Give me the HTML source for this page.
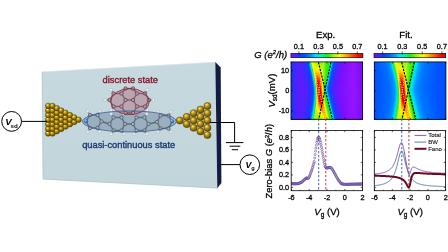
<!DOCTYPE html>
<html lang="en"><head><meta charset="utf-8"><title>Figure</title>
<style>html,body{margin:0;padding:0;background:#fff;overflow:hidden}svg{display:block}.c text{stroke:#000;stroke-width:.28px}</style>
</head><body>
<svg width="448" height="252" viewBox="0 0 448 252" font-family='"Liberation Sans", Arial, Helvetica, sans-serif'>
<rect width="448" height="252" fill="#fff"/>
<defs>
<radialGradient id="au" cx="0.38" cy="0.32" r="0.75"><stop offset="0" stop-color="#fffbd8"/><stop offset="0.14" stop-color="#e2c440"/><stop offset="0.42" stop-color="#b08c0c"/><stop offset="0.8" stop-color="#735800"/><stop offset="1" stop-color="#3f2f00"/></radialGradient>
<radialGradient id="nn" cx="0.4" cy="0.35" r="0.7"><stop offset="0" stop-color="#9fd0ff"/><stop offset="0.5" stop-color="#2f7fd0"/><stop offset="1" stop-color="#174a8c"/></radialGradient>
<linearGradient id="pan" x1="0" y1="0" x2="0" y2="1"><stop offset="0" stop-color="#c6d9de"/><stop offset="1" stop-color="#c1d5db"/></linearGradient>
</defs>
<polygon points="41.9,71.7 215.3,62 217.3,188.3 42.9,179.3" fill="url(#pan)"/>
<polygon points="215.3,62 220.7,67.4 221.4,182.9 217.3,188.3" fill="#101c44"/>
<polyline points="41.9,71.9 215.3,62.2" fill="none" stroke="#dfeaee" stroke-width="0.6"/>
<polyline points="42.1,71.7 43.1,179.1 217.2,188.1" fill="none" stroke="#afc3c9" stroke-width="0.7"/>
<ellipse cx="130" cy="101.6" rx="19.3" ry="13" fill="#a8465c" fill-opacity="0.34"/>
<ellipse cx="129.4" cy="121.4" rx="47" ry="10.5" fill="#48658a" fill-opacity="0.34"/>
<line x1="168.5" y1="115.5" x2="172.0" y2="122.0" stroke="#616c79" stroke-width="1.4"/><line x1="144.5" y1="130.5" x2="148.5" y2="124.0" stroke="#616c79" stroke-width="1.4"/><line x1="136.5" y1="130.5" x2="144.5" y2="130.5" stroke="#616c79" stroke-width="1.4"/><line x1="133.0" y1="124.0" x2="136.5" y2="130.5" stroke="#616c79" stroke-width="1.4"/><line x1="113.5" y1="130.5" x2="121.5" y2="130.5" stroke="#616c79" stroke-width="1.4"/><line x1="86.0" y1="121.5" x2="90.0" y2="115.0" stroke="#616c79" stroke-width="1.4"/><line x1="160.5" y1="115.5" x2="168.5" y2="115.5" stroke="#616c79" stroke-width="1.4"/><line x1="109.5" y1="124.0" x2="113.5" y2="117.5" stroke="#616c79" stroke-width="1.4"/><line x1="101.5" y1="121.5" x2="109.5" y2="124.0" stroke="#616c79" stroke-width="1.4"/><line x1="121.5" y1="117.5" x2="125.0" y2="124.0" stroke="#616c79" stroke-width="1.4"/><line x1="160.5" y1="128.5" x2="168.5" y2="128.5" stroke="#616c79" stroke-width="1.4"/><line x1="136.5" y1="117.5" x2="144.5" y2="117.5" stroke="#616c79" stroke-width="1.4"/><line x1="157.0" y1="122.0" x2="160.5" y2="128.5" stroke="#616c79" stroke-width="1.4"/><line x1="121.5" y1="130.5" x2="125.0" y2="124.0" stroke="#616c79" stroke-width="1.4"/><line x1="168.5" y1="128.5" x2="172.0" y2="122.0" stroke="#616c79" stroke-width="1.4"/><line x1="113.5" y1="117.5" x2="121.5" y2="117.5" stroke="#616c79" stroke-width="1.4"/><line x1="90.0" y1="128.0" x2="97.5" y2="128.0" stroke="#616c79" stroke-width="1.4"/><line x1="133.0" y1="124.0" x2="136.5" y2="117.5" stroke="#616c79" stroke-width="1.4"/><line x1="97.5" y1="115.0" x2="101.5" y2="121.5" stroke="#616c79" stroke-width="1.4"/><line x1="97.5" y1="128.0" x2="101.5" y2="121.5" stroke="#616c79" stroke-width="1.4"/><line x1="86.0" y1="121.5" x2="90.0" y2="128.0" stroke="#616c79" stroke-width="1.4"/><line x1="90.0" y1="115.0" x2="97.5" y2="115.0" stroke="#616c79" stroke-width="1.4"/><line x1="148.5" y1="124.0" x2="157.0" y2="122.0" stroke="#616c79" stroke-width="1.4"/><line x1="109.5" y1="124.0" x2="113.5" y2="130.5" stroke="#616c79" stroke-width="1.4"/><line x1="157.0" y1="122.0" x2="160.5" y2="115.5" stroke="#616c79" stroke-width="1.4"/><line x1="125.0" y1="124.0" x2="133.0" y2="124.0" stroke="#616c79" stroke-width="1.4"/><line x1="144.5" y1="117.5" x2="148.5" y2="124.0" stroke="#616c79" stroke-width="1.4"/><line x1="97.5" y1="128.0" x2="99.6" y2="131.9" stroke="#838c96" stroke-width="1"/><line x1="90.0" y1="128.0" x2="87.9" y2="131.9" stroke="#838c96" stroke-width="1"/><line x1="90.0" y1="115.0" x2="87.9" y2="111.1" stroke="#838c96" stroke-width="1"/><line x1="97.5" y1="115.0" x2="99.6" y2="111.1" stroke="#838c96" stroke-width="1"/><line x1="121.5" y1="130.5" x2="124.0" y2="134.1" stroke="#838c96" stroke-width="1"/><line x1="113.5" y1="130.5" x2="111.2" y2="134.2" stroke="#838c96" stroke-width="1"/><line x1="113.5" y1="117.5" x2="111.2" y2="113.8" stroke="#838c96" stroke-width="1"/><line x1="121.5" y1="117.5" x2="124.0" y2="113.9" stroke="#838c96" stroke-width="1"/><line x1="144.5" y1="130.5" x2="146.8" y2="134.2" stroke="#838c96" stroke-width="1"/><line x1="136.5" y1="130.5" x2="134.0" y2="134.1" stroke="#838c96" stroke-width="1"/><line x1="136.5" y1="117.5" x2="134.0" y2="113.9" stroke="#838c96" stroke-width="1"/><line x1="144.5" y1="117.5" x2="146.8" y2="113.8" stroke="#838c96" stroke-width="1"/><line x1="168.5" y1="128.5" x2="171.0" y2="132.1" stroke="#838c96" stroke-width="1"/><line x1="160.5" y1="128.5" x2="158.0" y2="132.1" stroke="#838c96" stroke-width="1"/><line x1="160.5" y1="115.5" x2="158.0" y2="111.9" stroke="#838c96" stroke-width="1"/><line x1="168.5" y1="115.5" x2="171.0" y2="111.9" stroke="#838c96" stroke-width="1"/><circle cx="101.5" cy="121.5" r="1.7" fill="#9fb0c0" stroke="#525c69" stroke-width="0.8"/><circle cx="97.5" cy="128.0" r="1.7" fill="#9fb0c0" stroke="#525c69" stroke-width="0.8"/><circle cx="90.0" cy="128.0" r="1.7" fill="#9fb0c0" stroke="#525c69" stroke-width="0.8"/><circle cx="90.0" cy="115.0" r="1.7" fill="#9fb0c0" stroke="#525c69" stroke-width="0.8"/><circle cx="97.5" cy="115.0" r="1.7" fill="#9fb0c0" stroke="#525c69" stroke-width="0.8"/><circle cx="125.0" cy="124.0" r="1.7" fill="#9fb0c0" stroke="#525c69" stroke-width="0.8"/><circle cx="121.5" cy="130.5" r="1.7" fill="#9fb0c0" stroke="#525c69" stroke-width="0.8"/><circle cx="113.5" cy="130.5" r="1.7" fill="#9fb0c0" stroke="#525c69" stroke-width="0.8"/><circle cx="109.5" cy="124.0" r="1.7" fill="#9fb0c0" stroke="#525c69" stroke-width="0.8"/><circle cx="113.5" cy="117.5" r="1.7" fill="#9fb0c0" stroke="#525c69" stroke-width="0.8"/><circle cx="121.5" cy="117.5" r="1.7" fill="#9fb0c0" stroke="#525c69" stroke-width="0.8"/><circle cx="148.5" cy="124.0" r="1.7" fill="#9fb0c0" stroke="#525c69" stroke-width="0.8"/><circle cx="144.5" cy="130.5" r="1.7" fill="#9fb0c0" stroke="#525c69" stroke-width="0.8"/><circle cx="136.5" cy="130.5" r="1.7" fill="#9fb0c0" stroke="#525c69" stroke-width="0.8"/><circle cx="133.0" cy="124.0" r="1.7" fill="#9fb0c0" stroke="#525c69" stroke-width="0.8"/><circle cx="136.5" cy="117.5" r="1.7" fill="#9fb0c0" stroke="#525c69" stroke-width="0.8"/><circle cx="144.5" cy="117.5" r="1.7" fill="#9fb0c0" stroke="#525c69" stroke-width="0.8"/><circle cx="168.5" cy="128.5" r="1.7" fill="#9fb0c0" stroke="#525c69" stroke-width="0.8"/><circle cx="160.5" cy="128.5" r="1.7" fill="#9fb0c0" stroke="#525c69" stroke-width="0.8"/><circle cx="157.0" cy="122.0" r="1.7" fill="#9fb0c0" stroke="#525c69" stroke-width="0.8"/><circle cx="160.5" cy="115.5" r="1.7" fill="#9fb0c0" stroke="#525c69" stroke-width="0.8"/><circle cx="168.5" cy="115.5" r="1.7" fill="#9fb0c0" stroke="#525c69" stroke-width="0.8"/><circle cx="99.6" cy="131.9" r="1.4" fill="#f6f8f9" stroke="#98a1aa" stroke-width="0.45"/><circle cx="87.9" cy="131.9" r="1.4" fill="#f6f8f9" stroke="#98a1aa" stroke-width="0.45"/><circle cx="87.9" cy="111.1" r="1.4" fill="#f6f8f9" stroke="#98a1aa" stroke-width="0.45"/><circle cx="99.6" cy="111.1" r="1.4" fill="#f6f8f9" stroke="#98a1aa" stroke-width="0.45"/><circle cx="124.0" cy="134.1" r="1.4" fill="#f6f8f9" stroke="#98a1aa" stroke-width="0.45"/><circle cx="111.2" cy="134.2" r="1.4" fill="#f6f8f9" stroke="#98a1aa" stroke-width="0.45"/><circle cx="111.2" cy="113.8" r="1.4" fill="#f6f8f9" stroke="#98a1aa" stroke-width="0.45"/><circle cx="124.0" cy="113.9" r="1.4" fill="#f6f8f9" stroke="#98a1aa" stroke-width="0.45"/><circle cx="146.8" cy="134.2" r="1.4" fill="#f6f8f9" stroke="#98a1aa" stroke-width="0.45"/><circle cx="134.0" cy="134.1" r="1.4" fill="#f6f8f9" stroke="#98a1aa" stroke-width="0.45"/><circle cx="134.0" cy="113.9" r="1.4" fill="#f6f8f9" stroke="#98a1aa" stroke-width="0.45"/><circle cx="146.8" cy="113.8" r="1.4" fill="#f6f8f9" stroke="#98a1aa" stroke-width="0.45"/><circle cx="171.0" cy="132.1" r="1.4" fill="#f6f8f9" stroke="#98a1aa" stroke-width="0.45"/><circle cx="158.0" cy="132.1" r="1.4" fill="#f6f8f9" stroke="#98a1aa" stroke-width="0.45"/><circle cx="158.0" cy="111.9" r="1.4" fill="#f6f8f9" stroke="#98a1aa" stroke-width="0.45"/><circle cx="171.0" cy="111.9" r="1.4" fill="#f6f8f9" stroke="#98a1aa" stroke-width="0.45"/>
<line x1="133.0" y1="88.5" x2="137.0" y2="93.5" stroke="#7d5f6a" stroke-width="1.4"/><line x1="133.0" y1="113.0" x2="137.0" y2="106.5" stroke="#7d5f6a" stroke-width="1.4"/><line x1="145.0" y1="106.5" x2="149.0" y2="100.0" stroke="#7d5f6a" stroke-width="1.4"/><line x1="121.5" y1="93.5" x2="125.5" y2="88.5" stroke="#7d5f6a" stroke-width="1.4"/><line x1="125.5" y1="113.0" x2="133.0" y2="113.0" stroke="#7d5f6a" stroke-width="1.4"/><line x1="113.5" y1="106.5" x2="121.5" y2="106.5" stroke="#7d5f6a" stroke-width="1.4"/><line x1="113.5" y1="93.5" x2="121.5" y2="93.5" stroke="#7d5f6a" stroke-width="1.4"/><line x1="133.0" y1="100.0" x2="137.0" y2="106.5" stroke="#7d5f6a" stroke-width="1.4"/><line x1="109.5" y1="100.0" x2="113.5" y2="93.5" stroke="#7d5f6a" stroke-width="1.4"/><line x1="137.0" y1="106.5" x2="145.0" y2="106.5" stroke="#7d5f6a" stroke-width="1.4"/><line x1="125.5" y1="100.0" x2="133.0" y2="100.0" stroke="#7d5f6a" stroke-width="1.4"/><line x1="121.5" y1="106.5" x2="125.5" y2="113.0" stroke="#7d5f6a" stroke-width="1.4"/><line x1="137.0" y1="93.5" x2="145.0" y2="93.5" stroke="#7d5f6a" stroke-width="1.4"/><line x1="133.0" y1="100.0" x2="137.0" y2="93.5" stroke="#7d5f6a" stroke-width="1.4"/><line x1="145.0" y1="93.5" x2="149.0" y2="100.0" stroke="#7d5f6a" stroke-width="1.4"/><line x1="125.5" y1="88.5" x2="133.0" y2="88.5" stroke="#7d5f6a" stroke-width="1.4"/><line x1="109.5" y1="100.0" x2="113.5" y2="106.5" stroke="#7d5f6a" stroke-width="1.4"/><line x1="121.5" y1="106.5" x2="125.5" y2="100.0" stroke="#7d5f6a" stroke-width="1.4"/><line x1="121.5" y1="93.5" x2="125.5" y2="100.0" stroke="#7d5f6a" stroke-width="1.4"/><line x1="113.5" y1="106.5" x2="111.2" y2="110.2" stroke="#838c96" stroke-width="1"/><line x1="109.5" y1="100.0" x2="105.1" y2="100.0" stroke="#838c96" stroke-width="1"/><line x1="113.5" y1="93.5" x2="111.2" y2="89.8" stroke="#838c96" stroke-width="1"/><line x1="149.0" y1="100.0" x2="153.4" y2="100.0" stroke="#838c96" stroke-width="1"/><line x1="145.0" y1="106.5" x2="147.3" y2="110.2" stroke="#838c96" stroke-width="1"/><line x1="145.0" y1="93.5" x2="147.3" y2="89.8" stroke="#838c96" stroke-width="1"/><circle cx="125.5" cy="100.0" r="1.7" fill="#b79ca7" stroke="#5f434e" stroke-width="0.8"/><circle cx="121.5" cy="106.5" r="1.7" fill="#b79ca7" stroke="#5f434e" stroke-width="0.8"/><circle cx="113.5" cy="106.5" r="1.7" fill="#b79ca7" stroke="#5f434e" stroke-width="0.8"/><circle cx="109.5" cy="100.0" r="1.7" fill="#b79ca7" stroke="#5f434e" stroke-width="0.8"/><circle cx="113.5" cy="93.5" r="1.7" fill="#b79ca7" stroke="#5f434e" stroke-width="0.8"/><circle cx="121.5" cy="93.5" r="1.7" fill="#b79ca7" stroke="#5f434e" stroke-width="0.8"/><circle cx="137.0" cy="93.5" r="1.7" fill="#b79ca7" stroke="#5f434e" stroke-width="0.8"/><circle cx="133.0" cy="100.0" r="1.7" fill="#b79ca7" stroke="#5f434e" stroke-width="0.8"/><circle cx="125.5" cy="88.5" r="1.7" fill="#b79ca7" stroke="#5f434e" stroke-width="0.8"/><circle cx="133.0" cy="88.5" r="1.7" fill="#b79ca7" stroke="#5f434e" stroke-width="0.8"/><circle cx="137.0" cy="106.5" r="1.7" fill="#b79ca7" stroke="#5f434e" stroke-width="0.8"/><circle cx="133.0" cy="113.0" r="1.7" fill="#b79ca7" stroke="#5f434e" stroke-width="0.8"/><circle cx="125.5" cy="113.0" r="1.7" fill="#b79ca7" stroke="#5f434e" stroke-width="0.8"/><circle cx="149.0" cy="100.0" r="1.7" fill="#b79ca7" stroke="#5f434e" stroke-width="0.8"/><circle cx="145.0" cy="106.5" r="1.7" fill="#b79ca7" stroke="#5f434e" stroke-width="0.8"/><circle cx="145.0" cy="93.5" r="1.7" fill="#b79ca7" stroke="#5f434e" stroke-width="0.8"/><circle cx="111.2" cy="110.2" r="1.4" fill="#f6f8f9" stroke="#98a1aa" stroke-width="0.45"/><circle cx="105.1" cy="100.0" r="1.4" fill="#f6f8f9" stroke="#98a1aa" stroke-width="0.45"/><circle cx="111.2" cy="89.8" r="1.4" fill="#f6f8f9" stroke="#98a1aa" stroke-width="0.45"/><circle cx="153.4" cy="100.0" r="1.4" fill="#f6f8f9" stroke="#98a1aa" stroke-width="0.45"/><circle cx="147.3" cy="110.2" r="1.4" fill="#f6f8f9" stroke="#98a1aa" stroke-width="0.45"/><circle cx="147.3" cy="89.8" r="1.4" fill="#f6f8f9" stroke="#98a1aa" stroke-width="0.45"/>
<ellipse cx="130" cy="101.6" rx="19.3" ry="13" fill="none" stroke="#8c2035" stroke-width="0.8"/>
<ellipse cx="129.4" cy="121.4" rx="47" ry="10.5" fill="none" stroke="#3b5f98" stroke-width="0.8"/>
<circle cx="86.1" cy="121.2" r="1.9" fill="url(#nn)"/><circle cx="172" cy="121.3" r="1.9" fill="url(#nn)"/>
<circle cx="48.1" cy="133.5" r="2.75" fill="url(#au)" stroke="#4a3800" stroke-width="0.5"/>
<circle cx="48.1" cy="128.9" r="2.75" fill="url(#au)" stroke="#4a3800" stroke-width="0.5"/>
<circle cx="48.1" cy="124.3" r="2.75" fill="url(#au)" stroke="#4a3800" stroke-width="0.5"/>
<circle cx="48.1" cy="119.7" r="2.75" fill="url(#au)" stroke="#4a3800" stroke-width="0.5"/>
<circle cx="48.1" cy="115.1" r="2.75" fill="url(#au)" stroke="#4a3800" stroke-width="0.5"/>
<circle cx="48.1" cy="110.5" r="2.75" fill="url(#au)" stroke="#4a3800" stroke-width="0.5"/>
<circle cx="48.1" cy="105.9" r="2.75" fill="url(#au)" stroke="#4a3800" stroke-width="0.5"/>
<circle cx="52.5" cy="133.5" r="2.75" fill="url(#au)" stroke="#4a3800" stroke-width="0.5"/>
<circle cx="52.5" cy="128.9" r="2.75" fill="url(#au)" stroke="#4a3800" stroke-width="0.5"/>
<circle cx="52.5" cy="124.3" r="2.75" fill="url(#au)" stroke="#4a3800" stroke-width="0.5"/>
<circle cx="52.5" cy="119.7" r="2.75" fill="url(#au)" stroke="#4a3800" stroke-width="0.5"/>
<circle cx="52.5" cy="115.1" r="2.75" fill="url(#au)" stroke="#4a3800" stroke-width="0.5"/>
<circle cx="52.5" cy="110.5" r="2.75" fill="url(#au)" stroke="#4a3800" stroke-width="0.5"/>
<circle cx="52.5" cy="105.9" r="2.75" fill="url(#au)" stroke="#4a3800" stroke-width="0.5"/>
<circle cx="56.8" cy="131.2" r="2.75" fill="url(#au)" stroke="#4a3800" stroke-width="0.5"/>
<circle cx="56.8" cy="126.6" r="2.75" fill="url(#au)" stroke="#4a3800" stroke-width="0.5"/>
<circle cx="56.8" cy="122.0" r="2.75" fill="url(#au)" stroke="#4a3800" stroke-width="0.5"/>
<circle cx="56.8" cy="117.4" r="2.75" fill="url(#au)" stroke="#4a3800" stroke-width="0.5"/>
<circle cx="56.8" cy="112.8" r="2.75" fill="url(#au)" stroke="#4a3800" stroke-width="0.5"/>
<circle cx="56.8" cy="108.2" r="2.75" fill="url(#au)" stroke="#4a3800" stroke-width="0.5"/>
<circle cx="61.2" cy="128.9" r="2.75" fill="url(#au)" stroke="#4a3800" stroke-width="0.5"/>
<circle cx="61.2" cy="124.3" r="2.75" fill="url(#au)" stroke="#4a3800" stroke-width="0.5"/>
<circle cx="61.2" cy="119.7" r="2.75" fill="url(#au)" stroke="#4a3800" stroke-width="0.5"/>
<circle cx="61.2" cy="115.1" r="2.75" fill="url(#au)" stroke="#4a3800" stroke-width="0.5"/>
<circle cx="61.2" cy="110.5" r="2.75" fill="url(#au)" stroke="#4a3800" stroke-width="0.5"/>
<circle cx="65.5" cy="126.6" r="2.75" fill="url(#au)" stroke="#4a3800" stroke-width="0.5"/>
<circle cx="65.5" cy="122.0" r="2.75" fill="url(#au)" stroke="#4a3800" stroke-width="0.5"/>
<circle cx="65.5" cy="117.4" r="2.75" fill="url(#au)" stroke="#4a3800" stroke-width="0.5"/>
<circle cx="65.5" cy="112.8" r="2.75" fill="url(#au)" stroke="#4a3800" stroke-width="0.5"/>
<circle cx="69.9" cy="124.3" r="2.75" fill="url(#au)" stroke="#4a3800" stroke-width="0.5"/>
<circle cx="69.9" cy="119.7" r="2.75" fill="url(#au)" stroke="#4a3800" stroke-width="0.5"/>
<circle cx="69.9" cy="115.1" r="2.75" fill="url(#au)" stroke="#4a3800" stroke-width="0.5"/>
<circle cx="74.2" cy="122.0" r="2.75" fill="url(#au)" stroke="#4a3800" stroke-width="0.5"/>
<circle cx="74.2" cy="117.4" r="2.75" fill="url(#au)" stroke="#4a3800" stroke-width="0.5"/>
<circle cx="78.6" cy="119.7" r="2.75" fill="url(#au)" stroke="#4a3800" stroke-width="0.5"/>
<circle cx="179.8" cy="120.5" r="3.55" fill="url(#au)" stroke="#4a3800" stroke-width="0.5"/>
<circle cx="186.7" cy="116.9" r="3.55" fill="url(#au)" stroke="#4a3800" stroke-width="0.5"/>
<circle cx="186.7" cy="124.1" r="3.55" fill="url(#au)" stroke="#4a3800" stroke-width="0.5"/>
<circle cx="193.6" cy="113.2" r="3.55" fill="url(#au)" stroke="#4a3800" stroke-width="0.5"/>
<circle cx="193.6" cy="120.5" r="3.55" fill="url(#au)" stroke="#4a3800" stroke-width="0.5"/>
<circle cx="193.6" cy="127.8" r="3.55" fill="url(#au)" stroke="#4a3800" stroke-width="0.5"/>
<circle cx="200.5" cy="109.6" r="3.55" fill="url(#au)" stroke="#4a3800" stroke-width="0.5"/>
<circle cx="200.5" cy="116.9" r="3.55" fill="url(#au)" stroke="#4a3800" stroke-width="0.5"/>
<circle cx="200.5" cy="124.1" r="3.55" fill="url(#au)" stroke="#4a3800" stroke-width="0.5"/>
<circle cx="200.5" cy="131.4" r="3.55" fill="url(#au)" stroke="#4a3800" stroke-width="0.5"/>
<circle cx="207.4" cy="106.0" r="3.55" fill="url(#au)" stroke="#4a3800" stroke-width="0.5"/>
<circle cx="207.4" cy="113.2" r="3.55" fill="url(#au)" stroke="#4a3800" stroke-width="0.5"/>
<circle cx="207.4" cy="120.5" r="3.55" fill="url(#au)" stroke="#4a3800" stroke-width="0.5"/>
<circle cx="207.4" cy="127.8" r="3.55" fill="url(#au)" stroke="#4a3800" stroke-width="0.5"/>
<circle cx="207.4" cy="135.0" r="3.55" fill="url(#au)" stroke="#4a3800" stroke-width="0.5"/>
<text x="130.25" y="83.4" font-size="9.3" fill="#85172a" text-anchor="middle" stroke="#85172a" stroke-width="0.35">discrete state</text>
<text x="128.65" y="148" font-size="9.3" fill="#1b3873" text-anchor="middle" stroke="#1b3873" stroke-width="0.35">quasi-continuous state</text>
<g stroke="#000" stroke-width="1" fill="none">
<line x1="21.4" y1="121.4" x2="47" y2="121.4"/>
<circle cx="11.6" cy="121.4" r="9.9" fill="#fff"/>
<polyline points="210,122.5 234.6,122.5 234.6,142.6"/>
<line x1="226" y1="142.6" x2="243.4" y2="142.6"/><line x1="229.6" y1="146.2" x2="240.3" y2="146.2"/><line x1="231.8" y1="149.7" x2="238" y2="149.7"/>
<line x1="221" y1="164.6" x2="240" y2="164.6"/>
<circle cx="249.8" cy="164.7" r="9.8" fill="#fff"/>
</g>
<text x="5.2" y="125" font-size="9.6" font-weight="bold" font-style="italic">V</text><text x="10.5" y="128" font-size="6.2" font-weight="bold">sd</text>
<text x="245.6" y="167.5" font-size="8.8" font-weight="bold" font-style="italic">V</text><text x="251.3" y="170" font-size="5.6" font-weight="bold">g</text>
<g class="c">
<defs><linearGradient id="cb1"><stop offset="0.000" stop-color="#810eff"/><stop offset="0.025" stop-color="#6915ff"/><stop offset="0.050" stop-color="#4f21ff"/><stop offset="0.075" stop-color="#382aff"/><stop offset="0.100" stop-color="#2233ff"/><stop offset="0.125" stop-color="#123cff"/><stop offset="0.150" stop-color="#0b44ff"/><stop offset="0.175" stop-color="#034dff"/><stop offset="0.200" stop-color="#005bff"/><stop offset="0.225" stop-color="#006dff"/><stop offset="0.250" stop-color="#007eff"/><stop offset="0.275" stop-color="#0091ff"/><stop offset="0.300" stop-color="#00aaff"/><stop offset="0.325" stop-color="#00c3ff"/><stop offset="0.350" stop-color="#00dcff"/><stop offset="0.375" stop-color="#00e7e1"/><stop offset="0.400" stop-color="#00eebc"/><stop offset="0.425" stop-color="#00f597"/><stop offset="0.450" stop-color="#06f471"/><stop offset="0.475" stop-color="#0cf24a"/><stop offset="0.500" stop-color="#11f124"/><stop offset="0.525" stop-color="#2cf111"/><stop offset="0.550" stop-color="#55f20b"/><stop offset="0.575" stop-color="#7ef405"/><stop offset="0.600" stop-color="#a5f500"/><stop offset="0.625" stop-color="#c1f700"/><stop offset="0.650" stop-color="#ddf800"/><stop offset="0.675" stop-color="#f8fa00"/><stop offset="0.700" stop-color="#ffe800"/><stop offset="0.725" stop-color="#ffd000"/><stop offset="0.750" stop-color="#ffb900"/><stop offset="0.775" stop-color="#ffa000"/><stop offset="0.800" stop-color="#ff8600"/><stop offset="0.825" stop-color="#ff6c00"/><stop offset="0.850" stop-color="#ff5100"/><stop offset="0.875" stop-color="#fe3c00"/><stop offset="0.900" stop-color="#fc2800"/><stop offset="0.925" stop-color="#fb1300"/><stop offset="0.950" stop-color="#f50900"/><stop offset="0.975" stop-color="#ec0600"/><stop offset="1.000" stop-color="#e40400"/></linearGradient></defs>
<rect x="290.9" y="53.3" width="72.00" height="4.40" fill="url(#cb1)" stroke="#000" stroke-width="0.6"/>
<defs><linearGradient id="cb2"><stop offset="0.000" stop-color="#810eff"/><stop offset="0.025" stop-color="#6915ff"/><stop offset="0.050" stop-color="#4f21ff"/><stop offset="0.075" stop-color="#382aff"/><stop offset="0.100" stop-color="#2233ff"/><stop offset="0.125" stop-color="#123cff"/><stop offset="0.150" stop-color="#0b44ff"/><stop offset="0.175" stop-color="#034dff"/><stop offset="0.200" stop-color="#005bff"/><stop offset="0.225" stop-color="#006dff"/><stop offset="0.250" stop-color="#007eff"/><stop offset="0.275" stop-color="#0091ff"/><stop offset="0.300" stop-color="#00aaff"/><stop offset="0.325" stop-color="#00c3ff"/><stop offset="0.350" stop-color="#00dcff"/><stop offset="0.375" stop-color="#00e7e1"/><stop offset="0.400" stop-color="#00eebc"/><stop offset="0.425" stop-color="#00f597"/><stop offset="0.450" stop-color="#06f471"/><stop offset="0.475" stop-color="#0cf24a"/><stop offset="0.500" stop-color="#11f124"/><stop offset="0.525" stop-color="#2cf111"/><stop offset="0.550" stop-color="#55f20b"/><stop offset="0.575" stop-color="#7ef405"/><stop offset="0.600" stop-color="#a5f500"/><stop offset="0.625" stop-color="#c1f700"/><stop offset="0.650" stop-color="#ddf800"/><stop offset="0.675" stop-color="#f8fa00"/><stop offset="0.700" stop-color="#ffe800"/><stop offset="0.725" stop-color="#ffd000"/><stop offset="0.750" stop-color="#ffb900"/><stop offset="0.775" stop-color="#ffa000"/><stop offset="0.800" stop-color="#ff8600"/><stop offset="0.825" stop-color="#ff6c00"/><stop offset="0.850" stop-color="#ff5100"/><stop offset="0.875" stop-color="#fe3c00"/><stop offset="0.900" stop-color="#fc2800"/><stop offset="0.925" stop-color="#fb1300"/><stop offset="0.950" stop-color="#f50900"/><stop offset="0.975" stop-color="#ec0600"/><stop offset="1.000" stop-color="#e40400"/></linearGradient></defs>
<rect x="374.0" y="53.3" width="71.70" height="4.40" fill="url(#cb2)" stroke="#000" stroke-width="0.6"/>
<line x1="298.9" y1="51.3" x2="298.9" y2="54.5" stroke="#000" stroke-width="0.6"/>
<text x="298.9" y="48.7" font-size="7.3" text-anchor="middle">0.1</text>
<line x1="318.4" y1="51.3" x2="318.4" y2="54.5" stroke="#000" stroke-width="0.6"/>
<text x="318.4" y="48.7" font-size="7.3" text-anchor="middle">0.3</text>
<line x1="337.9" y1="51.3" x2="337.9" y2="54.5" stroke="#000" stroke-width="0.6"/>
<text x="337.9" y="48.7" font-size="7.3" text-anchor="middle">0.5</text>
<line x1="357.3" y1="51.3" x2="357.3" y2="54.5" stroke="#000" stroke-width="0.6"/>
<text x="357.3" y="48.7" font-size="7.3" text-anchor="middle">0.7</text>
<line x1="382.6" y1="51.3" x2="382.6" y2="54.5" stroke="#000" stroke-width="0.6"/>
<text x="382.6" y="48.7" font-size="7.3" text-anchor="middle">0.1</text>
<line x1="402.3" y1="51.3" x2="402.3" y2="54.5" stroke="#000" stroke-width="0.6"/>
<text x="402.3" y="48.7" font-size="7.3" text-anchor="middle">0.3</text>
<line x1="422.2" y1="51.3" x2="422.2" y2="54.5" stroke="#000" stroke-width="0.6"/>
<text x="422.2" y="48.7" font-size="7.3" text-anchor="middle">0.5</text>
<line x1="441.9" y1="51.3" x2="441.9" y2="54.5" stroke="#000" stroke-width="0.6"/>
<text x="441.9" y="48.7" font-size="7.3" text-anchor="middle">0.7</text>
<text x="325.6" y="38" font-size="9.6" text-anchor="middle">Exp.</text>
<text x="406" y="38" font-size="9.6" text-anchor="middle">Fit.</text>
<text x="254.3" y="57.7" font-size="9.5" font-style="italic">G (e<tspan font-size="5.8" dy="-3.8">2</tspan><tspan dy="3.8">/h)</tspan></text>
<defs><linearGradient id="e0"><stop offset="0.000" stop-color="#1539ff"/><stop offset="0.045" stop-color="#322dff"/><stop offset="0.095" stop-color="#531fff"/><stop offset="0.168" stop-color="#3f28ff"/><stop offset="0.229" stop-color="#0847ff"/><stop offset="0.240" stop-color="#005cff"/><stop offset="0.251" stop-color="#008dff"/><stop offset="0.257" stop-color="#00bbff"/><stop offset="0.263" stop-color="#00e6e6"/><stop offset="0.268" stop-color="#02f58c"/><stop offset="0.274" stop-color="#11f127"/><stop offset="0.279" stop-color="#6df307"/><stop offset="0.285" stop-color="#adf600"/><stop offset="0.296" stop-color="#eaf900"/><stop offset="0.307" stop-color="#f2f900"/><stop offset="0.335" stop-color="#a9f500"/><stop offset="0.352" stop-color="#a2f500"/><stop offset="0.385" stop-color="#b4f600"/><stop offset="0.475" stop-color="#6ff307"/><stop offset="0.525" stop-color="#17f014"/><stop offset="0.542" stop-color="#0cf249"/><stop offset="0.564" stop-color="#00edc2"/><stop offset="0.570" stop-color="#00e2fc"/><stop offset="0.581" stop-color="#0094ff"/><stop offset="0.598" stop-color="#0052ff"/><stop offset="0.642" stop-color="#392aff"/><stop offset="0.715" stop-color="#7210ff"/><stop offset="0.855" stop-color="#9614ff"/><stop offset="0.955" stop-color="#840eff"/><stop offset="1.000" stop-color="#6f12ff"/></linearGradient><linearGradient id="e1"><stop offset="0.000" stop-color="#1539ff"/><stop offset="0.045" stop-color="#322dff"/><stop offset="0.101" stop-color="#541eff"/><stop offset="0.184" stop-color="#362bff"/><stop offset="0.235" stop-color="#0649ff"/><stop offset="0.246" stop-color="#0064ff"/><stop offset="0.257" stop-color="#009eff"/><stop offset="0.263" stop-color="#00d0ff"/><stop offset="0.268" stop-color="#00ecc4"/><stop offset="0.274" stop-color="#08f365"/><stop offset="0.279" stop-color="#2bf111"/><stop offset="0.285" stop-color="#8bf403"/><stop offset="0.291" stop-color="#bdf700"/><stop offset="0.302" stop-color="#f1f900"/><stop offset="0.313" stop-color="#f2f900"/><stop offset="0.341" stop-color="#aef600"/><stop offset="0.369" stop-color="#b8f600"/><stop offset="0.397" stop-color="#b7f600"/><stop offset="0.469" stop-color="#78f406"/><stop offset="0.525" stop-color="#13f018"/><stop offset="0.542" stop-color="#0af356"/><stop offset="0.559" stop-color="#00f0b2"/><stop offset="0.564" stop-color="#00e7de"/><stop offset="0.570" stop-color="#00cdff"/><stop offset="0.581" stop-color="#0085ff"/><stop offset="0.598" stop-color="#034dff"/><stop offset="0.654" stop-color="#4724ff"/><stop offset="0.732" stop-color="#7b0cff"/><stop offset="0.883" stop-color="#9614ff"/><stop offset="0.978" stop-color="#790eff"/><stop offset="1.000" stop-color="#6f12ff"/></linearGradient><linearGradient id="e2"><stop offset="0.000" stop-color="#1539ff"/><stop offset="0.045" stop-color="#322dff"/><stop offset="0.101" stop-color="#551eff"/><stop offset="0.179" stop-color="#3d29ff"/><stop offset="0.235" stop-color="#0a45ff"/><stop offset="0.246" stop-color="#0058ff"/><stop offset="0.257" stop-color="#0086ff"/><stop offset="0.268" stop-color="#00e2f9"/><stop offset="0.274" stop-color="#00f3a0"/><stop offset="0.279" stop-color="#0ef23d"/><stop offset="0.285" stop-color="#57f20a"/><stop offset="0.291" stop-color="#a5f500"/><stop offset="0.302" stop-color="#e9f900"/><stop offset="0.313" stop-color="#fafa00"/><stop offset="0.346" stop-color="#b6f600"/><stop offset="0.391" stop-color="#c5f700"/><stop offset="0.464" stop-color="#81f404"/><stop offset="0.520" stop-color="#17f014"/><stop offset="0.536" stop-color="#0cf24a"/><stop offset="0.559" stop-color="#00ecc4"/><stop offset="0.564" stop-color="#00e0ff"/><stop offset="0.575" stop-color="#0092ff"/><stop offset="0.592" stop-color="#0051ff"/><stop offset="0.642" stop-color="#3f28ff"/><stop offset="0.721" stop-color="#770eff"/><stop offset="0.872" stop-color="#9714ff"/><stop offset="0.972" stop-color="#7c0cff"/><stop offset="1.000" stop-color="#6f12ff"/></linearGradient><linearGradient id="e3"><stop offset="0.000" stop-color="#1539ff"/><stop offset="0.039" stop-color="#2d2fff"/><stop offset="0.095" stop-color="#551eff"/><stop offset="0.173" stop-color="#4226ff"/><stop offset="0.240" stop-color="#0848ff"/><stop offset="0.251" stop-color="#005fff"/><stop offset="0.263" stop-color="#0094ff"/><stop offset="0.268" stop-color="#00c4ff"/><stop offset="0.274" stop-color="#00e9d7"/><stop offset="0.279" stop-color="#04f47a"/><stop offset="0.285" stop-color="#14f014"/><stop offset="0.291" stop-color="#7ef405"/><stop offset="0.296" stop-color="#b7f600"/><stop offset="0.307" stop-color="#f3f900"/><stop offset="0.318" stop-color="#fcfa00"/><stop offset="0.346" stop-color="#c3f700"/><stop offset="0.391" stop-color="#d0f800"/><stop offset="0.464" stop-color="#82f404"/><stop offset="0.520" stop-color="#13f018"/><stop offset="0.542" stop-color="#05f474"/><stop offset="0.553" stop-color="#00efb5"/><stop offset="0.559" stop-color="#00e6e2"/><stop offset="0.564" stop-color="#00caff"/><stop offset="0.575" stop-color="#0083ff"/><stop offset="0.592" stop-color="#034cff"/><stop offset="0.648" stop-color="#4824ff"/><stop offset="0.732" stop-color="#7d0cff"/><stop offset="0.883" stop-color="#9614ff"/><stop offset="0.978" stop-color="#790dff"/><stop offset="1.000" stop-color="#6f12ff"/></linearGradient><linearGradient id="e4"><stop offset="0.000" stop-color="#1539ff"/><stop offset="0.039" stop-color="#2d2fff"/><stop offset="0.095" stop-color="#551eff"/><stop offset="0.173" stop-color="#4426ff"/><stop offset="0.240" stop-color="#0b44ff"/><stop offset="0.251" stop-color="#0053ff"/><stop offset="0.263" stop-color="#0080ff"/><stop offset="0.274" stop-color="#00d9ff"/><stop offset="0.279" stop-color="#00efb3"/><stop offset="0.285" stop-color="#0bf251"/><stop offset="0.291" stop-color="#41f20e"/><stop offset="0.296" stop-color="#9cf501"/><stop offset="0.307" stop-color="#e9f900"/><stop offset="0.313" stop-color="#fcfa00"/><stop offset="0.324" stop-color="#fffa00"/><stop offset="0.346" stop-color="#d3f800"/><stop offset="0.374" stop-color="#daf800"/><stop offset="0.397" stop-color="#d8f800"/><stop offset="0.458" stop-color="#8ef403"/><stop offset="0.514" stop-color="#18f013"/><stop offset="0.531" stop-color="#0cf24b"/><stop offset="0.553" stop-color="#00ecc7"/><stop offset="0.559" stop-color="#00ddff"/><stop offset="0.570" stop-color="#008fff"/><stop offset="0.587" stop-color="#0050ff"/><stop offset="0.642" stop-color="#4525ff"/><stop offset="0.721" stop-color="#790dff"/><stop offset="0.877" stop-color="#9714ff"/><stop offset="0.978" stop-color="#790dff"/><stop offset="1.000" stop-color="#6f12ff"/></linearGradient><linearGradient id="e5"><stop offset="0.000" stop-color="#1539ff"/><stop offset="0.045" stop-color="#332cff"/><stop offset="0.101" stop-color="#571dff"/><stop offset="0.184" stop-color="#4027ff"/><stop offset="0.246" stop-color="#0946ff"/><stop offset="0.257" stop-color="#005bff"/><stop offset="0.268" stop-color="#008bff"/><stop offset="0.274" stop-color="#00b9ff"/><stop offset="0.279" stop-color="#00e5e9"/><stop offset="0.285" stop-color="#01f58e"/><stop offset="0.291" stop-color="#11f128"/><stop offset="0.296" stop-color="#6ff307"/><stop offset="0.302" stop-color="#b2f600"/><stop offset="0.313" stop-color="#f6fa00"/><stop offset="0.330" stop-color="#fff700"/><stop offset="0.358" stop-color="#ddf800"/><stop offset="0.391" stop-color="#e8f900"/><stop offset="0.458" stop-color="#90f402"/><stop offset="0.514" stop-color="#13f018"/><stop offset="0.531" stop-color="#09f358"/><stop offset="0.547" stop-color="#00efb7"/><stop offset="0.553" stop-color="#00e6e6"/><stop offset="0.559" stop-color="#00c7ff"/><stop offset="0.570" stop-color="#0081ff"/><stop offset="0.587" stop-color="#044cff"/><stop offset="0.648" stop-color="#4d21ff"/><stop offset="0.732" stop-color="#7e0dff"/><stop offset="0.883" stop-color="#9614ff"/><stop offset="0.978" stop-color="#790dff"/><stop offset="1.000" stop-color="#6f12ff"/></linearGradient><linearGradient id="e6"><stop offset="0.000" stop-color="#1539ff"/><stop offset="0.050" stop-color="#392aff"/><stop offset="0.106" stop-color="#581dff"/><stop offset="0.190" stop-color="#3f28ff"/><stop offset="0.251" stop-color="#0748ff"/><stop offset="0.263" stop-color="#0063ff"/><stop offset="0.274" stop-color="#009cff"/><stop offset="0.279" stop-color="#00ceff"/><stop offset="0.285" stop-color="#00ecc5"/><stop offset="0.291" stop-color="#08f365"/><stop offset="0.296" stop-color="#2df110"/><stop offset="0.302" stop-color="#93f502"/><stop offset="0.307" stop-color="#c6f700"/><stop offset="0.313" stop-color="#eaf900"/><stop offset="0.318" stop-color="#fff700"/><stop offset="0.330" stop-color="#ffec00"/><stop offset="0.346" stop-color="#f6fa00"/><stop offset="0.369" stop-color="#f0f900"/><stop offset="0.397" stop-color="#f2f900"/><stop offset="0.458" stop-color="#92f402"/><stop offset="0.508" stop-color="#19f013"/><stop offset="0.525" stop-color="#0bf24c"/><stop offset="0.547" stop-color="#00ebc9"/><stop offset="0.553" stop-color="#00dbff"/><stop offset="0.564" stop-color="#008dff"/><stop offset="0.581" stop-color="#014fff"/><stop offset="0.637" stop-color="#4525ff"/><stop offset="0.721" stop-color="#7b0dff"/><stop offset="0.877" stop-color="#9714ff"/><stop offset="0.978" stop-color="#790dff"/><stop offset="1.000" stop-color="#6f12ff"/></linearGradient><linearGradient id="e7"><stop offset="0.000" stop-color="#1539ff"/><stop offset="0.050" stop-color="#392aff"/><stop offset="0.101" stop-color="#581dff"/><stop offset="0.184" stop-color="#4426ff"/><stop offset="0.251" stop-color="#0a45ff"/><stop offset="0.263" stop-color="#0057ff"/><stop offset="0.274" stop-color="#0085ff"/><stop offset="0.285" stop-color="#00e2fa"/><stop offset="0.291" stop-color="#00f39f"/><stop offset="0.296" stop-color="#0ef13a"/><stop offset="0.302" stop-color="#5df30a"/><stop offset="0.307" stop-color="#adf600"/><stop offset="0.318" stop-color="#fbfa00"/><stop offset="0.335" stop-color="#ffe500"/><stop offset="0.363" stop-color="#fefa00"/><stop offset="0.402" stop-color="#fafa00"/><stop offset="0.458" stop-color="#93f502"/><stop offset="0.508" stop-color="#14f017"/><stop offset="0.525" stop-color="#09f359"/><stop offset="0.542" stop-color="#00eeb9"/><stop offset="0.547" stop-color="#00e5eb"/><stop offset="0.553" stop-color="#00c5ff"/><stop offset="0.564" stop-color="#0080ff"/><stop offset="0.581" stop-color="#044bff"/><stop offset="0.642" stop-color="#4e21ff"/><stop offset="0.732" stop-color="#7f0dff"/><stop offset="0.883" stop-color="#9614ff"/><stop offset="0.978" stop-color="#790dff"/><stop offset="1.000" stop-color="#6f12ff"/></linearGradient><linearGradient id="e8"><stop offset="0.000" stop-color="#1539ff"/><stop offset="0.050" stop-color="#392aff"/><stop offset="0.106" stop-color="#591cff"/><stop offset="0.196" stop-color="#4027ff"/><stop offset="0.257" stop-color="#0847ff"/><stop offset="0.268" stop-color="#005eff"/><stop offset="0.279" stop-color="#0094ff"/><stop offset="0.285" stop-color="#00c4ff"/><stop offset="0.291" stop-color="#00e9d6"/><stop offset="0.296" stop-color="#05f476"/><stop offset="0.302" stop-color="#1cf013"/><stop offset="0.307" stop-color="#8bf403"/><stop offset="0.313" stop-color="#c4f700"/><stop offset="0.318" stop-color="#eef900"/><stop offset="0.324" stop-color="#fff000"/><stop offset="0.335" stop-color="#ffdb00"/><stop offset="0.374" stop-color="#ffea00"/><stop offset="0.402" stop-color="#fff200"/><stop offset="0.413" stop-color="#f5f900"/><stop offset="0.464" stop-color="#84f404"/><stop offset="0.503" stop-color="#1bf013"/><stop offset="0.520" stop-color="#0bf24c"/><stop offset="0.542" stop-color="#00ebcc"/><stop offset="0.547" stop-color="#00d8ff"/><stop offset="0.559" stop-color="#008bff"/><stop offset="0.575" stop-color="#014fff"/><stop offset="0.626" stop-color="#4027ff"/><stop offset="0.698" stop-color="#7310ff"/><stop offset="0.866" stop-color="#9714ff"/><stop offset="0.961" stop-color="#810eff"/><stop offset="1.000" stop-color="#6f12ff"/></linearGradient><linearGradient id="e9"><stop offset="0.000" stop-color="#1639ff"/><stop offset="0.039" stop-color="#2e2eff"/><stop offset="0.095" stop-color="#581dff"/><stop offset="0.179" stop-color="#4a23ff"/><stop offset="0.235" stop-color="#2134ff"/><stop offset="0.268" stop-color="#0053ff"/><stop offset="0.279" stop-color="#0080ff"/><stop offset="0.291" stop-color="#00dbff"/><stop offset="0.296" stop-color="#00f0af"/><stop offset="0.302" stop-color="#0cf24a"/><stop offset="0.307" stop-color="#4ef20c"/><stop offset="0.313" stop-color="#abf600"/><stop offset="0.324" stop-color="#fff700"/><stop offset="0.335" stop-color="#ffd400"/><stop offset="0.397" stop-color="#ffdf00"/><stop offset="0.419" stop-color="#f7fa00"/><stop offset="0.469" stop-color="#72f307"/><stop offset="0.503" stop-color="#14f016"/><stop offset="0.520" stop-color="#09f35a"/><stop offset="0.536" stop-color="#00eeba"/><stop offset="0.542" stop-color="#00e4ef"/><stop offset="0.547" stop-color="#00c2ff"/><stop offset="0.559" stop-color="#007eff"/><stop offset="0.575" stop-color="#054bff"/><stop offset="0.637" stop-color="#4e21ff"/><stop offset="0.726" stop-color="#7e0dff"/><stop offset="0.883" stop-color="#9614ff"/><stop offset="0.978" stop-color="#790dff"/><stop offset="1.000" stop-color="#6f12ff"/></linearGradient><linearGradient id="e10"><stop offset="0.000" stop-color="#1638ff"/><stop offset="0.039" stop-color="#2e2eff"/><stop offset="0.095" stop-color="#581dff"/><stop offset="0.179" stop-color="#4c22ff"/><stop offset="0.235" stop-color="#2532ff"/><stop offset="0.268" stop-color="#034dff"/><stop offset="0.285" stop-color="#008cff"/><stop offset="0.291" stop-color="#00bbff"/><stop offset="0.296" stop-color="#00e6e4"/><stop offset="0.302" stop-color="#03f485"/><stop offset="0.307" stop-color="#13f01b"/><stop offset="0.313" stop-color="#84f404"/><stop offset="0.318" stop-color="#c5f700"/><stop offset="0.324" stop-color="#f4f900"/><stop offset="0.335" stop-color="#ffd100"/><stop offset="0.352" stop-color="#ffc300"/><stop offset="0.402" stop-color="#ffd700"/><stop offset="0.419" stop-color="#fff700"/><stop offset="0.464" stop-color="#82f404"/><stop offset="0.497" stop-color="#1df013"/><stop offset="0.508" stop-color="#0ff134"/><stop offset="0.531" stop-color="#00f1aa"/><stop offset="0.536" stop-color="#00ead0"/><stop offset="0.542" stop-color="#00d5ff"/><stop offset="0.553" stop-color="#0089ff"/><stop offset="0.570" stop-color="#014eff"/><stop offset="0.626" stop-color="#4625ff"/><stop offset="0.704" stop-color="#770eff"/><stop offset="0.883" stop-color="#9714ff"/><stop offset="0.983" stop-color="#760fff"/><stop offset="1.000" stop-color="#6f12ff"/></linearGradient><linearGradient id="e11"><stop offset="0.000" stop-color="#1638ff"/><stop offset="0.039" stop-color="#2e2eff"/><stop offset="0.101" stop-color="#5a1cff"/><stop offset="0.196" stop-color="#4625ff"/><stop offset="0.263" stop-color="#0c43ff"/><stop offset="0.274" stop-color="#0050ff"/><stop offset="0.285" stop-color="#007cff"/><stop offset="0.291" stop-color="#009fff"/><stop offset="0.296" stop-color="#00d3ff"/><stop offset="0.302" stop-color="#00eebc"/><stop offset="0.307" stop-color="#0af356"/><stop offset="0.313" stop-color="#43f20d"/><stop offset="0.318" stop-color="#abf600"/><stop offset="0.324" stop-color="#e0f800"/><stop offset="0.330" stop-color="#ffee00"/><stop offset="0.341" stop-color="#ffbf00"/><stop offset="0.358" stop-color="#ffb200"/><stop offset="0.402" stop-color="#ffc900"/><stop offset="0.425" stop-color="#fffa00"/><stop offset="0.486" stop-color="#3af10f"/><stop offset="0.497" stop-color="#15f014"/><stop offset="0.514" stop-color="#09f35a"/><stop offset="0.531" stop-color="#00eebc"/><stop offset="0.536" stop-color="#00e3f3"/><stop offset="0.547" stop-color="#0099ff"/><stop offset="0.564" stop-color="#0055ff"/><stop offset="0.603" stop-color="#302eff"/><stop offset="0.670" stop-color="#6915ff"/><stop offset="0.777" stop-color="#8b10ff"/><stop offset="0.905" stop-color="#9413ff"/><stop offset="1.000" stop-color="#6f12ff"/></linearGradient><linearGradient id="e12"><stop offset="0.000" stop-color="#1638ff"/><stop offset="0.039" stop-color="#2e2eff"/><stop offset="0.095" stop-color="#591cff"/><stop offset="0.184" stop-color="#4c22ff"/><stop offset="0.246" stop-color="#2034ff"/><stop offset="0.274" stop-color="#044cff"/><stop offset="0.285" stop-color="#006dff"/><stop offset="0.291" stop-color="#0088ff"/><stop offset="0.296" stop-color="#00b5ff"/><stop offset="0.302" stop-color="#00e4ef"/><stop offset="0.307" stop-color="#01f590"/><stop offset="0.313" stop-color="#12f124"/><stop offset="0.318" stop-color="#7df405"/><stop offset="0.324" stop-color="#c9f700"/><stop offset="0.330" stop-color="#fefa00"/><stop offset="0.341" stop-color="#ffbc00"/><stop offset="0.352" stop-color="#ffa200"/><stop offset="0.397" stop-color="#ffb100"/><stop offset="0.425" stop-color="#fff100"/><stop offset="0.441" stop-color="#cdf700"/><stop offset="0.492" stop-color="#20f012"/><stop offset="0.503" stop-color="#0ff133"/><stop offset="0.525" stop-color="#00f1ab"/><stop offset="0.536" stop-color="#00d3ff"/><stop offset="0.547" stop-color="#0088ff"/><stop offset="0.564" stop-color="#024eff"/><stop offset="0.620" stop-color="#4625ff"/><stop offset="0.698" stop-color="#770fff"/><stop offset="0.883" stop-color="#9714ff"/><stop offset="0.983" stop-color="#760fff"/><stop offset="1.000" stop-color="#6f12ff"/></linearGradient><linearGradient id="e13"><stop offset="0.000" stop-color="#1638ff"/><stop offset="0.039" stop-color="#2e2eff"/><stop offset="0.095" stop-color="#591cff"/><stop offset="0.184" stop-color="#4e21ff"/><stop offset="0.246" stop-color="#2432ff"/><stop offset="0.279" stop-color="#014fff"/><stop offset="0.291" stop-color="#0078ff"/><stop offset="0.296" stop-color="#009aff"/><stop offset="0.302" stop-color="#00ccff"/><stop offset="0.307" stop-color="#00ecc5"/><stop offset="0.313" stop-color="#09f35f"/><stop offset="0.318" stop-color="#3df10e"/><stop offset="0.324" stop-color="#aef600"/><stop offset="0.330" stop-color="#e9f900"/><stop offset="0.335" stop-color="#ffe100"/><stop offset="0.346" stop-color="#ffa500"/><stop offset="0.358" stop-color="#ff8a00"/><stop offset="0.391" stop-color="#ff9700"/><stop offset="0.419" stop-color="#ffd600"/><stop offset="0.430" stop-color="#fefa00"/><stop offset="0.492" stop-color="#18f013"/><stop offset="0.508" stop-color="#09f35a"/><stop offset="0.525" stop-color="#00eebd"/><stop offset="0.531" stop-color="#00e3f6"/><stop offset="0.547" stop-color="#007bff"/><stop offset="0.559" stop-color="#0053ff"/><stop offset="0.609" stop-color="#3e28ff"/><stop offset="0.682" stop-color="#7111ff"/><stop offset="0.866" stop-color="#9714ff"/><stop offset="0.961" stop-color="#810eff"/><stop offset="1.000" stop-color="#6f12ff"/></linearGradient><linearGradient id="e14"><stop offset="0.000" stop-color="#1638ff"/><stop offset="0.039" stop-color="#2f2eff"/><stop offset="0.101" stop-color="#5b1bff"/><stop offset="0.196" stop-color="#4b23ff"/><stop offset="0.251" stop-color="#2134ff"/><stop offset="0.285" stop-color="#0056ff"/><stop offset="0.296" stop-color="#0085ff"/><stop offset="0.307" stop-color="#00e3f6"/><stop offset="0.313" stop-color="#00f597"/><stop offset="0.318" stop-color="#11f129"/><stop offset="0.324" stop-color="#7df405"/><stop offset="0.330" stop-color="#d1f800"/><stop offset="0.335" stop-color="#ffef00"/><stop offset="0.346" stop-color="#ffa200"/><stop offset="0.358" stop-color="#ff7900"/><stop offset="0.374" stop-color="#ff7100"/><stop offset="0.402" stop-color="#ff9700"/><stop offset="0.430" stop-color="#fff400"/><stop offset="0.480" stop-color="#3af10f"/><stop offset="0.492" stop-color="#13f019"/><stop offset="0.514" stop-color="#02f58a"/><stop offset="0.525" stop-color="#00e9d7"/><stop offset="0.531" stop-color="#00d1ff"/><stop offset="0.542" stop-color="#0087ff"/><stop offset="0.559" stop-color="#024dff"/><stop offset="0.615" stop-color="#4625ff"/><stop offset="0.693" stop-color="#760fff"/><stop offset="0.877" stop-color="#9714ff"/><stop offset="0.978" stop-color="#790dff"/><stop offset="1.000" stop-color="#6f12ff"/></linearGradient><linearGradient id="e15"><stop offset="0.000" stop-color="#1638ff"/><stop offset="0.050" stop-color="#3a29ff"/><stop offset="0.106" stop-color="#5c1bff"/><stop offset="0.207" stop-color="#4724ff"/><stop offset="0.257" stop-color="#1d35ff"/><stop offset="0.285" stop-color="#024eff"/><stop offset="0.296" stop-color="#0077ff"/><stop offset="0.302" stop-color="#0097ff"/><stop offset="0.307" stop-color="#00c9ff"/><stop offset="0.313" stop-color="#00ebc9"/><stop offset="0.318" stop-color="#08f361"/><stop offset="0.324" stop-color="#3ef20e"/><stop offset="0.330" stop-color="#b6f600"/><stop offset="0.335" stop-color="#f7fa00"/><stop offset="0.352" stop-color="#ff8200"/><stop offset="0.363" stop-color="#ff5c00"/><stop offset="0.380" stop-color="#ff5a00"/><stop offset="0.402" stop-color="#ff8400"/><stop offset="0.430" stop-color="#ffee00"/><stop offset="0.441" stop-color="#d8f800"/><stop offset="0.486" stop-color="#1cf013"/><stop offset="0.497" stop-color="#0ef23d"/><stop offset="0.520" stop-color="#00edbe"/><stop offset="0.525" stop-color="#00e2fa"/><stop offset="0.536" stop-color="#0095ff"/><stop offset="0.553" stop-color="#0052ff"/><stop offset="0.603" stop-color="#3e28ff"/><stop offset="0.670" stop-color="#6e12ff"/><stop offset="0.860" stop-color="#9714ff"/><stop offset="0.955" stop-color="#840eff"/><stop offset="1.000" stop-color="#6f12ff"/></linearGradient><linearGradient id="e16"><stop offset="0.000" stop-color="#1638ff"/><stop offset="0.045" stop-color="#352cff"/><stop offset="0.101" stop-color="#5c1bff"/><stop offset="0.207" stop-color="#4924ff"/><stop offset="0.257" stop-color="#2233ff"/><stop offset="0.291" stop-color="#0055ff"/><stop offset="0.302" stop-color="#0084ff"/><stop offset="0.313" stop-color="#00e2f8"/><stop offset="0.318" stop-color="#00f597"/><stop offset="0.324" stop-color="#11f126"/><stop offset="0.330" stop-color="#85f404"/><stop offset="0.335" stop-color="#def800"/><stop offset="0.341" stop-color="#ffde00"/><stop offset="0.352" stop-color="#ff8000"/><stop offset="0.363" stop-color="#ff4b00"/><stop offset="0.380" stop-color="#fe4300"/><stop offset="0.397" stop-color="#ff5e00"/><stop offset="0.425" stop-color="#ffce00"/><stop offset="0.436" stop-color="#f7fa00"/><stop offset="0.480" stop-color="#2bf111"/><stop offset="0.486" stop-color="#14f015"/><stop offset="0.508" stop-color="#02f58a"/><stop offset="0.520" stop-color="#00e8db"/><stop offset="0.525" stop-color="#00ceff"/><stop offset="0.536" stop-color="#0085ff"/><stop offset="0.553" stop-color="#034dff"/><stop offset="0.609" stop-color="#4725ff"/><stop offset="0.687" stop-color="#760fff"/><stop offset="0.877" stop-color="#9714ff"/><stop offset="0.978" stop-color="#790dff"/><stop offset="1.000" stop-color="#6f12ff"/></linearGradient><linearGradient id="e17"><stop offset="0.000" stop-color="#1638ff"/><stop offset="0.045" stop-color="#352cff"/><stop offset="0.101" stop-color="#5c1bff"/><stop offset="0.201" stop-color="#4d22ff"/><stop offset="0.257" stop-color="#2532ff"/><stop offset="0.291" stop-color="#024eff"/><stop offset="0.302" stop-color="#0076ff"/><stop offset="0.307" stop-color="#0097ff"/><stop offset="0.313" stop-color="#00c9ff"/><stop offset="0.318" stop-color="#00ecc8"/><stop offset="0.324" stop-color="#09f35d"/><stop offset="0.330" stop-color="#48f20d"/><stop offset="0.335" stop-color="#c3f700"/><stop offset="0.341" stop-color="#fff000"/><stop offset="0.352" stop-color="#ff8400"/><stop offset="0.358" stop-color="#ff5900"/><stop offset="0.369" stop-color="#fd3200"/><stop offset="0.385" stop-color="#fd3200"/><stop offset="0.402" stop-color="#ff5a00"/><stop offset="0.436" stop-color="#fcfa00"/><stop offset="0.480" stop-color="#23f112"/><stop offset="0.486" stop-color="#12f01f"/><stop offset="0.514" stop-color="#00edbf"/><stop offset="0.520" stop-color="#00e1fd"/><stop offset="0.531" stop-color="#0093ff"/><stop offset="0.547" stop-color="#0051ff"/><stop offset="0.598" stop-color="#3f28ff"/><stop offset="0.670" stop-color="#7011ff"/><stop offset="0.866" stop-color="#9714ff"/><stop offset="0.961" stop-color="#810eff"/><stop offset="1.000" stop-color="#6f12ff"/></linearGradient><linearGradient id="e18"><stop offset="0.000" stop-color="#1638ff"/><stop offset="0.045" stop-color="#352cff"/><stop offset="0.101" stop-color="#5c1bff"/><stop offset="0.207" stop-color="#4c22ff"/><stop offset="0.263" stop-color="#2233ff"/><stop offset="0.296" stop-color="#0056ff"/><stop offset="0.307" stop-color="#0085ff"/><stop offset="0.318" stop-color="#00e3f4"/><stop offset="0.324" stop-color="#01f590"/><stop offset="0.330" stop-color="#13f01b"/><stop offset="0.335" stop-color="#98f501"/><stop offset="0.341" stop-color="#f2f900"/><stop offset="0.352" stop-color="#ff8c00"/><stop offset="0.358" stop-color="#ff5800"/><stop offset="0.369" stop-color="#fc2300"/><stop offset="0.380" stop-color="#fb1700"/><stop offset="0.397" stop-color="#fd3400"/><stop offset="0.413" stop-color="#ff7d00"/><stop offset="0.436" stop-color="#fff900"/><stop offset="0.475" stop-color="#35f10f"/><stop offset="0.480" stop-color="#19f013"/><stop offset="0.497" stop-color="#07f367"/><stop offset="0.508" stop-color="#00f1ad"/><stop offset="0.514" stop-color="#00e7dd"/><stop offset="0.520" stop-color="#00cdff"/><stop offset="0.531" stop-color="#0084ff"/><stop offset="0.547" stop-color="#034dff"/><stop offset="0.603" stop-color="#4724ff"/><stop offset="0.676" stop-color="#7310ff"/><stop offset="0.877" stop-color="#9714ff"/><stop offset="0.978" stop-color="#790dff"/><stop offset="1.000" stop-color="#6f12ff"/></linearGradient><linearGradient id="e19"><stop offset="0.000" stop-color="#1638ff"/><stop offset="0.045" stop-color="#352cff"/><stop offset="0.101" stop-color="#5c1bff"/><stop offset="0.201" stop-color="#5020ff"/><stop offset="0.263" stop-color="#2532ff"/><stop offset="0.296" stop-color="#014fff"/><stop offset="0.307" stop-color="#0079ff"/><stop offset="0.313" stop-color="#009aff"/><stop offset="0.318" stop-color="#00ceff"/><stop offset="0.324" stop-color="#00edbe"/><stop offset="0.330" stop-color="#0bf24f"/><stop offset="0.335" stop-color="#5df30a"/><stop offset="0.341" stop-color="#d7f800"/><stop offset="0.346" stop-color="#ffda00"/><stop offset="0.358" stop-color="#ff5c00"/><stop offset="0.369" stop-color="#fb1700"/><stop offset="0.380" stop-color="#f60900"/><stop offset="0.391" stop-color="#fa0f00"/><stop offset="0.408" stop-color="#ff4c00"/><stop offset="0.436" stop-color="#fff500"/><stop offset="0.469" stop-color="#49f20c"/><stop offset="0.480" stop-color="#13f019"/><stop offset="0.508" stop-color="#00edbf"/><stop offset="0.514" stop-color="#00e1ff"/><stop offset="0.525" stop-color="#0091ff"/><stop offset="0.542" stop-color="#0051ff"/><stop offset="0.592" stop-color="#3f28ff"/><stop offset="0.665" stop-color="#7011ff"/><stop offset="0.872" stop-color="#9714ff"/><stop offset="0.972" stop-color="#7c0cff"/><stop offset="1.000" stop-color="#6f12ff"/></linearGradient><linearGradient id="e20"><stop offset="0.000" stop-color="#1638ff"/><stop offset="0.045" stop-color="#352cff"/><stop offset="0.101" stop-color="#5d1bff"/><stop offset="0.207" stop-color="#4f21ff"/><stop offset="0.263" stop-color="#2831ff"/><stop offset="0.296" stop-color="#044cff"/><stop offset="0.307" stop-color="#006eff"/><stop offset="0.313" stop-color="#0089ff"/><stop offset="0.318" stop-color="#00b7ff"/><stop offset="0.324" stop-color="#00e6e7"/><stop offset="0.330" stop-color="#03f47f"/><stop offset="0.335" stop-color="#25f112"/><stop offset="0.341" stop-color="#b0f600"/><stop offset="0.346" stop-color="#ffee00"/><stop offset="0.358" stop-color="#ff6400"/><stop offset="0.363" stop-color="#fd3200"/><stop offset="0.369" stop-color="#fa0f00"/><stop offset="0.385" stop-color="#ee0700"/><stop offset="0.397" stop-color="#fa0a00"/><stop offset="0.413" stop-color="#ff5d00"/><stop offset="0.436" stop-color="#fff200"/><stop offset="0.469" stop-color="#41f20e"/><stop offset="0.475" stop-color="#22f112"/><stop offset="0.486" stop-color="#0df243"/><stop offset="0.503" stop-color="#00f1ad"/><stop offset="0.508" stop-color="#00e7e0"/><stop offset="0.514" stop-color="#00cbff"/><stop offset="0.525" stop-color="#0083ff"/><stop offset="0.542" stop-color="#044cff"/><stop offset="0.598" stop-color="#4724ff"/><stop offset="0.670" stop-color="#7310ff"/><stop offset="0.877" stop-color="#9714ff"/><stop offset="0.978" stop-color="#790dff"/><stop offset="1.000" stop-color="#6f12ff"/></linearGradient><linearGradient id="e21"><stop offset="0.000" stop-color="#1638ff"/><stop offset="0.045" stop-color="#352cff"/><stop offset="0.101" stop-color="#5d1aff"/><stop offset="0.212" stop-color="#4e21ff"/><stop offset="0.268" stop-color="#2432ff"/><stop offset="0.302" stop-color="#0051ff"/><stop offset="0.313" stop-color="#007dff"/><stop offset="0.318" stop-color="#00a3ff"/><stop offset="0.324" stop-color="#00d9ff"/><stop offset="0.330" stop-color="#00f1aa"/><stop offset="0.335" stop-color="#0ff135"/><stop offset="0.341" stop-color="#80f405"/><stop offset="0.346" stop-color="#f2f900"/><stop offset="0.352" stop-color="#ffbd00"/><stop offset="0.358" stop-color="#ff7100"/><stop offset="0.363" stop-color="#fd3500"/><stop offset="0.369" stop-color="#fa0a00"/><stop offset="0.385" stop-color="#e50400"/><stop offset="0.402" stop-color="#fa0d00"/><stop offset="0.413" stop-color="#ff4d00"/><stop offset="0.436" stop-color="#ffef00"/><stop offset="0.447" stop-color="#c3f700"/><stop offset="0.475" stop-color="#18f013"/><stop offset="0.503" stop-color="#00edbf"/><stop offset="0.508" stop-color="#00dfff"/><stop offset="0.520" stop-color="#0090ff"/><stop offset="0.536" stop-color="#0050ff"/><stop offset="0.592" stop-color="#4525ff"/><stop offset="0.670" stop-color="#7410ff"/><stop offset="0.877" stop-color="#9714ff"/><stop offset="0.978" stop-color="#790dff"/><stop offset="1.000" stop-color="#6f12ff"/></linearGradient><linearGradient id="e22"><stop offset="0.000" stop-color="#1638ff"/><stop offset="0.045" stop-color="#352cff"/><stop offset="0.101" stop-color="#5d1aff"/><stop offset="0.212" stop-color="#4f21ff"/><stop offset="0.268" stop-color="#2731ff"/><stop offset="0.302" stop-color="#024eff"/><stop offset="0.313" stop-color="#0074ff"/><stop offset="0.318" stop-color="#0092ff"/><stop offset="0.324" stop-color="#00c4ff"/><stop offset="0.330" stop-color="#00ead0"/><stop offset="0.335" stop-color="#08f362"/><stop offset="0.341" stop-color="#4cf20c"/><stop offset="0.346" stop-color="#d1f800"/><stop offset="0.352" stop-color="#ffd000"/><stop offset="0.363" stop-color="#fe3b00"/><stop offset="0.369" stop-color="#fa0a00"/><stop offset="0.385" stop-color="#dd0200"/><stop offset="0.402" stop-color="#f30800"/><stop offset="0.408" stop-color="#fb1a00"/><stop offset="0.436" stop-color="#ffec00"/><stop offset="0.441" stop-color="#e7f900"/><stop offset="0.469" stop-color="#2ff110"/><stop offset="0.475" stop-color="#13f01c"/><stop offset="0.497" stop-color="#00f1ac"/><stop offset="0.503" stop-color="#00e7e1"/><stop offset="0.508" stop-color="#00caff"/><stop offset="0.520" stop-color="#0082ff"/><stop offset="0.536" stop-color="#044cff"/><stop offset="0.592" stop-color="#4824ff"/><stop offset="0.670" stop-color="#750fff"/><stop offset="0.883" stop-color="#9714ff"/><stop offset="0.983" stop-color="#760fff"/><stop offset="1.000" stop-color="#6f12ff"/></linearGradient><linearGradient id="e23"><stop offset="0.000" stop-color="#1638ff"/><stop offset="0.045" stop-color="#352bff"/><stop offset="0.101" stop-color="#5d1aff"/><stop offset="0.212" stop-color="#5021ff"/><stop offset="0.268" stop-color="#2930ff"/><stop offset="0.302" stop-color="#044bff"/><stop offset="0.313" stop-color="#006cff"/><stop offset="0.318" stop-color="#0086ff"/><stop offset="0.324" stop-color="#00b2ff"/><stop offset="0.330" stop-color="#00e4f0"/><stop offset="0.335" stop-color="#02f589"/><stop offset="0.341" stop-color="#1cf013"/><stop offset="0.346" stop-color="#aff600"/><stop offset="0.352" stop-color="#ffe500"/><stop offset="0.363" stop-color="#fe4500"/><stop offset="0.369" stop-color="#fa0c00"/><stop offset="0.380" stop-color="#db0100"/><stop offset="0.397" stop-color="#de0200"/><stop offset="0.408" stop-color="#f90a00"/><stop offset="0.425" stop-color="#ff9100"/><stop offset="0.436" stop-color="#ffe900"/><stop offset="0.441" stop-color="#e8f900"/><stop offset="0.464" stop-color="#4bf20c"/><stop offset="0.469" stop-color="#25f112"/><stop offset="0.480" stop-color="#0bf24c"/><stop offset="0.497" stop-color="#00edc0"/><stop offset="0.503" stop-color="#00deff"/><stop offset="0.514" stop-color="#008fff"/><stop offset="0.531" stop-color="#0050ff"/><stop offset="0.581" stop-color="#4027ff"/><stop offset="0.654" stop-color="#7012ff"/><stop offset="0.877" stop-color="#9714ff"/><stop offset="0.972" stop-color="#7c0cff"/><stop offset="1.000" stop-color="#6f12ff"/></linearGradient><linearGradient id="e24"><stop offset="0.000" stop-color="#1638ff"/><stop offset="0.045" stop-color="#352bff"/><stop offset="0.101" stop-color="#5d1aff"/><stop offset="0.207" stop-color="#521fff"/><stop offset="0.268" stop-color="#2b30ff"/><stop offset="0.307" stop-color="#0052ff"/><stop offset="0.318" stop-color="#007eff"/><stop offset="0.324" stop-color="#00a3ff"/><stop offset="0.330" stop-color="#00d9ff"/><stop offset="0.335" stop-color="#00f1ab"/><stop offset="0.341" stop-color="#0ff134"/><stop offset="0.346" stop-color="#87f404"/><stop offset="0.352" stop-color="#fffa00"/><stop offset="0.363" stop-color="#ff5200"/><stop offset="0.369" stop-color="#fb1300"/><stop offset="0.380" stop-color="#d80000"/><stop offset="0.397" stop-color="#d70000"/><stop offset="0.408" stop-color="#f10800"/><stop offset="0.413" stop-color="#fc2100"/><stop offset="0.436" stop-color="#ffe600"/><stop offset="0.441" stop-color="#e9f900"/><stop offset="0.469" stop-color="#19f013"/><stop offset="0.492" stop-color="#00f1aa"/><stop offset="0.497" stop-color="#00e6e2"/><stop offset="0.503" stop-color="#00c9ff"/><stop offset="0.514" stop-color="#0081ff"/><stop offset="0.531" stop-color="#044cff"/><stop offset="0.587" stop-color="#4824ff"/><stop offset="0.665" stop-color="#750fff"/><stop offset="0.883" stop-color="#9714ff"/><stop offset="0.983" stop-color="#760fff"/><stop offset="1.000" stop-color="#6f12ff"/></linearGradient><linearGradient id="e25"><stop offset="0.000" stop-color="#1638ff"/><stop offset="0.045" stop-color="#352bff"/><stop offset="0.101" stop-color="#5d1aff"/><stop offset="0.212" stop-color="#5120ff"/><stop offset="0.274" stop-color="#2632ff"/><stop offset="0.307" stop-color="#014fff"/><stop offset="0.318" stop-color="#0077ff"/><stop offset="0.324" stop-color="#0097ff"/><stop offset="0.330" stop-color="#00c9ff"/><stop offset="0.335" stop-color="#00ecc7"/><stop offset="0.341" stop-color="#0af356"/><stop offset="0.346" stop-color="#5cf30a"/><stop offset="0.352" stop-color="#e1f800"/><stop offset="0.358" stop-color="#ffbe00"/><stop offset="0.363" stop-color="#ff6500"/><stop offset="0.369" stop-color="#fb1d00"/><stop offset="0.374" stop-color="#e90500"/><stop offset="0.380" stop-color="#d70000"/><stop offset="0.402" stop-color="#d90100"/><stop offset="0.413" stop-color="#fb1100"/><stop offset="0.436" stop-color="#ffe200"/><stop offset="0.441" stop-color="#eaf900"/><stop offset="0.464" stop-color="#38f10f"/><stop offset="0.469" stop-color="#13f01b"/><stop offset="0.486" stop-color="#00f595"/><stop offset="0.492" stop-color="#00edc0"/><stop offset="0.497" stop-color="#00deff"/><stop offset="0.508" stop-color="#008eff"/><stop offset="0.525" stop-color="#014fff"/><stop offset="0.575" stop-color="#4027ff"/><stop offset="0.648" stop-color="#7012ff"/><stop offset="0.877" stop-color="#9714ff"/><stop offset="0.972" stop-color="#7c0cff"/><stop offset="1.000" stop-color="#6f12ff"/></linearGradient><linearGradient id="e26"><stop offset="0.000" stop-color="#1638ff"/><stop offset="0.045" stop-color="#352bff"/><stop offset="0.101" stop-color="#5d1aff"/><stop offset="0.212" stop-color="#5220ff"/><stop offset="0.274" stop-color="#2731ff"/><stop offset="0.307" stop-color="#024eff"/><stop offset="0.324" stop-color="#008eff"/><stop offset="0.330" stop-color="#00bdff"/><stop offset="0.335" stop-color="#00e7dd"/><stop offset="0.341" stop-color="#05f473"/><stop offset="0.346" stop-color="#38f10f"/><stop offset="0.352" stop-color="#c5f700"/><stop offset="0.358" stop-color="#ffd100"/><stop offset="0.369" stop-color="#fc2900"/><stop offset="0.374" stop-color="#ec0600"/><stop offset="0.380" stop-color="#d70000"/><stop offset="0.402" stop-color="#d60000"/><stop offset="0.413" stop-color="#f60900"/><stop offset="0.425" stop-color="#ff6e00"/><stop offset="0.436" stop-color="#ffde00"/><stop offset="0.441" stop-color="#ecf900"/><stop offset="0.464" stop-color="#2cf111"/><stop offset="0.469" stop-color="#11f129"/><stop offset="0.486" stop-color="#00f2a6"/><stop offset="0.492" stop-color="#00e6e2"/><stop offset="0.497" stop-color="#00c8ff"/><stop offset="0.508" stop-color="#0081ff"/><stop offset="0.525" stop-color="#044bff"/><stop offset="0.587" stop-color="#4d21ff"/><stop offset="0.670" stop-color="#780eff"/><stop offset="0.883" stop-color="#9714ff"/><stop offset="0.983" stop-color="#760fff"/><stop offset="1.000" stop-color="#6f12ff"/></linearGradient><linearGradient id="e27"><stop offset="0.000" stop-color="#1638ff"/><stop offset="0.045" stop-color="#352bff"/><stop offset="0.101" stop-color="#5e1aff"/><stop offset="0.218" stop-color="#5020ff"/><stop offset="0.274" stop-color="#2831ff"/><stop offset="0.307" stop-color="#034cff"/><stop offset="0.324" stop-color="#0088ff"/><stop offset="0.330" stop-color="#00b4ff"/><stop offset="0.335" stop-color="#00e4ef"/><stop offset="0.341" stop-color="#02f58a"/><stop offset="0.346" stop-color="#1af013"/><stop offset="0.352" stop-color="#adf600"/><stop offset="0.358" stop-color="#ffe400"/><stop offset="0.369" stop-color="#fd3700"/><stop offset="0.374" stop-color="#f10700"/><stop offset="0.380" stop-color="#d90100"/><stop offset="0.408" stop-color="#db0100"/><stop offset="0.413" stop-color="#f00700"/><stop offset="0.419" stop-color="#fc2700"/><stop offset="0.436" stop-color="#ffd800"/><stop offset="0.441" stop-color="#eff900"/><stop offset="0.464" stop-color="#23f112"/><stop offset="0.475" stop-color="#08f360"/><stop offset="0.486" stop-color="#00eeb8"/><stop offset="0.492" stop-color="#00e1fd"/><stop offset="0.503" stop-color="#0091ff"/><stop offset="0.520" stop-color="#0050ff"/><stop offset="0.570" stop-color="#4027ff"/><stop offset="0.642" stop-color="#7012ff"/><stop offset="0.872" stop-color="#9714ff"/><stop offset="0.966" stop-color="#7f0dff"/><stop offset="1.000" stop-color="#6f12ff"/></linearGradient><linearGradient id="e28"><stop offset="0.000" stop-color="#1638ff"/><stop offset="0.045" stop-color="#352bff"/><stop offset="0.101" stop-color="#5e1aff"/><stop offset="0.218" stop-color="#5020ff"/><stop offset="0.274" stop-color="#2930ff"/><stop offset="0.307" stop-color="#044cff"/><stop offset="0.318" stop-color="#006cff"/><stop offset="0.324" stop-color="#0085ff"/><stop offset="0.335" stop-color="#00e2fc"/><stop offset="0.341" stop-color="#00f49b"/><stop offset="0.346" stop-color="#11f125"/><stop offset="0.352" stop-color="#97f501"/><stop offset="0.358" stop-color="#fff400"/><stop offset="0.369" stop-color="#fe4600"/><stop offset="0.374" stop-color="#f60900"/><stop offset="0.380" stop-color="#dd0200"/><stop offset="0.408" stop-color="#d70000"/><stop offset="0.419" stop-color="#fb1700"/><stop offset="0.436" stop-color="#ffcc00"/><stop offset="0.441" stop-color="#fbfa00"/><stop offset="0.458" stop-color="#66f308"/><stop offset="0.464" stop-color="#34f10f"/><stop offset="0.469" stop-color="#12f122"/><stop offset="0.486" stop-color="#00f3a0"/><stop offset="0.492" stop-color="#00e9d7"/><stop offset="0.497" stop-color="#00d0ff"/><stop offset="0.508" stop-color="#0085ff"/><stop offset="0.525" stop-color="#034dff"/><stop offset="0.581" stop-color="#4724ff"/><stop offset="0.659" stop-color="#7410ff"/><stop offset="0.877" stop-color="#9714ff"/><stop offset="0.972" stop-color="#7c0cff"/><stop offset="1.000" stop-color="#6f12ff"/></linearGradient><linearGradient id="e29"><stop offset="0.000" stop-color="#1638ff"/><stop offset="0.045" stop-color="#352bff"/><stop offset="0.101" stop-color="#5e1aff"/><stop offset="0.218" stop-color="#5120ff"/><stop offset="0.274" stop-color="#2a30ff"/><stop offset="0.313" stop-color="#0056ff"/><stop offset="0.324" stop-color="#0083ff"/><stop offset="0.335" stop-color="#00ddff"/><stop offset="0.341" stop-color="#00f2a7"/><stop offset="0.346" stop-color="#0ff135"/><stop offset="0.352" stop-color="#80f405"/><stop offset="0.358" stop-color="#f5f900"/><stop offset="0.363" stop-color="#ffb200"/><stop offset="0.369" stop-color="#ff5700"/><stop offset="0.374" stop-color="#fa0f00"/><stop offset="0.385" stop-color="#d60000"/><stop offset="0.408" stop-color="#d60000"/><stop offset="0.419" stop-color="#f90a00"/><stop offset="0.430" stop-color="#ff8100"/><stop offset="0.441" stop-color="#fff200"/><stop offset="0.464" stop-color="#45f20d"/><stop offset="0.469" stop-color="#17f014"/><stop offset="0.492" stop-color="#00f0b2"/><stop offset="0.497" stop-color="#00e3f3"/><stop offset="0.508" stop-color="#0097ff"/><stop offset="0.525" stop-color="#0053ff"/><stop offset="0.570" stop-color="#382aff"/><stop offset="0.637" stop-color="#6b14ff"/><stop offset="0.782" stop-color="#8d11ff"/><stop offset="0.911" stop-color="#9313ff"/><stop offset="1.000" stop-color="#6f12ff"/></linearGradient><linearGradient id="e30"><stop offset="0.000" stop-color="#1638ff"/><stop offset="0.045" stop-color="#352bff"/><stop offset="0.101" stop-color="#5e1aff"/><stop offset="0.218" stop-color="#5120ff"/><stop offset="0.274" stop-color="#2a30ff"/><stop offset="0.307" stop-color="#054bff"/><stop offset="0.318" stop-color="#006aff"/><stop offset="0.330" stop-color="#00a7ff"/><stop offset="0.335" stop-color="#00daff"/><stop offset="0.341" stop-color="#00f0af"/><stop offset="0.346" stop-color="#0df240"/><stop offset="0.352" stop-color="#6ff307"/><stop offset="0.358" stop-color="#e7f900"/><stop offset="0.363" stop-color="#ffc100"/><stop offset="0.374" stop-color="#fb1f00"/><stop offset="0.380" stop-color="#e80500"/><stop offset="0.385" stop-color="#d60000"/><stop offset="0.413" stop-color="#dc0200"/><stop offset="0.419" stop-color="#f20800"/><stop offset="0.425" stop-color="#fd3000"/><stop offset="0.436" stop-color="#ffb200"/><stop offset="0.441" stop-color="#ffe700"/><stop offset="0.447" stop-color="#e0f800"/><stop offset="0.469" stop-color="#28f111"/><stop offset="0.475" stop-color="#11f128"/><stop offset="0.492" stop-color="#00f49d"/><stop offset="0.503" stop-color="#00d7ff"/><stop offset="0.514" stop-color="#0089ff"/><stop offset="0.531" stop-color="#024eff"/><stop offset="0.587" stop-color="#4625ff"/><stop offset="0.659" stop-color="#7211ff"/><stop offset="0.877" stop-color="#9714ff"/><stop offset="0.972" stop-color="#7c0cff"/><stop offset="1.000" stop-color="#6f12ff"/></linearGradient><linearGradient id="e31"><stop offset="0.000" stop-color="#1638ff"/><stop offset="0.045" stop-color="#352bff"/><stop offset="0.101" stop-color="#5e1aff"/><stop offset="0.218" stop-color="#5120ff"/><stop offset="0.274" stop-color="#2a30ff"/><stop offset="0.313" stop-color="#0056ff"/><stop offset="0.324" stop-color="#0082ff"/><stop offset="0.335" stop-color="#00d9ff"/><stop offset="0.341" stop-color="#00f0b1"/><stop offset="0.346" stop-color="#0cf246"/><stop offset="0.352" stop-color="#64f309"/><stop offset="0.358" stop-color="#dbf800"/><stop offset="0.363" stop-color="#ffcf00"/><stop offset="0.374" stop-color="#fd2f00"/><stop offset="0.380" stop-color="#ef0700"/><stop offset="0.385" stop-color="#d80000"/><stop offset="0.413" stop-color="#d80000"/><stop offset="0.419" stop-color="#ed0600"/><stop offset="0.425" stop-color="#fc2100"/><stop offset="0.441" stop-color="#ffda00"/><stop offset="0.447" stop-color="#edf900"/><stop offset="0.469" stop-color="#38f10f"/><stop offset="0.475" stop-color="#13f018"/><stop offset="0.497" stop-color="#00f0af"/><stop offset="0.503" stop-color="#00e5e8"/><stop offset="0.508" stop-color="#00c5ff"/><stop offset="0.520" stop-color="#007fff"/><stop offset="0.536" stop-color="#054bff"/><stop offset="0.598" stop-color="#4e21ff"/><stop offset="0.687" stop-color="#7a0dff"/><stop offset="0.883" stop-color="#9714ff"/><stop offset="0.983" stop-color="#760fff"/><stop offset="1.000" stop-color="#6f12ff"/></linearGradient><linearGradient id="e32"><stop offset="0.000" stop-color="#1638ff"/><stop offset="0.045" stop-color="#352bff"/><stop offset="0.101" stop-color="#5e1aff"/><stop offset="0.218" stop-color="#5020ff"/><stop offset="0.274" stop-color="#2930ff"/><stop offset="0.307" stop-color="#044bff"/><stop offset="0.324" stop-color="#0083ff"/><stop offset="0.335" stop-color="#00dbff"/><stop offset="0.341" stop-color="#00f0b0"/><stop offset="0.346" stop-color="#0cf248"/><stop offset="0.352" stop-color="#5ff309"/><stop offset="0.358" stop-color="#d2f800"/><stop offset="0.363" stop-color="#ffda00"/><stop offset="0.374" stop-color="#fe3f00"/><stop offset="0.380" stop-color="#f60900"/><stop offset="0.391" stop-color="#d60000"/><stop offset="0.413" stop-color="#d70000"/><stop offset="0.425" stop-color="#fb1300"/><stop offset="0.441" stop-color="#ffcb00"/><stop offset="0.447" stop-color="#fcfa00"/><stop offset="0.469" stop-color="#47f20d"/><stop offset="0.475" stop-color="#20f012"/><stop offset="0.486" stop-color="#0bf250"/><stop offset="0.503" stop-color="#00edc1"/><stop offset="0.508" stop-color="#00deff"/><stop offset="0.520" stop-color="#008fff"/><stop offset="0.536" stop-color="#0050ff"/><stop offset="0.587" stop-color="#4027ff"/><stop offset="0.659" stop-color="#7012ff"/><stop offset="0.877" stop-color="#9714ff"/><stop offset="0.978" stop-color="#790dff"/><stop offset="1.000" stop-color="#6f12ff"/></linearGradient><linearGradient id="e33"><stop offset="0.000" stop-color="#1638ff"/><stop offset="0.045" stop-color="#352bff"/><stop offset="0.101" stop-color="#5e1aff"/><stop offset="0.218" stop-color="#5020ff"/><stop offset="0.274" stop-color="#2931ff"/><stop offset="0.307" stop-color="#044cff"/><stop offset="0.324" stop-color="#0086ff"/><stop offset="0.335" stop-color="#00dfff"/><stop offset="0.341" stop-color="#00f1ac"/><stop offset="0.346" stop-color="#0df244"/><stop offset="0.352" stop-color="#5ff309"/><stop offset="0.358" stop-color="#ccf700"/><stop offset="0.363" stop-color="#ffe300"/><stop offset="0.374" stop-color="#ff4e00"/><stop offset="0.380" stop-color="#fb1400"/><stop offset="0.391" stop-color="#d70000"/><stop offset="0.413" stop-color="#d60000"/><stop offset="0.425" stop-color="#f90a00"/><stop offset="0.430" stop-color="#fe3c00"/><stop offset="0.441" stop-color="#ffbc00"/><stop offset="0.447" stop-color="#ffef00"/><stop offset="0.458" stop-color="#aef600"/><stop offset="0.475" stop-color="#2ff110"/><stop offset="0.480" stop-color="#13f01d"/><stop offset="0.503" stop-color="#00f1ab"/><stop offset="0.508" stop-color="#00e8dc"/><stop offset="0.514" stop-color="#00cdff"/><stop offset="0.525" stop-color="#0084ff"/><stop offset="0.542" stop-color="#034cff"/><stop offset="0.603" stop-color="#4c22ff"/><stop offset="0.687" stop-color="#790eff"/><stop offset="0.883" stop-color="#9714ff"/><stop offset="0.983" stop-color="#760fff"/><stop offset="1.000" stop-color="#6f12ff"/></linearGradient><linearGradient id="e34"><stop offset="0.000" stop-color="#1638ff"/><stop offset="0.045" stop-color="#352bff"/><stop offset="0.101" stop-color="#5d1aff"/><stop offset="0.212" stop-color="#5220ff"/><stop offset="0.274" stop-color="#2831ff"/><stop offset="0.307" stop-color="#034dff"/><stop offset="0.324" stop-color="#0089ff"/><stop offset="0.335" stop-color="#00e2fb"/><stop offset="0.341" stop-color="#00f2a4"/><stop offset="0.346" stop-color="#0ef23e"/><stop offset="0.352" stop-color="#64f309"/><stop offset="0.358" stop-color="#c8f700"/><stop offset="0.363" stop-color="#ffea00"/><stop offset="0.374" stop-color="#ff6000"/><stop offset="0.380" stop-color="#fc2600"/><stop offset="0.385" stop-color="#f10700"/><stop offset="0.397" stop-color="#d60000"/><stop offset="0.413" stop-color="#d70000"/><stop offset="0.425" stop-color="#f40800"/><stop offset="0.430" stop-color="#fd2f00"/><stop offset="0.447" stop-color="#ffe000"/><stop offset="0.453" stop-color="#e7f900"/><stop offset="0.475" stop-color="#3df10e"/><stop offset="0.480" stop-color="#1af013"/><stop offset="0.508" stop-color="#00eeba"/><stop offset="0.514" stop-color="#00e3f7"/><stop offset="0.525" stop-color="#0096ff"/><stop offset="0.542" stop-color="#0053ff"/><stop offset="0.575" stop-color="#2931ff"/><stop offset="0.642" stop-color="#6616ff"/><stop offset="0.754" stop-color="#870fff"/><stop offset="0.899" stop-color="#9514ff"/><stop offset="1.000" stop-color="#6f12ff"/></linearGradient><linearGradient id="e35"><stop offset="0.000" stop-color="#1638ff"/><stop offset="0.045" stop-color="#352bff"/><stop offset="0.101" stop-color="#5d1aff"/><stop offset="0.212" stop-color="#5120ff"/><stop offset="0.268" stop-color="#2d2fff"/><stop offset="0.307" stop-color="#024eff"/><stop offset="0.324" stop-color="#008dff"/><stop offset="0.330" stop-color="#00b9ff"/><stop offset="0.335" stop-color="#00e4f0"/><stop offset="0.341" stop-color="#00f499"/><stop offset="0.346" stop-color="#0ff133"/><stop offset="0.352" stop-color="#6cf307"/><stop offset="0.358" stop-color="#c5f700"/><stop offset="0.363" stop-color="#fff000"/><stop offset="0.380" stop-color="#fd3700"/><stop offset="0.385" stop-color="#f90a00"/><stop offset="0.402" stop-color="#d60000"/><stop offset="0.419" stop-color="#e00300"/><stop offset="0.425" stop-color="#f10700"/><stop offset="0.430" stop-color="#fc2200"/><stop offset="0.447" stop-color="#ffd000"/><stop offset="0.453" stop-color="#f8fa00"/><stop offset="0.475" stop-color="#4bf20c"/><stop offset="0.486" stop-color="#12f01f"/><stop offset="0.508" stop-color="#00f2a6"/><stop offset="0.520" stop-color="#00d5ff"/><stop offset="0.531" stop-color="#0089ff"/><stop offset="0.547" stop-color="#024eff"/><stop offset="0.603" stop-color="#4625ff"/><stop offset="0.682" stop-color="#750fff"/><stop offset="0.877" stop-color="#9714ff"/><stop offset="0.978" stop-color="#790dff"/><stop offset="1.000" stop-color="#6f12ff"/></linearGradient><linearGradient id="e36"><stop offset="0.000" stop-color="#1638ff"/><stop offset="0.045" stop-color="#352bff"/><stop offset="0.101" stop-color="#5d1aff"/><stop offset="0.212" stop-color="#5120ff"/><stop offset="0.274" stop-color="#2532ff"/><stop offset="0.307" stop-color="#0050ff"/><stop offset="0.324" stop-color="#0095ff"/><stop offset="0.330" stop-color="#00c1ff"/><stop offset="0.335" stop-color="#00e6e3"/><stop offset="0.341" stop-color="#02f58b"/><stop offset="0.346" stop-color="#11f126"/><stop offset="0.352" stop-color="#78f406"/><stop offset="0.358" stop-color="#c5f700"/><stop offset="0.363" stop-color="#fff400"/><stop offset="0.380" stop-color="#fe4800"/><stop offset="0.385" stop-color="#fb1d00"/><stop offset="0.391" stop-color="#f20800"/><stop offset="0.408" stop-color="#d80000"/><stop offset="0.425" stop-color="#ef0700"/><stop offset="0.430" stop-color="#fb1800"/><stop offset="0.441" stop-color="#ff8500"/><stop offset="0.453" stop-color="#fff100"/><stop offset="0.480" stop-color="#37f10f"/><stop offset="0.486" stop-color="#17f014"/><stop offset="0.514" stop-color="#00efb5"/><stop offset="0.520" stop-color="#00e5eb"/><stop offset="0.525" stop-color="#00c4ff"/><stop offset="0.536" stop-color="#007fff"/><stop offset="0.553" stop-color="#054bff"/><stop offset="0.615" stop-color="#4d21ff"/><stop offset="0.704" stop-color="#7c0cff"/><stop offset="0.883" stop-color="#9714ff"/><stop offset="0.983" stop-color="#760fff"/><stop offset="1.000" stop-color="#6f12ff"/></linearGradient><linearGradient id="e37"><stop offset="0.000" stop-color="#1638ff"/><stop offset="0.045" stop-color="#352bff"/><stop offset="0.101" stop-color="#5d1aff"/><stop offset="0.212" stop-color="#5020ff"/><stop offset="0.268" stop-color="#2a30ff"/><stop offset="0.307" stop-color="#0053ff"/><stop offset="0.318" stop-color="#007dff"/><stop offset="0.330" stop-color="#00caff"/><stop offset="0.335" stop-color="#00e9d4"/><stop offset="0.341" stop-color="#04f47b"/><stop offset="0.346" stop-color="#14f017"/><stop offset="0.352" stop-color="#7ff405"/><stop offset="0.363" stop-color="#fff800"/><stop offset="0.380" stop-color="#ff5b00"/><stop offset="0.391" stop-color="#fa0f00"/><stop offset="0.413" stop-color="#e00200"/><stop offset="0.430" stop-color="#fb1100"/><stop offset="0.441" stop-color="#ff7200"/><stop offset="0.453" stop-color="#ffe000"/><stop offset="0.458" stop-color="#e9f900"/><stop offset="0.480" stop-color="#45f20d"/><stop offset="0.492" stop-color="#12f020"/><stop offset="0.520" stop-color="#00ecc4"/><stop offset="0.525" stop-color="#00ddff"/><stop offset="0.536" stop-color="#008fff"/><stop offset="0.553" stop-color="#0050ff"/><stop offset="0.603" stop-color="#3f27ff"/><stop offset="0.676" stop-color="#7111ff"/><stop offset="0.866" stop-color="#9714ff"/><stop offset="0.961" stop-color="#810eff"/><stop offset="1.000" stop-color="#6f12ff"/></linearGradient><linearGradient id="e38"><stop offset="0.000" stop-color="#1638ff"/><stop offset="0.045" stop-color="#352cff"/><stop offset="0.101" stop-color="#5d1aff"/><stop offset="0.207" stop-color="#5120ff"/><stop offset="0.268" stop-color="#2931ff"/><stop offset="0.302" stop-color="#044cff"/><stop offset="0.318" stop-color="#0083ff"/><stop offset="0.330" stop-color="#00d5ff"/><stop offset="0.335" stop-color="#00edc2"/><stop offset="0.341" stop-color="#07f369"/><stop offset="0.346" stop-color="#24f112"/><stop offset="0.352" stop-color="#86f404"/><stop offset="0.363" stop-color="#fffa00"/><stop offset="0.385" stop-color="#fe4500"/><stop offset="0.397" stop-color="#fa0a00"/><stop offset="0.413" stop-color="#e70500"/><stop offset="0.430" stop-color="#fa0e00"/><stop offset="0.441" stop-color="#ff6100"/><stop offset="0.453" stop-color="#ffcf00"/><stop offset="0.458" stop-color="#fbfa00"/><stop offset="0.480" stop-color="#53f20b"/><stop offset="0.492" stop-color="#15f014"/><stop offset="0.520" stop-color="#00f0af"/><stop offset="0.525" stop-color="#00e7dd"/><stop offset="0.531" stop-color="#00cdff"/><stop offset="0.542" stop-color="#0084ff"/><stop offset="0.559" stop-color="#034dff"/><stop offset="0.615" stop-color="#4724ff"/><stop offset="0.693" stop-color="#760fff"/><stop offset="0.877" stop-color="#9714ff"/><stop offset="0.978" stop-color="#790dff"/><stop offset="1.000" stop-color="#6f12ff"/></linearGradient><linearGradient id="e39"><stop offset="0.000" stop-color="#1638ff"/><stop offset="0.045" stop-color="#352cff"/><stop offset="0.101" stop-color="#5d1aff"/><stop offset="0.207" stop-color="#5120ff"/><stop offset="0.268" stop-color="#2731ff"/><stop offset="0.302" stop-color="#024eff"/><stop offset="0.318" stop-color="#008aff"/><stop offset="0.330" stop-color="#00e1fe"/><stop offset="0.341" stop-color="#0af255"/><stop offset="0.346" stop-color="#39f10f"/><stop offset="0.352" stop-color="#8df403"/><stop offset="0.363" stop-color="#fcfa00"/><stop offset="0.385" stop-color="#ff5a00"/><stop offset="0.402" stop-color="#fa0d00"/><stop offset="0.425" stop-color="#f30800"/><stop offset="0.430" stop-color="#fa0e00"/><stop offset="0.441" stop-color="#ff5200"/><stop offset="0.458" stop-color="#ffec00"/><stop offset="0.469" stop-color="#b4f600"/><stop offset="0.486" stop-color="#41f20e"/><stop offset="0.497" stop-color="#12f020"/><stop offset="0.525" stop-color="#00edbd"/><stop offset="0.531" stop-color="#00e3f7"/><stop offset="0.542" stop-color="#0096ff"/><stop offset="0.559" stop-color="#0053ff"/><stop offset="0.603" stop-color="#382bff"/><stop offset="0.670" stop-color="#6c13ff"/><stop offset="0.827" stop-color="#9413ff"/><stop offset="0.933" stop-color="#8d11ff"/><stop offset="1.000" stop-color="#6f12ff"/></linearGradient><linearGradient id="e40"><stop offset="0.000" stop-color="#1638ff"/><stop offset="0.045" stop-color="#352cff"/><stop offset="0.101" stop-color="#5d1aff"/><stop offset="0.212" stop-color="#4e21ff"/><stop offset="0.268" stop-color="#2432ff"/><stop offset="0.302" stop-color="#0050ff"/><stop offset="0.318" stop-color="#0094ff"/><stop offset="0.324" stop-color="#00beff"/><stop offset="0.330" stop-color="#00e5eb"/><stop offset="0.335" stop-color="#00f49a"/><stop offset="0.341" stop-color="#0df23f"/><stop offset="0.346" stop-color="#4cf20c"/><stop offset="0.352" stop-color="#95f502"/><stop offset="0.363" stop-color="#fafa00"/><stop offset="0.391" stop-color="#ff5200"/><stop offset="0.408" stop-color="#fb1500"/><stop offset="0.419" stop-color="#f70900"/><stop offset="0.430" stop-color="#fb1300"/><stop offset="0.441" stop-color="#ff4900"/><stop offset="0.458" stop-color="#ffdb00"/><stop offset="0.464" stop-color="#f1f900"/><stop offset="0.486" stop-color="#50f20b"/><stop offset="0.497" stop-color="#15f014"/><stop offset="0.520" stop-color="#02f487"/><stop offset="0.531" stop-color="#00ead0"/><stop offset="0.536" stop-color="#00d6ff"/><stop offset="0.547" stop-color="#0089ff"/><stop offset="0.564" stop-color="#024eff"/><stop offset="0.620" stop-color="#4625ff"/><stop offset="0.704" stop-color="#790eff"/><stop offset="0.883" stop-color="#9714ff"/><stop offset="0.983" stop-color="#760fff"/><stop offset="1.000" stop-color="#6f12ff"/></linearGradient><linearGradient id="e41"><stop offset="0.000" stop-color="#1638ff"/><stop offset="0.045" stop-color="#352cff"/><stop offset="0.101" stop-color="#5d1aff"/><stop offset="0.207" stop-color="#4f21ff"/><stop offset="0.263" stop-color="#2930ff"/><stop offset="0.302" stop-color="#0055ff"/><stop offset="0.313" stop-color="#007fff"/><stop offset="0.324" stop-color="#00ccff"/><stop offset="0.330" stop-color="#00e9d5"/><stop offset="0.335" stop-color="#03f483"/><stop offset="0.341" stop-color="#11f128"/><stop offset="0.346" stop-color="#57f20a"/><stop offset="0.352" stop-color="#9cf501"/><stop offset="0.363" stop-color="#f7fa00"/><stop offset="0.397" stop-color="#ff5200"/><stop offset="0.419" stop-color="#fb1800"/><stop offset="0.430" stop-color="#fb1b00"/><stop offset="0.441" stop-color="#fe4400"/><stop offset="0.464" stop-color="#fff400"/><stop offset="0.492" stop-color="#40f20e"/><stop offset="0.503" stop-color="#12f01f"/><stop offset="0.525" stop-color="#00f595"/><stop offset="0.531" stop-color="#00efb7"/><stop offset="0.536" stop-color="#00e5e9"/><stop offset="0.542" stop-color="#00c5ff"/><stop offset="0.553" stop-color="#0080ff"/><stop offset="0.570" stop-color="#044bff"/><stop offset="0.626" stop-color="#4824ff"/><stop offset="0.704" stop-color="#780eff"/><stop offset="0.883" stop-color="#9714ff"/><stop offset="0.983" stop-color="#760fff"/><stop offset="1.000" stop-color="#6f12ff"/></linearGradient><linearGradient id="e42"><stop offset="0.000" stop-color="#1638ff"/><stop offset="0.045" stop-color="#352cff"/><stop offset="0.101" stop-color="#5c1bff"/><stop offset="0.207" stop-color="#4e21ff"/><stop offset="0.263" stop-color="#2731ff"/><stop offset="0.296" stop-color="#034dff"/><stop offset="0.313" stop-color="#0087ff"/><stop offset="0.324" stop-color="#00daff"/><stop offset="0.330" stop-color="#00edbe"/><stop offset="0.341" stop-color="#19f013"/><stop offset="0.352" stop-color="#a3f500"/><stop offset="0.363" stop-color="#f4f900"/><stop offset="0.374" stop-color="#ffca00"/><stop offset="0.408" stop-color="#fe4800"/><stop offset="0.425" stop-color="#fc2700"/><stop offset="0.436" stop-color="#fd3000"/><stop offset="0.447" stop-color="#ff6000"/><stop offset="0.464" stop-color="#ffe200"/><stop offset="0.469" stop-color="#ecf900"/><stop offset="0.492" stop-color="#4ff20c"/><stop offset="0.503" stop-color="#17f014"/><stop offset="0.525" stop-color="#03f481"/><stop offset="0.536" stop-color="#00ecc5"/><stop offset="0.542" stop-color="#00dfff"/><stop offset="0.553" stop-color="#0090ff"/><stop offset="0.570" stop-color="#0050ff"/><stop offset="0.626" stop-color="#4525ff"/><stop offset="0.704" stop-color="#770eff"/><stop offset="0.883" stop-color="#9714ff"/><stop offset="0.983" stop-color="#760fff"/><stop offset="1.000" stop-color="#6f12ff"/></linearGradient><linearGradient id="e43"><stop offset="0.000" stop-color="#1638ff"/><stop offset="0.045" stop-color="#352cff"/><stop offset="0.101" stop-color="#5c1bff"/><stop offset="0.201" stop-color="#4f21ff"/><stop offset="0.257" stop-color="#2b30ff"/><stop offset="0.296" stop-color="#0050ff"/><stop offset="0.313" stop-color="#0092ff"/><stop offset="0.324" stop-color="#00e3f2"/><stop offset="0.330" stop-color="#00f2a5"/><stop offset="0.335" stop-color="#0bf250"/><stop offset="0.341" stop-color="#2ff110"/><stop offset="0.352" stop-color="#a7f500"/><stop offset="0.363" stop-color="#f1f900"/><stop offset="0.374" stop-color="#ffd400"/><stop offset="0.419" stop-color="#fe4600"/><stop offset="0.436" stop-color="#fd3900"/><stop offset="0.447" stop-color="#ff5a00"/><stop offset="0.469" stop-color="#fff800"/><stop offset="0.497" stop-color="#40f20e"/><stop offset="0.508" stop-color="#13f01d"/><stop offset="0.531" stop-color="#01f58e"/><stop offset="0.542" stop-color="#00e8db"/><stop offset="0.547" stop-color="#00ceff"/><stop offset="0.559" stop-color="#0085ff"/><stop offset="0.575" stop-color="#034dff"/><stop offset="0.631" stop-color="#4724ff"/><stop offset="0.715" stop-color="#7a0dff"/><stop offset="0.877" stop-color="#9714ff"/><stop offset="0.978" stop-color="#790dff"/><stop offset="1.000" stop-color="#6f12ff"/></linearGradient><linearGradient id="e44"><stop offset="0.000" stop-color="#1638ff"/><stop offset="0.045" stop-color="#352cff"/><stop offset="0.101" stop-color="#5c1bff"/><stop offset="0.207" stop-color="#4c22ff"/><stop offset="0.263" stop-color="#2233ff"/><stop offset="0.296" stop-color="#0055ff"/><stop offset="0.307" stop-color="#007fff"/><stop offset="0.318" stop-color="#00caff"/><stop offset="0.324" stop-color="#00e8d9"/><stop offset="0.330" stop-color="#02f58b"/><stop offset="0.335" stop-color="#0ff135"/><stop offset="0.341" stop-color="#3df10e"/><stop offset="0.352" stop-color="#acf600"/><stop offset="0.363" stop-color="#edf900"/><stop offset="0.369" stop-color="#fff200"/><stop offset="0.425" stop-color="#ff5200"/><stop offset="0.441" stop-color="#ff4a00"/><stop offset="0.453" stop-color="#ff7400"/><stop offset="0.469" stop-color="#ffe600"/><stop offset="0.475" stop-color="#e9f900"/><stop offset="0.497" stop-color="#50f20b"/><stop offset="0.508" stop-color="#19f013"/><stop offset="0.525" stop-color="#09f35c"/><stop offset="0.542" stop-color="#00edbe"/><stop offset="0.547" stop-color="#00e3f5"/><stop offset="0.564" stop-color="#007cff"/><stop offset="0.581" stop-color="#054aff"/><stop offset="0.642" stop-color="#4e21ff"/><stop offset="0.732" stop-color="#7f0dff"/><stop offset="0.883" stop-color="#9614ff"/><stop offset="0.978" stop-color="#790dff"/><stop offset="1.000" stop-color="#6f12ff"/></linearGradient><linearGradient id="e45"><stop offset="0.000" stop-color="#1638ff"/><stop offset="0.045" stop-color="#352cff"/><stop offset="0.101" stop-color="#5c1bff"/><stop offset="0.201" stop-color="#4d22ff"/><stop offset="0.257" stop-color="#2631ff"/><stop offset="0.291" stop-color="#024dff"/><stop offset="0.307" stop-color="#0088ff"/><stop offset="0.318" stop-color="#00dbff"/><stop offset="0.324" stop-color="#00edbf"/><stop offset="0.335" stop-color="#13f019"/><stop offset="0.346" stop-color="#83f404"/><stop offset="0.358" stop-color="#cef700"/><stop offset="0.369" stop-color="#fff900"/><stop offset="0.436" stop-color="#ff5800"/><stop offset="0.447" stop-color="#ff5d00"/><stop offset="0.458" stop-color="#ff8c00"/><stop offset="0.475" stop-color="#fffa00"/><stop offset="0.503" stop-color="#42f20d"/><stop offset="0.514" stop-color="#13f01a"/><stop offset="0.536" stop-color="#02f488"/><stop offset="0.547" stop-color="#00eacd"/><stop offset="0.553" stop-color="#00d7ff"/><stop offset="0.564" stop-color="#008bff"/><stop offset="0.581" stop-color="#014fff"/><stop offset="0.631" stop-color="#4027ff"/><stop offset="0.704" stop-color="#7410ff"/><stop offset="0.866" stop-color="#9714ff"/><stop offset="0.961" stop-color="#810eff"/><stop offset="1.000" stop-color="#6f12ff"/></linearGradient><linearGradient id="e46"><stop offset="0.000" stop-color="#1638ff"/><stop offset="0.045" stop-color="#352cff"/><stop offset="0.101" stop-color="#5c1bff"/><stop offset="0.207" stop-color="#4a23ff"/><stop offset="0.263" stop-color="#1c36ff"/><stop offset="0.291" stop-color="#0051ff"/><stop offset="0.307" stop-color="#0094ff"/><stop offset="0.313" stop-color="#00beff"/><stop offset="0.318" stop-color="#00e4ef"/><stop offset="0.330" stop-color="#0af252"/><stop offset="0.335" stop-color="#22f112"/><stop offset="0.346" stop-color="#8df403"/><stop offset="0.358" stop-color="#cdf700"/><stop offset="0.369" stop-color="#f8fa00"/><stop offset="0.419" stop-color="#ff9c00"/><stop offset="0.441" stop-color="#ff6700"/><stop offset="0.453" stop-color="#ff6f00"/><stop offset="0.464" stop-color="#ffa100"/><stop offset="0.475" stop-color="#ffe700"/><stop offset="0.480" stop-color="#eaf900"/><stop offset="0.503" stop-color="#53f20b"/><stop offset="0.514" stop-color="#1cf013"/><stop offset="0.531" stop-color="#0af357"/><stop offset="0.547" stop-color="#00efb6"/><stop offset="0.553" stop-color="#00e6e7"/><stop offset="0.559" stop-color="#00c7ff"/><stop offset="0.570" stop-color="#0081ff"/><stop offset="0.587" stop-color="#044cff"/><stop offset="0.648" stop-color="#4d21ff"/><stop offset="0.732" stop-color="#7e0dff"/><stop offset="0.883" stop-color="#9614ff"/><stop offset="0.978" stop-color="#790dff"/><stop offset="1.000" stop-color="#6f12ff"/></linearGradient><linearGradient id="e47"><stop offset="0.000" stop-color="#1638ff"/><stop offset="0.050" stop-color="#3a29ff"/><stop offset="0.101" stop-color="#5b1bff"/><stop offset="0.196" stop-color="#4e21ff"/><stop offset="0.257" stop-color="#2134ff"/><stop offset="0.291" stop-color="#0057ff"/><stop offset="0.302" stop-color="#0082ff"/><stop offset="0.313" stop-color="#00ceff"/><stop offset="0.318" stop-color="#00e9d4"/><stop offset="0.330" stop-color="#0ff135"/><stop offset="0.335" stop-color="#33f110"/><stop offset="0.346" stop-color="#96f501"/><stop offset="0.363" stop-color="#dff800"/><stop offset="0.374" stop-color="#fdfa00"/><stop offset="0.425" stop-color="#ffa900"/><stop offset="0.447" stop-color="#ff7400"/><stop offset="0.458" stop-color="#ff8000"/><stop offset="0.475" stop-color="#ffd500"/><stop offset="0.480" stop-color="#fff900"/><stop offset="0.508" stop-color="#46f20d"/><stop offset="0.520" stop-color="#14f016"/><stop offset="0.542" stop-color="#03f481"/><stop offset="0.553" stop-color="#00ecc4"/><stop offset="0.559" stop-color="#00e1ff"/><stop offset="0.570" stop-color="#0092ff"/><stop offset="0.587" stop-color="#0051ff"/><stop offset="0.637" stop-color="#3f28ff"/><stop offset="0.715" stop-color="#760fff"/><stop offset="0.872" stop-color="#9714ff"/><stop offset="0.972" stop-color="#7c0cff"/><stop offset="1.000" stop-color="#6f12ff"/></linearGradient><linearGradient id="e48"><stop offset="0.000" stop-color="#1638ff"/><stop offset="0.050" stop-color="#3a29ff"/><stop offset="0.106" stop-color="#5c1bff"/><stop offset="0.207" stop-color="#4724ff"/><stop offset="0.257" stop-color="#1e35ff"/><stop offset="0.285" stop-color="#014eff"/><stop offset="0.302" stop-color="#008cff"/><stop offset="0.313" stop-color="#00e0ff"/><stop offset="0.324" stop-color="#07f369"/><stop offset="0.330" stop-color="#13f019"/><stop offset="0.346" stop-color="#9df500"/><stop offset="0.363" stop-color="#daf800"/><stop offset="0.385" stop-color="#fff500"/><stop offset="0.425" stop-color="#ffc100"/><stop offset="0.453" stop-color="#ff7e00"/><stop offset="0.464" stop-color="#ff8f00"/><stop offset="0.480" stop-color="#ffe600"/><stop offset="0.486" stop-color="#edf900"/><stop offset="0.514" stop-color="#3af10f"/><stop offset="0.525" stop-color="#12f020"/><stop offset="0.547" stop-color="#01f58e"/><stop offset="0.559" stop-color="#00e8d8"/><stop offset="0.564" stop-color="#00d0ff"/><stop offset="0.575" stop-color="#0087ff"/><stop offset="0.592" stop-color="#024eff"/><stop offset="0.648" stop-color="#4724ff"/><stop offset="0.732" stop-color="#7d0cff"/><stop offset="0.883" stop-color="#9614ff"/><stop offset="0.978" stop-color="#790dff"/><stop offset="1.000" stop-color="#6f12ff"/></linearGradient><linearGradient id="e49"><stop offset="0.000" stop-color="#1638ff"/><stop offset="0.039" stop-color="#2f2eff"/><stop offset="0.101" stop-color="#5b1bff"/><stop offset="0.201" stop-color="#4924ff"/><stop offset="0.251" stop-color="#2233ff"/><stop offset="0.285" stop-color="#0053ff"/><stop offset="0.302" stop-color="#009aff"/><stop offset="0.307" stop-color="#00c4ff"/><stop offset="0.313" stop-color="#00e6e5"/><stop offset="0.318" stop-color="#00f49b"/><stop offset="0.324" stop-color="#0cf24a"/><stop offset="0.330" stop-color="#21f012"/><stop offset="0.341" stop-color="#7ff405"/><stop offset="0.346" stop-color="#a2f500"/><stop offset="0.369" stop-color="#def800"/><stop offset="0.397" stop-color="#fff600"/><stop offset="0.430" stop-color="#ffcb00"/><stop offset="0.453" stop-color="#ff8d00"/><stop offset="0.464" stop-color="#ff8d00"/><stop offset="0.475" stop-color="#ffb600"/><stop offset="0.486" stop-color="#fff600"/><stop offset="0.514" stop-color="#4af20c"/><stop offset="0.525" stop-color="#16f014"/><stop offset="0.547" stop-color="#04f47a"/><stop offset="0.559" stop-color="#00eebc"/><stop offset="0.564" stop-color="#00e4f1"/><stop offset="0.575" stop-color="#009aff"/><stop offset="0.592" stop-color="#0055ff"/><stop offset="0.631" stop-color="#302eff"/><stop offset="0.698" stop-color="#6b14ff"/><stop offset="0.799" stop-color="#8e11ff"/><stop offset="0.916" stop-color="#9213ff"/><stop offset="1.000" stop-color="#6f12ff"/></linearGradient><linearGradient id="e50"><stop offset="0.000" stop-color="#1638ff"/><stop offset="0.039" stop-color="#2f2eff"/><stop offset="0.101" stop-color="#5b1bff"/><stop offset="0.196" stop-color="#4a23ff"/><stop offset="0.251" stop-color="#1f34ff"/><stop offset="0.279" stop-color="#034dff"/><stop offset="0.296" stop-color="#0086ff"/><stop offset="0.307" stop-color="#00d6ff"/><stop offset="0.313" stop-color="#00ebc8"/><stop offset="0.324" stop-color="#10f12b"/><stop offset="0.330" stop-color="#33f110"/><stop offset="0.341" stop-color="#89f403"/><stop offset="0.352" stop-color="#b7f600"/><stop offset="0.397" stop-color="#f5f900"/><stop offset="0.425" stop-color="#ffeb00"/><stop offset="0.458" stop-color="#ff9300"/><stop offset="0.469" stop-color="#ff9700"/><stop offset="0.486" stop-color="#ffe300"/><stop offset="0.492" stop-color="#f2f900"/><stop offset="0.520" stop-color="#3ef20e"/><stop offset="0.531" stop-color="#13f01c"/><stop offset="0.553" stop-color="#02f487"/><stop offset="0.564" stop-color="#00ebca"/><stop offset="0.570" stop-color="#00daff"/><stop offset="0.581" stop-color="#008cff"/><stop offset="0.598" stop-color="#014fff"/><stop offset="0.648" stop-color="#4027ff"/><stop offset="0.726" stop-color="#780eff"/><stop offset="0.872" stop-color="#9614ff"/><stop offset="0.966" stop-color="#7f0dff"/><stop offset="1.000" stop-color="#6f12ff"/></linearGradient><linearGradient id="e51"><stop offset="0.000" stop-color="#1638ff"/><stop offset="0.039" stop-color="#2e2eff"/><stop offset="0.095" stop-color="#591cff"/><stop offset="0.184" stop-color="#4e21ff"/><stop offset="0.246" stop-color="#2333ff"/><stop offset="0.279" stop-color="#0050ff"/><stop offset="0.296" stop-color="#0092ff"/><stop offset="0.307" stop-color="#00e3f4"/><stop offset="0.318" stop-color="#09f35c"/><stop offset="0.324" stop-color="#14f014"/><stop offset="0.335" stop-color="#6ff307"/><stop offset="0.346" stop-color="#a9f500"/><stop offset="0.380" stop-color="#d6f800"/><stop offset="0.430" stop-color="#fff500"/><stop offset="0.464" stop-color="#ff9700"/><stop offset="0.475" stop-color="#ffa200"/><stop offset="0.492" stop-color="#fff100"/><stop offset="0.525" stop-color="#33f110"/><stop offset="0.531" stop-color="#1af013"/><stop offset="0.547" stop-color="#0af356"/><stop offset="0.564" stop-color="#00efb5"/><stop offset="0.570" stop-color="#00e6e3"/><stop offset="0.575" stop-color="#00caff"/><stop offset="0.587" stop-color="#0083ff"/><stop offset="0.603" stop-color="#034cff"/><stop offset="0.665" stop-color="#4e21ff"/><stop offset="0.749" stop-color="#800dff"/><stop offset="0.888" stop-color="#9614ff"/><stop offset="1.000" stop-color="#6f12ff"/></linearGradient><linearGradient id="e52"><stop offset="0.000" stop-color="#1638ff"/><stop offset="0.039" stop-color="#2e2eff"/><stop offset="0.095" stop-color="#591cff"/><stop offset="0.184" stop-color="#4d22ff"/><stop offset="0.246" stop-color="#2034ff"/><stop offset="0.279" stop-color="#0057ff"/><stop offset="0.291" stop-color="#0081ff"/><stop offset="0.302" stop-color="#00cdff"/><stop offset="0.307" stop-color="#00e9d7"/><stop offset="0.313" stop-color="#02f58c"/><stop offset="0.318" stop-color="#0ef23c"/><stop offset="0.324" stop-color="#27f111"/><stop offset="0.335" stop-color="#7bf405"/><stop offset="0.346" stop-color="#aaf600"/><stop offset="0.402" stop-color="#ddf800"/><stop offset="0.430" stop-color="#f0f900"/><stop offset="0.441" stop-color="#ffee00"/><stop offset="0.464" stop-color="#ffa300"/><stop offset="0.475" stop-color="#ff9d00"/><stop offset="0.486" stop-color="#ffc200"/><stop offset="0.497" stop-color="#f9fa00"/><stop offset="0.525" stop-color="#44f20d"/><stop offset="0.536" stop-color="#14f017"/><stop offset="0.559" stop-color="#03f480"/><stop offset="0.570" stop-color="#00edc2"/><stop offset="0.575" stop-color="#00e2fb"/><stop offset="0.587" stop-color="#0094ff"/><stop offset="0.603" stop-color="#0052ff"/><stop offset="0.648" stop-color="#392aff"/><stop offset="0.726" stop-color="#760fff"/><stop offset="0.866" stop-color="#9614ff"/><stop offset="0.961" stop-color="#810eff"/><stop offset="1.000" stop-color="#6f12ff"/></linearGradient><linearGradient id="e53"><stop offset="0.000" stop-color="#1638ff"/><stop offset="0.039" stop-color="#2e2eff"/><stop offset="0.101" stop-color="#5a1cff"/><stop offset="0.190" stop-color="#4924ff"/><stop offset="0.246" stop-color="#1d35ff"/><stop offset="0.274" stop-color="#014eff"/><stop offset="0.291" stop-color="#008cff"/><stop offset="0.302" stop-color="#00e0ff"/><stop offset="0.313" stop-color="#07f36b"/><stop offset="0.318" stop-color="#12f01e"/><stop offset="0.335" stop-color="#86f404"/><stop offset="0.346" stop-color="#abf600"/><stop offset="0.436" stop-color="#e6f900"/><stop offset="0.447" stop-color="#fff100"/><stop offset="0.469" stop-color="#ffa400"/><stop offset="0.480" stop-color="#ffa400"/><stop offset="0.492" stop-color="#ffce00"/><stop offset="0.497" stop-color="#ffec00"/><stop offset="0.503" stop-color="#e9f900"/><stop offset="0.531" stop-color="#39f10f"/><stop offset="0.542" stop-color="#12f020"/><stop offset="0.564" stop-color="#01f58c"/><stop offset="0.575" stop-color="#00e9d4"/><stop offset="0.581" stop-color="#00d3ff"/><stop offset="0.592" stop-color="#0088ff"/><stop offset="0.609" stop-color="#024eff"/><stop offset="0.665" stop-color="#4724ff"/><stop offset="0.749" stop-color="#7f0dff"/><stop offset="0.883" stop-color="#9614ff"/><stop offset="0.983" stop-color="#760fff"/><stop offset="1.000" stop-color="#6f12ff"/></linearGradient><linearGradient id="e54"><stop offset="0.000" stop-color="#1638ff"/><stop offset="0.039" stop-color="#2e2eff"/><stop offset="0.101" stop-color="#5a1cff"/><stop offset="0.190" stop-color="#4824ff"/><stop offset="0.240" stop-color="#2133ff"/><stop offset="0.274" stop-color="#0053ff"/><stop offset="0.291" stop-color="#009bff"/><stop offset="0.296" stop-color="#00c5ff"/><stop offset="0.302" stop-color="#00e6e3"/><stop offset="0.307" stop-color="#00f499"/><stop offset="0.313" stop-color="#0cf24a"/><stop offset="0.318" stop-color="#1ef013"/><stop offset="0.330" stop-color="#72f307"/><stop offset="0.341" stop-color="#a3f500"/><stop offset="0.436" stop-color="#d3f800"/><stop offset="0.453" stop-color="#fff100"/><stop offset="0.469" stop-color="#ffb000"/><stop offset="0.480" stop-color="#ffa100"/><stop offset="0.492" stop-color="#ffbf00"/><stop offset="0.503" stop-color="#fff900"/><stop offset="0.531" stop-color="#4af20c"/><stop offset="0.542" stop-color="#16f014"/><stop offset="0.564" stop-color="#05f479"/><stop offset="0.575" stop-color="#00eeba"/><stop offset="0.581" stop-color="#00e4ed"/><stop offset="0.587" stop-color="#00c3ff"/><stop offset="0.598" stop-color="#007fff"/><stop offset="0.615" stop-color="#054bff"/><stop offset="0.676" stop-color="#4f21ff"/><stop offset="0.760" stop-color="#820eff"/><stop offset="0.888" stop-color="#9614ff"/><stop offset="1.000" stop-color="#6f12ff"/></linearGradient><linearGradient id="e55"><stop offset="0.000" stop-color="#1638ff"/><stop offset="0.039" stop-color="#2e2eff"/><stop offset="0.095" stop-color="#581dff"/><stop offset="0.179" stop-color="#4c22ff"/><stop offset="0.235" stop-color="#2532ff"/><stop offset="0.268" stop-color="#034dff"/><stop offset="0.285" stop-color="#0087ff"/><stop offset="0.296" stop-color="#00d8ff"/><stop offset="0.302" stop-color="#00ecc5"/><stop offset="0.313" stop-color="#11f129"/><stop offset="0.318" stop-color="#32f110"/><stop offset="0.330" stop-color="#7ef405"/><stop offset="0.341" stop-color="#a5f500"/><stop offset="0.436" stop-color="#c3f700"/><stop offset="0.453" stop-color="#f2f900"/><stop offset="0.464" stop-color="#ffd600"/><stop offset="0.475" stop-color="#ffad00"/><stop offset="0.486" stop-color="#ffa600"/><stop offset="0.497" stop-color="#ffc900"/><stop offset="0.508" stop-color="#f1f900"/><stop offset="0.536" stop-color="#3ef20e"/><stop offset="0.547" stop-color="#13f01b"/><stop offset="0.570" stop-color="#03f485"/><stop offset="0.581" stop-color="#00ecc8"/><stop offset="0.587" stop-color="#00ddff"/><stop offset="0.598" stop-color="#008fff"/><stop offset="0.615" stop-color="#0050ff"/><stop offset="0.665" stop-color="#4027ff"/><stop offset="0.743" stop-color="#7b0cff"/><stop offset="0.877" stop-color="#9614ff"/><stop offset="0.972" stop-color="#7c0cff"/><stop offset="1.000" stop-color="#6f12ff"/></linearGradient><linearGradient id="e56"><stop offset="0.000" stop-color="#1639ff"/><stop offset="0.039" stop-color="#2e2eff"/><stop offset="0.095" stop-color="#581dff"/><stop offset="0.184" stop-color="#4824ff"/><stop offset="0.235" stop-color="#2233ff"/><stop offset="0.268" stop-color="#0051ff"/><stop offset="0.285" stop-color="#0095ff"/><stop offset="0.291" stop-color="#00beff"/><stop offset="0.296" stop-color="#00e4ef"/><stop offset="0.307" stop-color="#0af357"/><stop offset="0.313" stop-color="#16f014"/><stop offset="0.324" stop-color="#6cf307"/><stop offset="0.335" stop-color="#9df500"/><stop offset="0.352" stop-color="#a8f500"/><stop offset="0.391" stop-color="#abf600"/><stop offset="0.441" stop-color="#bcf600"/><stop offset="0.458" stop-color="#f5f900"/><stop offset="0.475" stop-color="#ffba00"/><stop offset="0.486" stop-color="#ffa400"/><stop offset="0.497" stop-color="#ffbb00"/><stop offset="0.508" stop-color="#fff200"/><stop offset="0.542" stop-color="#34f10f"/><stop offset="0.547" stop-color="#1bf013"/><stop offset="0.564" stop-color="#0af355"/><stop offset="0.581" stop-color="#00f0b3"/><stop offset="0.587" stop-color="#00e7de"/><stop offset="0.592" stop-color="#00ccff"/><stop offset="0.603" stop-color="#0084ff"/><stop offset="0.620" stop-color="#034dff"/><stop offset="0.676" stop-color="#4924ff"/><stop offset="0.760" stop-color="#810dff"/><stop offset="0.888" stop-color="#9514ff"/><stop offset="1.000" stop-color="#6f12ff"/></linearGradient></defs>
<g shape-rendering="crispEdges">
<rect x="291.00" y="61.90" width="71.60" height="1.31" fill="url(#e0)"/>
<rect x="291.00" y="62.91" width="71.60" height="1.31" fill="url(#e1)"/>
<rect x="291.00" y="63.91" width="71.60" height="1.31" fill="url(#e2)"/>
<rect x="291.00" y="64.92" width="71.60" height="1.31" fill="url(#e3)"/>
<rect x="291.00" y="65.93" width="71.60" height="1.31" fill="url(#e4)"/>
<rect x="291.00" y="66.94" width="71.60" height="1.31" fill="url(#e5)"/>
<rect x="291.00" y="67.94" width="71.60" height="1.31" fill="url(#e6)"/>
<rect x="291.00" y="68.95" width="71.60" height="1.31" fill="url(#e7)"/>
<rect x="291.00" y="69.96" width="71.60" height="1.31" fill="url(#e8)"/>
<rect x="291.00" y="70.96" width="71.60" height="1.31" fill="url(#e9)"/>
<rect x="291.00" y="71.97" width="71.60" height="1.31" fill="url(#e10)"/>
<rect x="291.00" y="72.98" width="71.60" height="1.31" fill="url(#e11)"/>
<rect x="291.00" y="73.98" width="71.60" height="1.31" fill="url(#e12)"/>
<rect x="291.00" y="74.99" width="71.60" height="1.31" fill="url(#e13)"/>
<rect x="291.00" y="76.00" width="71.60" height="1.31" fill="url(#e14)"/>
<rect x="291.00" y="77.01" width="71.60" height="1.31" fill="url(#e15)"/>
<rect x="291.00" y="78.01" width="71.60" height="1.31" fill="url(#e16)"/>
<rect x="291.00" y="79.02" width="71.60" height="1.31" fill="url(#e17)"/>
<rect x="291.00" y="80.03" width="71.60" height="1.31" fill="url(#e18)"/>
<rect x="291.00" y="81.03" width="71.60" height="1.31" fill="url(#e19)"/>
<rect x="291.00" y="82.04" width="71.60" height="1.31" fill="url(#e20)"/>
<rect x="291.00" y="83.05" width="71.60" height="1.31" fill="url(#e21)"/>
<rect x="291.00" y="84.05" width="71.60" height="1.31" fill="url(#e22)"/>
<rect x="291.00" y="85.06" width="71.60" height="1.31" fill="url(#e23)"/>
<rect x="291.00" y="86.07" width="71.60" height="1.31" fill="url(#e24)"/>
<rect x="291.00" y="87.08" width="71.60" height="1.31" fill="url(#e25)"/>
<rect x="291.00" y="88.08" width="71.60" height="1.31" fill="url(#e26)"/>
<rect x="291.00" y="89.09" width="71.60" height="1.31" fill="url(#e27)"/>
<rect x="291.00" y="90.10" width="71.60" height="1.31" fill="url(#e28)"/>
<rect x="291.00" y="91.10" width="71.60" height="1.31" fill="url(#e29)"/>
<rect x="291.00" y="92.11" width="71.60" height="1.31" fill="url(#e30)"/>
<rect x="291.00" y="93.12" width="71.60" height="1.31" fill="url(#e31)"/>
<rect x="291.00" y="94.12" width="71.60" height="1.31" fill="url(#e32)"/>
<rect x="291.00" y="95.13" width="71.60" height="1.31" fill="url(#e33)"/>
<rect x="291.00" y="96.14" width="71.60" height="1.31" fill="url(#e34)"/>
<rect x="291.00" y="97.15" width="71.60" height="1.31" fill="url(#e35)"/>
<rect x="291.00" y="98.15" width="71.60" height="1.31" fill="url(#e36)"/>
<rect x="291.00" y="99.16" width="71.60" height="1.31" fill="url(#e37)"/>
<rect x="291.00" y="100.17" width="71.60" height="1.31" fill="url(#e38)"/>
<rect x="291.00" y="101.17" width="71.60" height="1.31" fill="url(#e39)"/>
<rect x="291.00" y="102.18" width="71.60" height="1.31" fill="url(#e40)"/>
<rect x="291.00" y="103.19" width="71.60" height="1.31" fill="url(#e41)"/>
<rect x="291.00" y="104.19" width="71.60" height="1.31" fill="url(#e42)"/>
<rect x="291.00" y="105.20" width="71.60" height="1.31" fill="url(#e43)"/>
<rect x="291.00" y="106.21" width="71.60" height="1.31" fill="url(#e44)"/>
<rect x="291.00" y="107.22" width="71.60" height="1.31" fill="url(#e45)"/>
<rect x="291.00" y="108.22" width="71.60" height="1.31" fill="url(#e46)"/>
<rect x="291.00" y="109.23" width="71.60" height="1.31" fill="url(#e47)"/>
<rect x="291.00" y="110.24" width="71.60" height="1.31" fill="url(#e48)"/>
<rect x="291.00" y="111.24" width="71.60" height="1.31" fill="url(#e49)"/>
<rect x="291.00" y="112.25" width="71.60" height="1.31" fill="url(#e50)"/>
<rect x="291.00" y="113.26" width="71.60" height="1.31" fill="url(#e51)"/>
<rect x="291.00" y="114.26" width="71.60" height="1.31" fill="url(#e52)"/>
<rect x="291.00" y="115.27" width="71.60" height="1.31" fill="url(#e53)"/>
<rect x="291.00" y="116.28" width="71.60" height="1.31" fill="url(#e54)"/>
<rect x="291.00" y="117.29" width="71.60" height="1.31" fill="url(#e55)"/>
<rect x="291.00" y="118.29" width="71.60" height="1.31" fill="url(#e56)"/>
</g>
<defs><linearGradient id="f0"><stop offset="0.000" stop-color="#0051ff"/><stop offset="0.162" stop-color="#0072ff"/><stop offset="0.212" stop-color="#0097ff"/><stop offset="0.235" stop-color="#00cbff"/><stop offset="0.240" stop-color="#00e0ff"/><stop offset="0.251" stop-color="#00f0b0"/><stop offset="0.263" stop-color="#0df243"/><stop offset="0.268" stop-color="#24f112"/><stop offset="0.279" stop-color="#a2f500"/><stop offset="0.291" stop-color="#d5f800"/><stop offset="0.302" stop-color="#ecf900"/><stop offset="0.318" stop-color="#def800"/><stop offset="0.346" stop-color="#b4f600"/><stop offset="0.397" stop-color="#b1f600"/><stop offset="0.464" stop-color="#75f306"/><stop offset="0.520" stop-color="#3ef10e"/><stop offset="0.542" stop-color="#13f01d"/><stop offset="0.564" stop-color="#07f36c"/><stop offset="0.587" stop-color="#00e7e0"/><stop offset="0.592" stop-color="#00e2f7"/><stop offset="0.631" stop-color="#00a2ff"/><stop offset="0.693" stop-color="#007aff"/><stop offset="0.894" stop-color="#0053ff"/><stop offset="1.000" stop-color="#024eff"/></linearGradient><linearGradient id="f1"><stop offset="0.000" stop-color="#0051ff"/><stop offset="0.162" stop-color="#0071ff"/><stop offset="0.212" stop-color="#0092ff"/><stop offset="0.235" stop-color="#00c0ff"/><stop offset="0.246" stop-color="#00e3f3"/><stop offset="0.257" stop-color="#00f49d"/><stop offset="0.268" stop-color="#11f12b"/><stop offset="0.274" stop-color="#40f20e"/><stop offset="0.279" stop-color="#84f404"/><stop offset="0.285" stop-color="#aff600"/><stop offset="0.296" stop-color="#def800"/><stop offset="0.307" stop-color="#f0f900"/><stop offset="0.352" stop-color="#bdf700"/><stop offset="0.397" stop-color="#b9f600"/><stop offset="0.514" stop-color="#42f20d"/><stop offset="0.536" stop-color="#14f015"/><stop offset="0.559" stop-color="#09f35f"/><stop offset="0.581" stop-color="#00e9d5"/><stop offset="0.592" stop-color="#00dfff"/><stop offset="0.631" stop-color="#009fff"/><stop offset="0.698" stop-color="#0077ff"/><stop offset="0.905" stop-color="#0052ff"/><stop offset="1.000" stop-color="#024eff"/></linearGradient><linearGradient id="f2"><stop offset="0.000" stop-color="#0051ff"/><stop offset="0.168" stop-color="#0072ff"/><stop offset="0.218" stop-color="#0095ff"/><stop offset="0.240" stop-color="#00c7ff"/><stop offset="0.246" stop-color="#00dbff"/><stop offset="0.251" stop-color="#00e6e4"/><stop offset="0.263" stop-color="#02f488"/><stop offset="0.274" stop-color="#17f014"/><stop offset="0.285" stop-color="#9cf501"/><stop offset="0.296" stop-color="#d5f800"/><stop offset="0.307" stop-color="#f1f900"/><stop offset="0.324" stop-color="#eaf900"/><stop offset="0.352" stop-color="#c8f700"/><stop offset="0.397" stop-color="#c3f700"/><stop offset="0.514" stop-color="#3ef20e"/><stop offset="0.536" stop-color="#13f01d"/><stop offset="0.559" stop-color="#06f36e"/><stop offset="0.581" stop-color="#00e7e2"/><stop offset="0.587" stop-color="#00e2f8"/><stop offset="0.631" stop-color="#009cff"/><stop offset="0.704" stop-color="#0074ff"/><stop offset="0.927" stop-color="#0050ff"/><stop offset="1.000" stop-color="#024eff"/></linearGradient><linearGradient id="f3"><stop offset="0.000" stop-color="#0051ff"/><stop offset="0.168" stop-color="#0071ff"/><stop offset="0.223" stop-color="#0099ff"/><stop offset="0.246" stop-color="#00cfff"/><stop offset="0.251" stop-color="#00e2fa"/><stop offset="0.263" stop-color="#00f2a6"/><stop offset="0.274" stop-color="#0ff136"/><stop offset="0.279" stop-color="#34f10f"/><stop offset="0.285" stop-color="#79f406"/><stop offset="0.291" stop-color="#acf600"/><stop offset="0.307" stop-color="#eff900"/><stop offset="0.324" stop-color="#f5f900"/><stop offset="0.358" stop-color="#d4f800"/><stop offset="0.397" stop-color="#cdf700"/><stop offset="0.514" stop-color="#3af10f"/><stop offset="0.531" stop-color="#14f016"/><stop offset="0.553" stop-color="#08f360"/><stop offset="0.581" stop-color="#00e4ee"/><stop offset="0.587" stop-color="#00deff"/><stop offset="0.626" stop-color="#009fff"/><stop offset="0.693" stop-color="#0077ff"/><stop offset="0.911" stop-color="#0051ff"/><stop offset="1.000" stop-color="#024eff"/></linearGradient><linearGradient id="f4"><stop offset="0.000" stop-color="#0051ff"/><stop offset="0.168" stop-color="#006fff"/><stop offset="0.223" stop-color="#0094ff"/><stop offset="0.246" stop-color="#00c4ff"/><stop offset="0.251" stop-color="#00d7ff"/><stop offset="0.257" stop-color="#00e5eb"/><stop offset="0.268" stop-color="#01f592"/><stop offset="0.279" stop-color="#13f01c"/><stop offset="0.291" stop-color="#96f501"/><stop offset="0.302" stop-color="#d5f800"/><stop offset="0.313" stop-color="#f7fa00"/><stop offset="0.330" stop-color="#fafa00"/><stop offset="0.363" stop-color="#e1f800"/><stop offset="0.397" stop-color="#d8f800"/><stop offset="0.514" stop-color="#34f10f"/><stop offset="0.531" stop-color="#12f01e"/><stop offset="0.553" stop-color="#06f470"/><stop offset="0.575" stop-color="#00e6e3"/><stop offset="0.581" stop-color="#00e2fa"/><stop offset="0.620" stop-color="#00a2ff"/><stop offset="0.670" stop-color="#007fff"/><stop offset="0.849" stop-color="#0057ff"/><stop offset="1.000" stop-color="#024eff"/></linearGradient><linearGradient id="f5"><stop offset="0.000" stop-color="#0051ff"/><stop offset="0.173" stop-color="#0070ff"/><stop offset="0.229" stop-color="#0097ff"/><stop offset="0.251" stop-color="#00cbff"/><stop offset="0.257" stop-color="#00e0ff"/><stop offset="0.268" stop-color="#00f0af"/><stop offset="0.279" stop-color="#0df241"/><stop offset="0.285" stop-color="#28f111"/><stop offset="0.296" stop-color="#a9f500"/><stop offset="0.313" stop-color="#f5f900"/><stop offset="0.330" stop-color="#fff500"/><stop offset="0.397" stop-color="#e4f900"/><stop offset="0.514" stop-color="#2ef110"/><stop offset="0.525" stop-color="#14f016"/><stop offset="0.547" stop-color="#08f361"/><stop offset="0.575" stop-color="#00e4ef"/><stop offset="0.581" stop-color="#00ddff"/><stop offset="0.620" stop-color="#009eff"/><stop offset="0.693" stop-color="#0075ff"/><stop offset="0.911" stop-color="#0051ff"/><stop offset="1.000" stop-color="#024eff"/></linearGradient><linearGradient id="f6"><stop offset="0.000" stop-color="#0050ff"/><stop offset="0.179" stop-color="#0071ff"/><stop offset="0.229" stop-color="#0093ff"/><stop offset="0.251" stop-color="#00c1ff"/><stop offset="0.263" stop-color="#00e3f2"/><stop offset="0.274" stop-color="#00f49b"/><stop offset="0.285" stop-color="#11f126"/><stop offset="0.291" stop-color="#46f20d"/><stop offset="0.296" stop-color="#8ef403"/><stop offset="0.307" stop-color="#d6f800"/><stop offset="0.318" stop-color="#fff900"/><stop offset="0.335" stop-color="#ffed00"/><stop offset="0.391" stop-color="#f7fa00"/><stop offset="0.503" stop-color="#40f20e"/><stop offset="0.520" stop-color="#19f013"/><stop offset="0.542" stop-color="#0af357"/><stop offset="0.564" stop-color="#00ebcb"/><stop offset="0.575" stop-color="#00e2fb"/><stop offset="0.615" stop-color="#00a1ff"/><stop offset="0.676" stop-color="#007aff"/><stop offset="0.872" stop-color="#0054ff"/><stop offset="1.000" stop-color="#024eff"/></linearGradient><linearGradient id="f7"><stop offset="0.000" stop-color="#0050ff"/><stop offset="0.184" stop-color="#0072ff"/><stop offset="0.235" stop-color="#0096ff"/><stop offset="0.257" stop-color="#00c8ff"/><stop offset="0.263" stop-color="#00dcff"/><stop offset="0.268" stop-color="#00e6e3"/><stop offset="0.279" stop-color="#03f485"/><stop offset="0.291" stop-color="#1ef013"/><stop offset="0.302" stop-color="#a7f500"/><stop offset="0.318" stop-color="#fcfa00"/><stop offset="0.335" stop-color="#ffe400"/><stop offset="0.402" stop-color="#f8fa00"/><stop offset="0.508" stop-color="#2ff110"/><stop offset="0.520" stop-color="#14f017"/><stop offset="0.542" stop-color="#08f362"/><stop offset="0.564" stop-color="#00e8d9"/><stop offset="0.575" stop-color="#00ddff"/><stop offset="0.615" stop-color="#009eff"/><stop offset="0.693" stop-color="#0074ff"/><stop offset="0.916" stop-color="#0050ff"/><stop offset="1.000" stop-color="#024eff"/></linearGradient><linearGradient id="f8"><stop offset="0.000" stop-color="#0050ff"/><stop offset="0.184" stop-color="#0071ff"/><stop offset="0.235" stop-color="#0091ff"/><stop offset="0.257" stop-color="#00beff"/><stop offset="0.268" stop-color="#00e2f9"/><stop offset="0.279" stop-color="#00f2a4"/><stop offset="0.291" stop-color="#10f130"/><stop offset="0.296" stop-color="#3df10e"/><stop offset="0.302" stop-color="#87f404"/><stop offset="0.307" stop-color="#b8f600"/><stop offset="0.318" stop-color="#f6fa00"/><stop offset="0.341" stop-color="#ffd800"/><stop offset="0.397" stop-color="#ffed00"/><stop offset="0.413" stop-color="#f1f900"/><stop offset="0.508" stop-color="#28f111"/><stop offset="0.520" stop-color="#12f01f"/><stop offset="0.542" stop-color="#05f474"/><stop offset="0.564" stop-color="#00e6e6"/><stop offset="0.570" stop-color="#00e2fc"/><stop offset="0.609" stop-color="#00a1ff"/><stop offset="0.670" stop-color="#007aff"/><stop offset="0.866" stop-color="#0054ff"/><stop offset="1.000" stop-color="#024eff"/></linearGradient><linearGradient id="f9"><stop offset="0.000" stop-color="#0050ff"/><stop offset="0.190" stop-color="#0072ff"/><stop offset="0.240" stop-color="#0095ff"/><stop offset="0.263" stop-color="#00c5ff"/><stop offset="0.268" stop-color="#00d8ff"/><stop offset="0.274" stop-color="#00e5e9"/><stop offset="0.285" stop-color="#01f58e"/><stop offset="0.296" stop-color="#15f014"/><stop offset="0.307" stop-color="#a6f500"/><stop offset="0.318" stop-color="#ecf900"/><stop offset="0.324" stop-color="#fff300"/><stop offset="0.341" stop-color="#ffcf00"/><stop offset="0.385" stop-color="#ffd400"/><stop offset="0.413" stop-color="#fefa00"/><stop offset="0.503" stop-color="#2ff110"/><stop offset="0.514" stop-color="#13f017"/><stop offset="0.536" stop-color="#08f364"/><stop offset="0.559" stop-color="#00e8da"/><stop offset="0.570" stop-color="#00dcff"/><stop offset="0.609" stop-color="#009eff"/><stop offset="0.687" stop-color="#0074ff"/><stop offset="0.905" stop-color="#0051ff"/><stop offset="1.000" stop-color="#024eff"/></linearGradient><linearGradient id="f10"><stop offset="0.000" stop-color="#0050ff"/><stop offset="0.184" stop-color="#006fff"/><stop offset="0.240" stop-color="#0090ff"/><stop offset="0.263" stop-color="#00bbff"/><stop offset="0.274" stop-color="#00e1fe"/><stop offset="0.285" stop-color="#00f1ab"/><stop offset="0.296" stop-color="#0ef138"/><stop offset="0.302" stop-color="#36f10f"/><stop offset="0.307" stop-color="#82f404"/><stop offset="0.313" stop-color="#baf600"/><stop offset="0.324" stop-color="#fffa00"/><stop offset="0.341" stop-color="#ffc700"/><stop offset="0.369" stop-color="#ffbc00"/><stop offset="0.402" stop-color="#ffd900"/><stop offset="0.419" stop-color="#fdfa00"/><stop offset="0.492" stop-color="#43f20d"/><stop offset="0.508" stop-color="#19f013"/><stop offset="0.531" stop-color="#09f359"/><stop offset="0.553" stop-color="#00eace"/><stop offset="0.564" stop-color="#00e1fd"/><stop offset="0.603" stop-color="#00a1ff"/><stop offset="0.659" stop-color="#007dff"/><stop offset="0.844" stop-color="#0056ff"/><stop offset="1.000" stop-color="#024eff"/></linearGradient><linearGradient id="f11"><stop offset="0.000" stop-color="#0050ff"/><stop offset="0.184" stop-color="#006eff"/><stop offset="0.246" stop-color="#0094ff"/><stop offset="0.268" stop-color="#00c2ff"/><stop offset="0.274" stop-color="#00d5ff"/><stop offset="0.279" stop-color="#00e4ef"/><stop offset="0.291" stop-color="#00f595"/><stop offset="0.302" stop-color="#13f01a"/><stop offset="0.313" stop-color="#a5f500"/><stop offset="0.324" stop-color="#f5f900"/><stop offset="0.341" stop-color="#ffc100"/><stop offset="0.363" stop-color="#ffa900"/><stop offset="0.391" stop-color="#ffb900"/><stop offset="0.425" stop-color="#f8fa00"/><stop offset="0.486" stop-color="#4bf20c"/><stop offset="0.508" stop-color="#13f018"/><stop offset="0.531" stop-color="#07f366"/><stop offset="0.553" stop-color="#00e8dc"/><stop offset="0.564" stop-color="#00dbff"/><stop offset="0.603" stop-color="#009eff"/><stop offset="0.682" stop-color="#0074ff"/><stop offset="0.899" stop-color="#0051ff"/><stop offset="1.000" stop-color="#024eff"/></linearGradient><linearGradient id="f12"><stop offset="0.000" stop-color="#0050ff"/><stop offset="0.184" stop-color="#006dff"/><stop offset="0.246" stop-color="#008fff"/><stop offset="0.268" stop-color="#00b9ff"/><stop offset="0.279" stop-color="#00deff"/><stop offset="0.291" stop-color="#00f0b1"/><stop offset="0.302" stop-color="#0ef23e"/><stop offset="0.307" stop-color="#31f110"/><stop offset="0.313" stop-color="#80f405"/><stop offset="0.318" stop-color="#bef700"/><stop offset="0.324" stop-color="#e7f900"/><stop offset="0.330" stop-color="#ffee00"/><stop offset="0.346" stop-color="#ffad00"/><stop offset="0.363" stop-color="#ff9500"/><stop offset="0.391" stop-color="#ffa700"/><stop offset="0.425" stop-color="#fff600"/><stop offset="0.486" stop-color="#46f20d"/><stop offset="0.503" stop-color="#19f013"/><stop offset="0.525" stop-color="#09f35b"/><stop offset="0.547" stop-color="#00ead0"/><stop offset="0.559" stop-color="#00e1fe"/><stop offset="0.598" stop-color="#00a1ff"/><stop offset="0.654" stop-color="#007dff"/><stop offset="0.838" stop-color="#0056ff"/><stop offset="1.000" stop-color="#024eff"/></linearGradient><linearGradient id="f13"><stop offset="0.000" stop-color="#0050ff"/><stop offset="0.190" stop-color="#006eff"/><stop offset="0.251" stop-color="#0093ff"/><stop offset="0.274" stop-color="#00c0ff"/><stop offset="0.285" stop-color="#00e3f4"/><stop offset="0.296" stop-color="#00f49a"/><stop offset="0.307" stop-color="#13f01d"/><stop offset="0.318" stop-color="#a7f500"/><stop offset="0.330" stop-color="#fff800"/><stop offset="0.346" stop-color="#ffa700"/><stop offset="0.363" stop-color="#ff8100"/><stop offset="0.385" stop-color="#ff8900"/><stop offset="0.413" stop-color="#ffc900"/><stop offset="0.430" stop-color="#f9fa00"/><stop offset="0.480" stop-color="#50f20b"/><stop offset="0.503" stop-color="#13f018"/><stop offset="0.525" stop-color="#07f368"/><stop offset="0.547" stop-color="#00e7dd"/><stop offset="0.559" stop-color="#00dbff"/><stop offset="0.598" stop-color="#009eff"/><stop offset="0.676" stop-color="#0074ff"/><stop offset="0.899" stop-color="#0051ff"/><stop offset="1.000" stop-color="#024eff"/></linearGradient><linearGradient id="f14"><stop offset="0.000" stop-color="#0050ff"/><stop offset="0.190" stop-color="#006dff"/><stop offset="0.251" stop-color="#008fff"/><stop offset="0.274" stop-color="#00b7ff"/><stop offset="0.285" stop-color="#00dcff"/><stop offset="0.291" stop-color="#00e7e2"/><stop offset="0.302" stop-color="#03f480"/><stop offset="0.307" stop-color="#0df240"/><stop offset="0.313" stop-color="#31f110"/><stop offset="0.318" stop-color="#84f404"/><stop offset="0.324" stop-color="#c6f700"/><stop offset="0.330" stop-color="#f4f900"/><stop offset="0.341" stop-color="#ffbf00"/><stop offset="0.358" stop-color="#ff7a00"/><stop offset="0.374" stop-color="#ff6800"/><stop offset="0.397" stop-color="#ff8700"/><stop offset="0.430" stop-color="#fff800"/><stop offset="0.480" stop-color="#4bf20c"/><stop offset="0.497" stop-color="#19f013"/><stop offset="0.520" stop-color="#09f35c"/><stop offset="0.547" stop-color="#00e5ea"/><stop offset="0.553" stop-color="#00e1ff"/><stop offset="0.592" stop-color="#00a1ff"/><stop offset="0.648" stop-color="#007dff"/><stop offset="0.838" stop-color="#0056ff"/><stop offset="1.000" stop-color="#024eff"/></linearGradient><linearGradient id="f15"><stop offset="0.000" stop-color="#0050ff"/><stop offset="0.190" stop-color="#006cff"/><stop offset="0.257" stop-color="#0092ff"/><stop offset="0.279" stop-color="#00beff"/><stop offset="0.291" stop-color="#00e3f7"/><stop offset="0.302" stop-color="#00f49d"/><stop offset="0.313" stop-color="#13f01d"/><stop offset="0.324" stop-color="#aef600"/><stop offset="0.330" stop-color="#e4f900"/><stop offset="0.335" stop-color="#ffe900"/><stop offset="0.352" stop-color="#ff8400"/><stop offset="0.363" stop-color="#ff5d00"/><stop offset="0.380" stop-color="#ff5200"/><stop offset="0.402" stop-color="#ff8200"/><stop offset="0.430" stop-color="#fff000"/><stop offset="0.447" stop-color="#c1f700"/><stop offset="0.480" stop-color="#46f20d"/><stop offset="0.497" stop-color="#13f017"/><stop offset="0.520" stop-color="#07f36a"/><stop offset="0.542" stop-color="#00e7df"/><stop offset="0.553" stop-color="#00daff"/><stop offset="0.592" stop-color="#009eff"/><stop offset="0.665" stop-color="#0076ff"/><stop offset="0.888" stop-color="#0051ff"/><stop offset="1.000" stop-color="#024eff"/></linearGradient><linearGradient id="f16"><stop offset="0.000" stop-color="#0050ff"/><stop offset="0.196" stop-color="#006dff"/><stop offset="0.257" stop-color="#008eff"/><stop offset="0.285" stop-color="#00c6ff"/><stop offset="0.291" stop-color="#00daff"/><stop offset="0.296" stop-color="#00e6e4"/><stop offset="0.307" stop-color="#03f480"/><stop offset="0.313" stop-color="#0df23f"/><stop offset="0.318" stop-color="#35f10f"/><stop offset="0.324" stop-color="#8df403"/><stop offset="0.330" stop-color="#d2f800"/><stop offset="0.335" stop-color="#fff500"/><stop offset="0.352" stop-color="#ff8000"/><stop offset="0.363" stop-color="#ff4e00"/><stop offset="0.380" stop-color="#fe3e00"/><stop offset="0.397" stop-color="#ff5a00"/><stop offset="0.436" stop-color="#f7fa00"/><stop offset="0.475" stop-color="#53f20b"/><stop offset="0.492" stop-color="#1bf013"/><stop offset="0.514" stop-color="#09f35d"/><stop offset="0.542" stop-color="#00e5eb"/><stop offset="0.547" stop-color="#00e0ff"/><stop offset="0.587" stop-color="#00a0ff"/><stop offset="0.654" stop-color="#0079ff"/><stop offset="0.866" stop-color="#0053ff"/><stop offset="1.000" stop-color="#024eff"/></linearGradient><linearGradient id="f17"><stop offset="0.000" stop-color="#0050ff"/><stop offset="0.196" stop-color="#006cff"/><stop offset="0.263" stop-color="#0092ff"/><stop offset="0.285" stop-color="#00beff"/><stop offset="0.296" stop-color="#00e2f7"/><stop offset="0.307" stop-color="#00f49c"/><stop offset="0.318" stop-color="#13f018"/><stop offset="0.330" stop-color="#b9f600"/><stop offset="0.335" stop-color="#f5f900"/><stop offset="0.352" stop-color="#ff8000"/><stop offset="0.363" stop-color="#fe4400"/><stop offset="0.380" stop-color="#fc2b00"/><stop offset="0.397" stop-color="#fe4400"/><stop offset="0.413" stop-color="#ff8c00"/><stop offset="0.436" stop-color="#fefa00"/><stop offset="0.475" stop-color="#4ef20c"/><stop offset="0.492" stop-color="#14f016"/><stop offset="0.514" stop-color="#06f36c"/><stop offset="0.536" stop-color="#00e7e0"/><stop offset="0.542" stop-color="#00e3f7"/><stop offset="0.587" stop-color="#009dff"/><stop offset="0.670" stop-color="#0072ff"/><stop offset="0.911" stop-color="#0050ff"/><stop offset="1.000" stop-color="#024eff"/></linearGradient><linearGradient id="f18"><stop offset="0.000" stop-color="#0050ff"/><stop offset="0.196" stop-color="#006bff"/><stop offset="0.263" stop-color="#008eff"/><stop offset="0.291" stop-color="#00c6ff"/><stop offset="0.296" stop-color="#00dbff"/><stop offset="0.302" stop-color="#00e6e3"/><stop offset="0.313" stop-color="#04f47d"/><stop offset="0.318" stop-color="#0ef138"/><stop offset="0.324" stop-color="#41f20e"/><stop offset="0.330" stop-color="#9ff500"/><stop offset="0.335" stop-color="#e3f900"/><stop offset="0.341" stop-color="#ffe100"/><stop offset="0.358" stop-color="#ff5800"/><stop offset="0.369" stop-color="#fc2900"/><stop offset="0.380" stop-color="#fb1800"/><stop offset="0.397" stop-color="#fd3100"/><stop offset="0.413" stop-color="#ff7a00"/><stop offset="0.436" stop-color="#fff600"/><stop offset="0.475" stop-color="#48f20d"/><stop offset="0.492" stop-color="#12f01f"/><stop offset="0.508" stop-color="#09f35d"/><stop offset="0.531" stop-color="#00e9d5"/><stop offset="0.542" stop-color="#00dfff"/><stop offset="0.581" stop-color="#00a0ff"/><stop offset="0.648" stop-color="#0079ff"/><stop offset="0.849" stop-color="#0054ff"/><stop offset="1.000" stop-color="#024eff"/></linearGradient><linearGradient id="f19"><stop offset="0.000" stop-color="#0050ff"/><stop offset="0.201" stop-color="#006cff"/><stop offset="0.268" stop-color="#0092ff"/><stop offset="0.291" stop-color="#00beff"/><stop offset="0.302" stop-color="#00e3f5"/><stop offset="0.313" stop-color="#00f597"/><stop offset="0.324" stop-color="#1df013"/><stop offset="0.335" stop-color="#caf700"/><stop offset="0.341" stop-color="#ffef00"/><stop offset="0.358" stop-color="#ff5800"/><stop offset="0.369" stop-color="#fb1e00"/><stop offset="0.380" stop-color="#f80a00"/><stop offset="0.391" stop-color="#fa0f00"/><stop offset="0.408" stop-color="#fe4800"/><stop offset="0.436" stop-color="#fff000"/><stop offset="0.453" stop-color="#aff600"/><stop offset="0.480" stop-color="#2bf111"/><stop offset="0.486" stop-color="#15f014"/><stop offset="0.508" stop-color="#06f36e"/><stop offset="0.531" stop-color="#00e7e2"/><stop offset="0.536" stop-color="#00e2f8"/><stop offset="0.581" stop-color="#009dff"/><stop offset="0.659" stop-color="#0074ff"/><stop offset="0.888" stop-color="#0051ff"/><stop offset="1.000" stop-color="#024eff"/></linearGradient><linearGradient id="f20"><stop offset="0.000" stop-color="#0050ff"/><stop offset="0.201" stop-color="#006bff"/><stop offset="0.268" stop-color="#008fff"/><stop offset="0.291" stop-color="#00b8ff"/><stop offset="0.302" stop-color="#00ddff"/><stop offset="0.307" stop-color="#00e7de"/><stop offset="0.318" stop-color="#05f473"/><stop offset="0.324" stop-color="#11f12b"/><stop offset="0.330" stop-color="#56f20b"/><stop offset="0.335" stop-color="#b2f600"/><stop offset="0.341" stop-color="#fbfa00"/><stop offset="0.358" stop-color="#ff5a00"/><stop offset="0.369" stop-color="#fb1600"/><stop offset="0.380" stop-color="#f10800"/><stop offset="0.397" stop-color="#fa0a00"/><stop offset="0.413" stop-color="#ff5600"/><stop offset="0.436" stop-color="#ffeb00"/><stop offset="0.441" stop-color="#ecf900"/><stop offset="0.475" stop-color="#3bf10e"/><stop offset="0.486" stop-color="#13f01c"/><stop offset="0.503" stop-color="#09f35e"/><stop offset="0.525" stop-color="#00e9d6"/><stop offset="0.536" stop-color="#00deff"/><stop offset="0.575" stop-color="#00a0ff"/><stop offset="0.642" stop-color="#0079ff"/><stop offset="0.855" stop-color="#0053ff"/><stop offset="1.000" stop-color="#024eff"/></linearGradient><linearGradient id="f21"><stop offset="0.000" stop-color="#004fff"/><stop offset="0.201" stop-color="#006bff"/><stop offset="0.274" stop-color="#0093ff"/><stop offset="0.296" stop-color="#00c1ff"/><stop offset="0.302" stop-color="#00d4ff"/><stop offset="0.307" stop-color="#00e4ef"/><stop offset="0.318" stop-color="#02f58c"/><stop offset="0.324" stop-color="#0cf247"/><stop offset="0.330" stop-color="#34f10f"/><stop offset="0.335" stop-color="#97f501"/><stop offset="0.341" stop-color="#e4f900"/><stop offset="0.346" stop-color="#ffd500"/><stop offset="0.358" stop-color="#ff5f00"/><stop offset="0.369" stop-color="#fa1000"/><stop offset="0.385" stop-color="#e90500"/><stop offset="0.402" stop-color="#fa0b00"/><stop offset="0.413" stop-color="#fe4600"/><stop offset="0.436" stop-color="#ffe600"/><stop offset="0.441" stop-color="#f0f900"/><stop offset="0.475" stop-color="#34f10f"/><stop offset="0.480" stop-color="#1af013"/><stop offset="0.503" stop-color="#06f36f"/><stop offset="0.525" stop-color="#00e6e3"/><stop offset="0.531" stop-color="#00e2f9"/><stop offset="0.575" stop-color="#009dff"/><stop offset="0.654" stop-color="#0074ff"/><stop offset="0.894" stop-color="#0050ff"/><stop offset="1.000" stop-color="#024eff"/></linearGradient><linearGradient id="f22"><stop offset="0.000" stop-color="#004fff"/><stop offset="0.207" stop-color="#006cff"/><stop offset="0.274" stop-color="#0090ff"/><stop offset="0.302" stop-color="#00ccff"/><stop offset="0.307" stop-color="#00e1fd"/><stop offset="0.318" stop-color="#00f3a1"/><stop offset="0.330" stop-color="#15f014"/><stop offset="0.341" stop-color="#cdf700"/><stop offset="0.346" stop-color="#ffe300"/><stop offset="0.363" stop-color="#fd3400"/><stop offset="0.369" stop-color="#fa0d00"/><stop offset="0.385" stop-color="#e20300"/><stop offset="0.402" stop-color="#f30800"/><stop offset="0.408" stop-color="#fb1600"/><stop offset="0.425" stop-color="#ff8e00"/><stop offset="0.436" stop-color="#ffe000"/><stop offset="0.441" stop-color="#f4f900"/><stop offset="0.475" stop-color="#2cf111"/><stop offset="0.480" stop-color="#14f017"/><stop offset="0.497" stop-color="#09f35e"/><stop offset="0.520" stop-color="#00e9d7"/><stop offset="0.531" stop-color="#00deff"/><stop offset="0.570" stop-color="#00a0ff"/><stop offset="0.637" stop-color="#0079ff"/><stop offset="0.855" stop-color="#0053ff"/><stop offset="1.000" stop-color="#024eff"/></linearGradient><linearGradient id="f23"><stop offset="0.000" stop-color="#014fff"/><stop offset="0.212" stop-color="#006dff"/><stop offset="0.279" stop-color="#0095ff"/><stop offset="0.302" stop-color="#00c6ff"/><stop offset="0.307" stop-color="#00daff"/><stop offset="0.313" stop-color="#00e6e4"/><stop offset="0.324" stop-color="#05f478"/><stop offset="0.330" stop-color="#10f12e"/><stop offset="0.335" stop-color="#56f20b"/><stop offset="0.341" stop-color="#b7f600"/><stop offset="0.346" stop-color="#fff300"/><stop offset="0.363" stop-color="#fd3800"/><stop offset="0.369" stop-color="#fa0c00"/><stop offset="0.385" stop-color="#dc0100"/><stop offset="0.402" stop-color="#eb0600"/><stop offset="0.408" stop-color="#f80900"/><stop offset="0.419" stop-color="#ff4f00"/><stop offset="0.436" stop-color="#ffdb00"/><stop offset="0.441" stop-color="#f8fa00"/><stop offset="0.475" stop-color="#24f112"/><stop offset="0.480" stop-color="#12f020"/><stop offset="0.497" stop-color="#06f46f"/><stop offset="0.520" stop-color="#00e6e4"/><stop offset="0.525" stop-color="#00e2fa"/><stop offset="0.564" stop-color="#00a3ff"/><stop offset="0.626" stop-color="#007cff"/><stop offset="0.827" stop-color="#0055ff"/><stop offset="1.000" stop-color="#024eff"/></linearGradient><linearGradient id="f24"><stop offset="0.000" stop-color="#014fff"/><stop offset="0.207" stop-color="#006bff"/><stop offset="0.279" stop-color="#0093ff"/><stop offset="0.302" stop-color="#00c0ff"/><stop offset="0.307" stop-color="#00d3ff"/><stop offset="0.313" stop-color="#00e4f0"/><stop offset="0.324" stop-color="#02f58b"/><stop offset="0.330" stop-color="#0cf245"/><stop offset="0.335" stop-color="#3af10f"/><stop offset="0.341" stop-color="#a2f500"/><stop offset="0.346" stop-color="#f2f900"/><stop offset="0.358" stop-color="#ff7e00"/><stop offset="0.363" stop-color="#fe3e00"/><stop offset="0.369" stop-color="#fa0e00"/><stop offset="0.385" stop-color="#d70000"/><stop offset="0.402" stop-color="#e40400"/><stop offset="0.408" stop-color="#f10700"/><stop offset="0.413" stop-color="#fb1a00"/><stop offset="0.425" stop-color="#ff7400"/><stop offset="0.436" stop-color="#ffd500"/><stop offset="0.441" stop-color="#fcfa00"/><stop offset="0.475" stop-color="#1bf013"/><stop offset="0.492" stop-color="#09f35d"/><stop offset="0.514" stop-color="#00e8d9"/><stop offset="0.525" stop-color="#00ddff"/><stop offset="0.564" stop-color="#00a0ff"/><stop offset="0.626" stop-color="#007bff"/><stop offset="0.838" stop-color="#0054ff"/><stop offset="1.000" stop-color="#024eff"/></linearGradient><linearGradient id="f25"><stop offset="0.000" stop-color="#014fff"/><stop offset="0.212" stop-color="#006cff"/><stop offset="0.279" stop-color="#0091ff"/><stop offset="0.302" stop-color="#00bcff"/><stop offset="0.313" stop-color="#00e2fa"/><stop offset="0.324" stop-color="#00f49c"/><stop offset="0.330" stop-color="#09f359"/><stop offset="0.335" stop-color="#21f012"/><stop offset="0.341" stop-color="#87f404"/><stop offset="0.346" stop-color="#def800"/><stop offset="0.352" stop-color="#ffd000"/><stop offset="0.363" stop-color="#fe4600"/><stop offset="0.369" stop-color="#fb1200"/><stop offset="0.385" stop-color="#d70000"/><stop offset="0.402" stop-color="#dd0200"/><stop offset="0.413" stop-color="#fa0b00"/><stop offset="0.441" stop-color="#fff800"/><stop offset="0.469" stop-color="#34f10f"/><stop offset="0.475" stop-color="#14f016"/><stop offset="0.503" stop-color="#00f0b0"/><stop offset="0.520" stop-color="#00e2fb"/><stop offset="0.559" stop-color="#00a3ff"/><stop offset="0.620" stop-color="#007cff"/><stop offset="0.816" stop-color="#0056ff"/><stop offset="1.000" stop-color="#024eff"/></linearGradient><linearGradient id="f26"><stop offset="0.000" stop-color="#014fff"/><stop offset="0.212" stop-color="#006cff"/><stop offset="0.279" stop-color="#008fff"/><stop offset="0.307" stop-color="#00c9ff"/><stop offset="0.313" stop-color="#00deff"/><stop offset="0.324" stop-color="#00f1a9"/><stop offset="0.330" stop-color="#07f36a"/><stop offset="0.335" stop-color="#13f01c"/><stop offset="0.346" stop-color="#ccf700"/><stop offset="0.352" stop-color="#ffdd00"/><stop offset="0.363" stop-color="#ff4f00"/><stop offset="0.369" stop-color="#fb1800"/><stop offset="0.380" stop-color="#dc0100"/><stop offset="0.402" stop-color="#d70000"/><stop offset="0.413" stop-color="#f40800"/><stop offset="0.419" stop-color="#fc2900"/><stop offset="0.441" stop-color="#fff400"/><stop offset="0.469" stop-color="#2cf111"/><stop offset="0.475" stop-color="#12f01f"/><stop offset="0.503" stop-color="#00edbf"/><stop offset="0.514" stop-color="#00e4f1"/><stop offset="0.525" stop-color="#00d0ff"/><stop offset="0.570" stop-color="#0095ff"/><stop offset="0.676" stop-color="#006bff"/><stop offset="0.939" stop-color="#014fff"/><stop offset="1.000" stop-color="#024eff"/></linearGradient><linearGradient id="f27"><stop offset="0.000" stop-color="#014fff"/><stop offset="0.207" stop-color="#006aff"/><stop offset="0.279" stop-color="#008eff"/><stop offset="0.307" stop-color="#00c6ff"/><stop offset="0.313" stop-color="#00daff"/><stop offset="0.318" stop-color="#00e6e3"/><stop offset="0.330" stop-color="#05f477"/><stop offset="0.335" stop-color="#10f12c"/><stop offset="0.341" stop-color="#5af20a"/><stop offset="0.346" stop-color="#bcf600"/><stop offset="0.352" stop-color="#ffeb00"/><stop offset="0.363" stop-color="#ff5c00"/><stop offset="0.369" stop-color="#fc2000"/><stop offset="0.374" stop-color="#ee0700"/><stop offset="0.385" stop-color="#d60000"/><stop offset="0.408" stop-color="#de0200"/><stop offset="0.413" stop-color="#ef0700"/><stop offset="0.419" stop-color="#fb1c00"/><stop offset="0.441" stop-color="#ffef00"/><stop offset="0.453" stop-color="#aff600"/><stop offset="0.469" stop-color="#26f111"/><stop offset="0.475" stop-color="#11f126"/><stop offset="0.497" stop-color="#00f1ad"/><stop offset="0.514" stop-color="#00e2fa"/><stop offset="0.553" stop-color="#00a3ff"/><stop offset="0.615" stop-color="#007cff"/><stop offset="0.844" stop-color="#0053ff"/><stop offset="1.000" stop-color="#024eff"/></linearGradient><linearGradient id="f28"><stop offset="0.000" stop-color="#014fff"/><stop offset="0.212" stop-color="#006bff"/><stop offset="0.279" stop-color="#008dff"/><stop offset="0.307" stop-color="#00c4ff"/><stop offset="0.313" stop-color="#00d7ff"/><stop offset="0.318" stop-color="#00e5e9"/><stop offset="0.330" stop-color="#03f482"/><stop offset="0.335" stop-color="#0ef13a"/><stop offset="0.341" stop-color="#49f20c"/><stop offset="0.346" stop-color="#aef600"/><stop offset="0.352" stop-color="#fff800"/><stop offset="0.369" stop-color="#fc2a00"/><stop offset="0.374" stop-color="#f10700"/><stop offset="0.385" stop-color="#d60000"/><stop offset="0.408" stop-color="#d90100"/><stop offset="0.419" stop-color="#fa0f00"/><stop offset="0.441" stop-color="#ffe400"/><stop offset="0.447" stop-color="#e6f900"/><stop offset="0.469" stop-color="#34f10f"/><stop offset="0.475" stop-color="#13f019"/><stop offset="0.492" stop-color="#04f479"/><stop offset="0.508" stop-color="#00e9d5"/><stop offset="0.520" stop-color="#00dfff"/><stop offset="0.559" stop-color="#00a0ff"/><stop offset="0.637" stop-color="#0076ff"/><stop offset="0.860" stop-color="#0052ff"/><stop offset="1.000" stop-color="#024eff"/></linearGradient><linearGradient id="f29"><stop offset="0.000" stop-color="#014fff"/><stop offset="0.212" stop-color="#006bff"/><stop offset="0.285" stop-color="#0094ff"/><stop offset="0.307" stop-color="#00c2ff"/><stop offset="0.313" stop-color="#00d5ff"/><stop offset="0.318" stop-color="#00e4ed"/><stop offset="0.330" stop-color="#02f589"/><stop offset="0.335" stop-color="#0df243"/><stop offset="0.341" stop-color="#3bf10e"/><stop offset="0.346" stop-color="#a3f500"/><stop offset="0.352" stop-color="#f4f900"/><stop offset="0.363" stop-color="#ff7700"/><stop offset="0.369" stop-color="#fd3400"/><stop offset="0.374" stop-color="#f50800"/><stop offset="0.385" stop-color="#d60000"/><stop offset="0.408" stop-color="#d70000"/><stop offset="0.419" stop-color="#f70900"/><stop offset="0.425" stop-color="#fd3200"/><stop offset="0.441" stop-color="#ffd800"/><stop offset="0.447" stop-color="#f2f900"/><stop offset="0.469" stop-color="#42f20d"/><stop offset="0.475" stop-color="#1df013"/><stop offset="0.492" stop-color="#08f364"/><stop offset="0.514" stop-color="#00e7df"/><stop offset="0.525" stop-color="#00daff"/><stop offset="0.564" stop-color="#009eff"/><stop offset="0.631" stop-color="#0079ff"/><stop offset="0.849" stop-color="#0053ff"/><stop offset="1.000" stop-color="#024eff"/></linearGradient><linearGradient id="f30"><stop offset="0.000" stop-color="#014fff"/><stop offset="0.212" stop-color="#006bff"/><stop offset="0.279" stop-color="#008dff"/><stop offset="0.307" stop-color="#00c2ff"/><stop offset="0.313" stop-color="#00d4ff"/><stop offset="0.318" stop-color="#00e4ef"/><stop offset="0.330" stop-color="#01f58e"/><stop offset="0.335" stop-color="#0cf24a"/><stop offset="0.341" stop-color="#31f110"/><stop offset="0.346" stop-color="#98f501"/><stop offset="0.352" stop-color="#e9f900"/><stop offset="0.358" stop-color="#ffca00"/><stop offset="0.369" stop-color="#fe3e00"/><stop offset="0.374" stop-color="#f90a00"/><stop offset="0.385" stop-color="#d70000"/><stop offset="0.408" stop-color="#d60000"/><stop offset="0.419" stop-color="#f20800"/><stop offset="0.425" stop-color="#fc2600"/><stop offset="0.447" stop-color="#fffa00"/><stop offset="0.475" stop-color="#2bf111"/><stop offset="0.480" stop-color="#13f01d"/><stop offset="0.508" stop-color="#00efb5"/><stop offset="0.525" stop-color="#00e1fe"/><stop offset="0.564" stop-color="#00a2ff"/><stop offset="0.620" stop-color="#007eff"/><stop offset="0.810" stop-color="#0057ff"/><stop offset="1.000" stop-color="#024eff"/></linearGradient><linearGradient id="f31"><stop offset="0.000" stop-color="#014fff"/><stop offset="0.212" stop-color="#006bff"/><stop offset="0.285" stop-color="#0094ff"/><stop offset="0.307" stop-color="#00c2ff"/><stop offset="0.313" stop-color="#00d4ff"/><stop offset="0.318" stop-color="#00e4ef"/><stop offset="0.330" stop-color="#01f590"/><stop offset="0.335" stop-color="#0bf24e"/><stop offset="0.341" stop-color="#2bf111"/><stop offset="0.346" stop-color="#8ff402"/><stop offset="0.352" stop-color="#e1f800"/><stop offset="0.358" stop-color="#ffd300"/><stop offset="0.369" stop-color="#ff4a00"/><stop offset="0.374" stop-color="#fb1300"/><stop offset="0.385" stop-color="#d90000"/><stop offset="0.413" stop-color="#dd0200"/><stop offset="0.419" stop-color="#ee0600"/><stop offset="0.425" stop-color="#fb1b00"/><stop offset="0.447" stop-color="#ffef00"/><stop offset="0.458" stop-color="#b3f600"/><stop offset="0.475" stop-color="#39f10f"/><stop offset="0.480" stop-color="#18f013"/><stop offset="0.497" stop-color="#08f360"/><stop offset="0.520" stop-color="#00e8da"/><stop offset="0.531" stop-color="#00dcff"/><stop offset="0.570" stop-color="#009fff"/><stop offset="0.648" stop-color="#0075ff"/><stop offset="0.883" stop-color="#0051ff"/><stop offset="1.000" stop-color="#024eff"/></linearGradient><linearGradient id="f32"><stop offset="0.000" stop-color="#014fff"/><stop offset="0.212" stop-color="#006bff"/><stop offset="0.279" stop-color="#008dff"/><stop offset="0.307" stop-color="#00c3ff"/><stop offset="0.313" stop-color="#00d5ff"/><stop offset="0.318" stop-color="#00e4ee"/><stop offset="0.330" stop-color="#01f58f"/><stop offset="0.335" stop-color="#0bf24e"/><stop offset="0.341" stop-color="#28f111"/><stop offset="0.346" stop-color="#89f403"/><stop offset="0.352" stop-color="#dbf800"/><stop offset="0.358" stop-color="#ffdc00"/><stop offset="0.369" stop-color="#ff5600"/><stop offset="0.374" stop-color="#fc2000"/><stop offset="0.380" stop-color="#ef0700"/><stop offset="0.391" stop-color="#d60000"/><stop offset="0.413" stop-color="#db0100"/><stop offset="0.425" stop-color="#fa1100"/><stop offset="0.447" stop-color="#ffe300"/><stop offset="0.453" stop-color="#e9f900"/><stop offset="0.475" stop-color="#47f20d"/><stop offset="0.486" stop-color="#12f01f"/><stop offset="0.508" stop-color="#01f590"/><stop offset="0.531" stop-color="#00e2fa"/><stop offset="0.570" stop-color="#00a3ff"/><stop offset="0.631" stop-color="#007cff"/><stop offset="0.832" stop-color="#0055ff"/><stop offset="1.000" stop-color="#024eff"/></linearGradient><linearGradient id="f33"><stop offset="0.000" stop-color="#014fff"/><stop offset="0.207" stop-color="#006aff"/><stop offset="0.279" stop-color="#008eff"/><stop offset="0.307" stop-color="#00c4ff"/><stop offset="0.313" stop-color="#00d7ff"/><stop offset="0.318" stop-color="#00e5eb"/><stop offset="0.330" stop-color="#01f58c"/><stop offset="0.335" stop-color="#0bf24c"/><stop offset="0.341" stop-color="#29f111"/><stop offset="0.346" stop-color="#87f404"/><stop offset="0.352" stop-color="#d7f800"/><stop offset="0.358" stop-color="#ffe300"/><stop offset="0.374" stop-color="#fc2c00"/><stop offset="0.380" stop-color="#f50800"/><stop offset="0.391" stop-color="#d70000"/><stop offset="0.413" stop-color="#da0100"/><stop offset="0.425" stop-color="#f90a00"/><stop offset="0.436" stop-color="#ff6a00"/><stop offset="0.447" stop-color="#ffd600"/><stop offset="0.453" stop-color="#f7fa00"/><stop offset="0.480" stop-color="#33f110"/><stop offset="0.486" stop-color="#16f014"/><stop offset="0.503" stop-color="#09f35b"/><stop offset="0.525" stop-color="#00e9d5"/><stop offset="0.536" stop-color="#00dfff"/><stop offset="0.575" stop-color="#00a0ff"/><stop offset="0.642" stop-color="#0079ff"/><stop offset="0.860" stop-color="#0053ff"/><stop offset="1.000" stop-color="#024eff"/></linearGradient><linearGradient id="f34"><stop offset="0.000" stop-color="#014fff"/><stop offset="0.212" stop-color="#006cff"/><stop offset="0.279" stop-color="#008fff"/><stop offset="0.307" stop-color="#00c7ff"/><stop offset="0.313" stop-color="#00daff"/><stop offset="0.318" stop-color="#00e6e6"/><stop offset="0.330" stop-color="#02f488"/><stop offset="0.335" stop-color="#0cf248"/><stop offset="0.341" stop-color="#2cf111"/><stop offset="0.346" stop-color="#88f403"/><stop offset="0.352" stop-color="#d5f800"/><stop offset="0.358" stop-color="#ffe800"/><stop offset="0.374" stop-color="#fd3900"/><stop offset="0.380" stop-color="#fa0c00"/><stop offset="0.397" stop-color="#d70000"/><stop offset="0.413" stop-color="#da0100"/><stop offset="0.425" stop-color="#f60900"/><stop offset="0.436" stop-color="#ff5c00"/><stop offset="0.453" stop-color="#fff500"/><stop offset="0.480" stop-color="#41f20e"/><stop offset="0.492" stop-color="#12f01f"/><stop offset="0.508" stop-color="#07f368"/><stop offset="0.531" stop-color="#00e7df"/><stop offset="0.542" stop-color="#00daff"/><stop offset="0.581" stop-color="#009eff"/><stop offset="0.659" stop-color="#0074ff"/><stop offset="0.899" stop-color="#0050ff"/><stop offset="1.000" stop-color="#024eff"/></linearGradient><linearGradient id="f35"><stop offset="0.000" stop-color="#014fff"/><stop offset="0.212" stop-color="#006cff"/><stop offset="0.279" stop-color="#0091ff"/><stop offset="0.307" stop-color="#00caff"/><stop offset="0.313" stop-color="#00deff"/><stop offset="0.324" stop-color="#00efb5"/><stop offset="0.335" stop-color="#0df241"/><stop offset="0.341" stop-color="#32f110"/><stop offset="0.346" stop-color="#8cf403"/><stop offset="0.352" stop-color="#d3f800"/><stop offset="0.358" stop-color="#ffed00"/><stop offset="0.374" stop-color="#fe4600"/><stop offset="0.380" stop-color="#fb1b00"/><stop offset="0.385" stop-color="#f10800"/><stop offset="0.402" stop-color="#d70000"/><stop offset="0.419" stop-color="#e60400"/><stop offset="0.425" stop-color="#f40800"/><stop offset="0.430" stop-color="#fc2400"/><stop offset="0.441" stop-color="#ff8700"/><stop offset="0.453" stop-color="#ffe800"/><stop offset="0.458" stop-color="#e6f900"/><stop offset="0.480" stop-color="#4ff20c"/><stop offset="0.492" stop-color="#16f014"/><stop offset="0.514" stop-color="#05f476"/><stop offset="0.536" stop-color="#00e5e8"/><stop offset="0.542" stop-color="#00e1fe"/><stop offset="0.581" stop-color="#00a1ff"/><stop offset="0.648" stop-color="#0079ff"/><stop offset="0.860" stop-color="#0053ff"/><stop offset="1.000" stop-color="#024eff"/></linearGradient><linearGradient id="f36"><stop offset="0.000" stop-color="#014fff"/><stop offset="0.212" stop-color="#006cff"/><stop offset="0.279" stop-color="#0092ff"/><stop offset="0.302" stop-color="#00bdff"/><stop offset="0.313" stop-color="#00e1fe"/><stop offset="0.324" stop-color="#00f1ad"/><stop offset="0.335" stop-color="#0ef139"/><stop offset="0.341" stop-color="#3bf10e"/><stop offset="0.346" stop-color="#92f402"/><stop offset="0.352" stop-color="#d2f800"/><stop offset="0.358" stop-color="#fff100"/><stop offset="0.374" stop-color="#ff5400"/><stop offset="0.385" stop-color="#f90a00"/><stop offset="0.402" stop-color="#dd0200"/><stop offset="0.419" stop-color="#e80500"/><stop offset="0.425" stop-color="#f30800"/><stop offset="0.430" stop-color="#fb1e00"/><stop offset="0.441" stop-color="#ff7800"/><stop offset="0.453" stop-color="#ffda00"/><stop offset="0.458" stop-color="#f5f900"/><stop offset="0.486" stop-color="#3ef20e"/><stop offset="0.497" stop-color="#13f01e"/><stop offset="0.514" stop-color="#08f362"/><stop offset="0.536" stop-color="#00e8d9"/><stop offset="0.547" stop-color="#00ddff"/><stop offset="0.587" stop-color="#009fff"/><stop offset="0.654" stop-color="#0078ff"/><stop offset="0.866" stop-color="#0053ff"/><stop offset="1.000" stop-color="#024eff"/></linearGradient><linearGradient id="f37"><stop offset="0.000" stop-color="#014fff"/><stop offset="0.207" stop-color="#006bff"/><stop offset="0.279" stop-color="#0094ff"/><stop offset="0.302" stop-color="#00c1ff"/><stop offset="0.313" stop-color="#00e3f6"/><stop offset="0.324" stop-color="#00f2a3"/><stop offset="0.335" stop-color="#10f12e"/><stop offset="0.341" stop-color="#45f20d"/><stop offset="0.346" stop-color="#9af501"/><stop offset="0.358" stop-color="#fff300"/><stop offset="0.380" stop-color="#fd3b00"/><stop offset="0.385" stop-color="#fb1900"/><stop offset="0.391" stop-color="#f50800"/><stop offset="0.408" stop-color="#e30300"/><stop offset="0.425" stop-color="#f40800"/><stop offset="0.430" stop-color="#fb1a00"/><stop offset="0.441" stop-color="#ff6b00"/><stop offset="0.458" stop-color="#fff500"/><stop offset="0.486" stop-color="#4cf20c"/><stop offset="0.497" stop-color="#17f014"/><stop offset="0.520" stop-color="#06f46f"/><stop offset="0.542" stop-color="#00e6e3"/><stop offset="0.547" stop-color="#00e2f9"/><stop offset="0.587" stop-color="#00a3ff"/><stop offset="0.648" stop-color="#007bff"/><stop offset="0.844" stop-color="#0055ff"/><stop offset="1.000" stop-color="#024eff"/></linearGradient><linearGradient id="f38"><stop offset="0.000" stop-color="#004fff"/><stop offset="0.212" stop-color="#006dff"/><stop offset="0.279" stop-color="#0096ff"/><stop offset="0.302" stop-color="#00c5ff"/><stop offset="0.307" stop-color="#00d7ff"/><stop offset="0.313" stop-color="#00e4ed"/><stop offset="0.324" stop-color="#00f598"/><stop offset="0.335" stop-color="#12f122"/><stop offset="0.341" stop-color="#51f20b"/><stop offset="0.346" stop-color="#a3f500"/><stop offset="0.358" stop-color="#fff600"/><stop offset="0.380" stop-color="#ff4a00"/><stop offset="0.391" stop-color="#fb1100"/><stop offset="0.413" stop-color="#ea0500"/><stop offset="0.425" stop-color="#f50900"/><stop offset="0.430" stop-color="#fb1900"/><stop offset="0.441" stop-color="#ff5f00"/><stop offset="0.458" stop-color="#ffe700"/><stop offset="0.464" stop-color="#eaf900"/><stop offset="0.492" stop-color="#3ef20e"/><stop offset="0.503" stop-color="#13f01b"/><stop offset="0.525" stop-color="#04f47c"/><stop offset="0.547" stop-color="#00e5ec"/><stop offset="0.553" stop-color="#00dfff"/><stop offset="0.592" stop-color="#00a0ff"/><stop offset="0.659" stop-color="#0078ff"/><stop offset="0.877" stop-color="#0052ff"/><stop offset="1.000" stop-color="#024eff"/></linearGradient><linearGradient id="f39"><stop offset="0.000" stop-color="#004fff"/><stop offset="0.207" stop-color="#006cff"/><stop offset="0.274" stop-color="#0091ff"/><stop offset="0.302" stop-color="#00caff"/><stop offset="0.307" stop-color="#00ddff"/><stop offset="0.318" stop-color="#00eebb"/><stop offset="0.330" stop-color="#0af253"/><stop offset="0.335" stop-color="#14f014"/><stop offset="0.346" stop-color="#a8f500"/><stop offset="0.358" stop-color="#fff700"/><stop offset="0.385" stop-color="#fe3e00"/><stop offset="0.397" stop-color="#fb1100"/><stop offset="0.419" stop-color="#f30800"/><stop offset="0.425" stop-color="#f80a00"/><stop offset="0.436" stop-color="#fd3500"/><stop offset="0.447" stop-color="#ff8300"/><stop offset="0.464" stop-color="#fafa00"/><stop offset="0.492" stop-color="#4cf20c"/><stop offset="0.503" stop-color="#19f013"/><stop offset="0.525" stop-color="#07f368"/><stop offset="0.547" stop-color="#00e7de"/><stop offset="0.559" stop-color="#00daff"/><stop offset="0.598" stop-color="#009eff"/><stop offset="0.670" stop-color="#0076ff"/><stop offset="0.883" stop-color="#0052ff"/><stop offset="1.000" stop-color="#024eff"/></linearGradient><linearGradient id="f40"><stop offset="0.000" stop-color="#004fff"/><stop offset="0.201" stop-color="#006bff"/><stop offset="0.274" stop-color="#0093ff"/><stop offset="0.302" stop-color="#00d0ff"/><stop offset="0.307" stop-color="#00e2fb"/><stop offset="0.318" stop-color="#00f0ae"/><stop offset="0.330" stop-color="#0df244"/><stop offset="0.335" stop-color="#24f112"/><stop offset="0.346" stop-color="#acf600"/><stop offset="0.358" stop-color="#fff900"/><stop offset="0.385" stop-color="#ff5000"/><stop offset="0.408" stop-color="#fa0c00"/><stop offset="0.425" stop-color="#fa0f00"/><stop offset="0.441" stop-color="#ff4f00"/><stop offset="0.464" stop-color="#fff000"/><stop offset="0.475" stop-color="#bff700"/><stop offset="0.497" stop-color="#40f20e"/><stop offset="0.508" stop-color="#13f018"/><stop offset="0.531" stop-color="#05f475"/><stop offset="0.553" stop-color="#00e6e7"/><stop offset="0.559" stop-color="#00e1fd"/><stop offset="0.603" stop-color="#009bff"/><stop offset="0.687" stop-color="#0071ff"/><stop offset="0.922" stop-color="#0050ff"/><stop offset="1.000" stop-color="#024eff"/></linearGradient><linearGradient id="f41"><stop offset="0.000" stop-color="#0050ff"/><stop offset="0.201" stop-color="#006bff"/><stop offset="0.268" stop-color="#008fff"/><stop offset="0.296" stop-color="#00c4ff"/><stop offset="0.302" stop-color="#00d6ff"/><stop offset="0.307" stop-color="#00e4f0"/><stop offset="0.318" stop-color="#00f3a0"/><stop offset="0.330" stop-color="#0ff134"/><stop offset="0.335" stop-color="#36f10f"/><stop offset="0.341" stop-color="#7ff405"/><stop offset="0.352" stop-color="#d8f800"/><stop offset="0.358" stop-color="#fffa00"/><stop offset="0.391" stop-color="#ff4e00"/><stop offset="0.413" stop-color="#fb1a00"/><stop offset="0.430" stop-color="#fc2500"/><stop offset="0.441" stop-color="#ff4c00"/><stop offset="0.464" stop-color="#ffe100"/><stop offset="0.469" stop-color="#f3f900"/><stop offset="0.497" stop-color="#4ef20c"/><stop offset="0.508" stop-color="#1df013"/><stop offset="0.531" stop-color="#08f361"/><stop offset="0.553" stop-color="#00e8d8"/><stop offset="0.564" stop-color="#00ddff"/><stop offset="0.603" stop-color="#009fff"/><stop offset="0.670" stop-color="#0078ff"/><stop offset="0.883" stop-color="#0052ff"/><stop offset="1.000" stop-color="#024eff"/></linearGradient><linearGradient id="f42"><stop offset="0.000" stop-color="#0050ff"/><stop offset="0.201" stop-color="#006cff"/><stop offset="0.268" stop-color="#0091ff"/><stop offset="0.296" stop-color="#00caff"/><stop offset="0.302" stop-color="#00ddff"/><stop offset="0.313" stop-color="#00eebd"/><stop offset="0.330" stop-color="#12f122"/><stop offset="0.341" stop-color="#8af403"/><stop offset="0.358" stop-color="#fefa00"/><stop offset="0.391" stop-color="#ff6600"/><stop offset="0.413" stop-color="#fd2f00"/><stop offset="0.430" stop-color="#fd2f00"/><stop offset="0.441" stop-color="#ff4c00"/><stop offset="0.469" stop-color="#fff500"/><stop offset="0.503" stop-color="#42f20d"/><stop offset="0.514" stop-color="#14f015"/><stop offset="0.536" stop-color="#06f36e"/><stop offset="0.559" stop-color="#00e7e2"/><stop offset="0.564" stop-color="#00e2f9"/><stop offset="0.603" stop-color="#00a2ff"/><stop offset="0.665" stop-color="#007bff"/><stop offset="0.866" stop-color="#0054ff"/><stop offset="1.000" stop-color="#024eff"/></linearGradient><linearGradient id="f43"><stop offset="0.000" stop-color="#0050ff"/><stop offset="0.201" stop-color="#006cff"/><stop offset="0.268" stop-color="#0094ff"/><stop offset="0.296" stop-color="#00d1ff"/><stop offset="0.302" stop-color="#00e2fa"/><stop offset="0.318" stop-color="#03f47f"/><stop offset="0.330" stop-color="#19f013"/><stop offset="0.341" stop-color="#95f502"/><stop offset="0.358" stop-color="#fcfa00"/><stop offset="0.397" stop-color="#ff6c00"/><stop offset="0.419" stop-color="#fe3d00"/><stop offset="0.436" stop-color="#fe4100"/><stop offset="0.447" stop-color="#ff6400"/><stop offset="0.469" stop-color="#ffe600"/><stop offset="0.475" stop-color="#f0f900"/><stop offset="0.503" stop-color="#51f20b"/><stop offset="0.520" stop-color="#13f01d"/><stop offset="0.536" stop-color="#09f35c"/><stop offset="0.564" stop-color="#00e5eb"/><stop offset="0.570" stop-color="#00e0ff"/><stop offset="0.609" stop-color="#00a0ff"/><stop offset="0.676" stop-color="#0078ff"/><stop offset="0.877" stop-color="#0053ff"/><stop offset="1.000" stop-color="#024eff"/></linearGradient><linearGradient id="f44"><stop offset="0.000" stop-color="#0050ff"/><stop offset="0.196" stop-color="#006bff"/><stop offset="0.263" stop-color="#008fff"/><stop offset="0.291" stop-color="#00c6ff"/><stop offset="0.296" stop-color="#00d8ff"/><stop offset="0.302" stop-color="#00e4ed"/><stop offset="0.318" stop-color="#06f36d"/><stop offset="0.324" stop-color="#0ff137"/><stop offset="0.330" stop-color="#2ef110"/><stop offset="0.335" stop-color="#6ff307"/><stop offset="0.341" stop-color="#a0f500"/><stop offset="0.358" stop-color="#fafa00"/><stop offset="0.408" stop-color="#ff6900"/><stop offset="0.425" stop-color="#ff4b00"/><stop offset="0.441" stop-color="#ff5300"/><stop offset="0.458" stop-color="#ff9900"/><stop offset="0.475" stop-color="#fff700"/><stop offset="0.508" stop-color="#46f20d"/><stop offset="0.520" stop-color="#18f013"/><stop offset="0.542" stop-color="#07f367"/><stop offset="0.564" stop-color="#00e8dd"/><stop offset="0.575" stop-color="#00dbff"/><stop offset="0.615" stop-color="#009dff"/><stop offset="0.693" stop-color="#0073ff"/><stop offset="0.922" stop-color="#0050ff"/><stop offset="1.000" stop-color="#024eff"/></linearGradient><linearGradient id="f45"><stop offset="0.000" stop-color="#0050ff"/><stop offset="0.196" stop-color="#006cff"/><stop offset="0.263" stop-color="#0092ff"/><stop offset="0.291" stop-color="#00ccff"/><stop offset="0.296" stop-color="#00e0ff"/><stop offset="0.313" stop-color="#01f58d"/><stop offset="0.324" stop-color="#12f123"/><stop offset="0.335" stop-color="#7cf405"/><stop offset="0.346" stop-color="#c4f700"/><stop offset="0.358" stop-color="#f8fa00"/><stop offset="0.425" stop-color="#ff6100"/><stop offset="0.441" stop-color="#ff5d00"/><stop offset="0.458" stop-color="#ff9000"/><stop offset="0.475" stop-color="#ffe800"/><stop offset="0.480" stop-color="#f0f900"/><stop offset="0.514" stop-color="#3cf10e"/><stop offset="0.525" stop-color="#13f019"/><stop offset="0.547" stop-color="#05f474"/><stop offset="0.570" stop-color="#00e6e6"/><stop offset="0.575" stop-color="#00e1fc"/><stop offset="0.620" stop-color="#009bff"/><stop offset="0.704" stop-color="#0071ff"/><stop offset="0.933" stop-color="#0050ff"/><stop offset="1.000" stop-color="#024eff"/></linearGradient><linearGradient id="f46"><stop offset="0.000" stop-color="#0050ff"/><stop offset="0.196" stop-color="#006cff"/><stop offset="0.263" stop-color="#0095ff"/><stop offset="0.291" stop-color="#00d4ff"/><stop offset="0.296" stop-color="#00e3f5"/><stop offset="0.313" stop-color="#04f47a"/><stop offset="0.324" stop-color="#1bf013"/><stop offset="0.335" stop-color="#8af403"/><stop offset="0.352" stop-color="#e1f800"/><stop offset="0.363" stop-color="#fff200"/><stop offset="0.436" stop-color="#ff6a00"/><stop offset="0.453" stop-color="#ff7900"/><stop offset="0.475" stop-color="#ffda00"/><stop offset="0.480" stop-color="#fff700"/><stop offset="0.514" stop-color="#4bf20c"/><stop offset="0.525" stop-color="#1cf013"/><stop offset="0.547" stop-color="#08f360"/><stop offset="0.570" stop-color="#00e9d8"/><stop offset="0.581" stop-color="#00ddff"/><stop offset="0.620" stop-color="#009eff"/><stop offset="0.693" stop-color="#0075ff"/><stop offset="0.911" stop-color="#0051ff"/><stop offset="1.000" stop-color="#024eff"/></linearGradient><linearGradient id="f47"><stop offset="0.000" stop-color="#0050ff"/><stop offset="0.196" stop-color="#006dff"/><stop offset="0.257" stop-color="#0090ff"/><stop offset="0.285" stop-color="#00c9ff"/><stop offset="0.291" stop-color="#00dbff"/><stop offset="0.296" stop-color="#00e6e7"/><stop offset="0.313" stop-color="#07f365"/><stop offset="0.318" stop-color="#10f130"/><stop offset="0.324" stop-color="#32f110"/><stop offset="0.330" stop-color="#6cf307"/><stop offset="0.335" stop-color="#97f501"/><stop offset="0.358" stop-color="#f3f900"/><stop offset="0.369" stop-color="#ffed00"/><stop offset="0.425" stop-color="#ff9200"/><stop offset="0.447" stop-color="#ff7700"/><stop offset="0.458" stop-color="#ff8800"/><stop offset="0.480" stop-color="#ffe800"/><stop offset="0.486" stop-color="#f3f900"/><stop offset="0.520" stop-color="#41f20e"/><stop offset="0.531" stop-color="#14f015"/><stop offset="0.553" stop-color="#06f36d"/><stop offset="0.575" stop-color="#00e7e1"/><stop offset="0.581" stop-color="#00e2f8"/><stop offset="0.626" stop-color="#009cff"/><stop offset="0.698" stop-color="#0075ff"/><stop offset="0.911" stop-color="#0051ff"/><stop offset="1.000" stop-color="#024eff"/></linearGradient><linearGradient id="f48"><stop offset="0.000" stop-color="#0050ff"/><stop offset="0.190" stop-color="#006cff"/><stop offset="0.257" stop-color="#0093ff"/><stop offset="0.285" stop-color="#00d0ff"/><stop offset="0.291" stop-color="#00e2fb"/><stop offset="0.307" stop-color="#03f483"/><stop offset="0.318" stop-color="#13f01a"/><stop offset="0.330" stop-color="#7bf405"/><stop offset="0.335" stop-color="#a2f500"/><stop offset="0.358" stop-color="#eff900"/><stop offset="0.374" stop-color="#ffee00"/><stop offset="0.425" stop-color="#ffab00"/><stop offset="0.447" stop-color="#ff8400"/><stop offset="0.458" stop-color="#ff8900"/><stop offset="0.475" stop-color="#ffbf00"/><stop offset="0.486" stop-color="#fff500"/><stop offset="0.525" stop-color="#38f10f"/><stop offset="0.536" stop-color="#13f01d"/><stop offset="0.559" stop-color="#04f47a"/><stop offset="0.581" stop-color="#00e5ea"/><stop offset="0.587" stop-color="#00e0ff"/><stop offset="0.626" stop-color="#009fff"/><stop offset="0.693" stop-color="#0078ff"/><stop offset="0.911" stop-color="#0051ff"/><stop offset="1.000" stop-color="#024eff"/></linearGradient><linearGradient id="f49"><stop offset="0.000" stop-color="#0050ff"/><stop offset="0.196" stop-color="#006eff"/><stop offset="0.257" stop-color="#0096ff"/><stop offset="0.279" stop-color="#00c6ff"/><stop offset="0.285" stop-color="#00d8ff"/><stop offset="0.291" stop-color="#00e4ed"/><stop offset="0.307" stop-color="#06f36f"/><stop offset="0.313" stop-color="#0ef13b"/><stop offset="0.318" stop-color="#25f112"/><stop offset="0.324" stop-color="#62f309"/><stop offset="0.335" stop-color="#aaf600"/><stop offset="0.352" stop-color="#e0f800"/><stop offset="0.374" stop-color="#fff900"/><stop offset="0.419" stop-color="#ffc900"/><stop offset="0.453" stop-color="#ff8d00"/><stop offset="0.464" stop-color="#ff9400"/><stop offset="0.480" stop-color="#ffcc00"/><stop offset="0.492" stop-color="#f7fa00"/><stop offset="0.525" stop-color="#46f20d"/><stop offset="0.536" stop-color="#18f013"/><stop offset="0.559" stop-color="#08f365"/><stop offset="0.581" stop-color="#00e8dc"/><stop offset="0.592" stop-color="#00dbff"/><stop offset="0.631" stop-color="#009dff"/><stop offset="0.709" stop-color="#0073ff"/><stop offset="0.927" stop-color="#0050ff"/><stop offset="1.000" stop-color="#024eff"/></linearGradient><linearGradient id="f50"><stop offset="0.000" stop-color="#0050ff"/><stop offset="0.190" stop-color="#006dff"/><stop offset="0.251" stop-color="#0091ff"/><stop offset="0.279" stop-color="#00cdff"/><stop offset="0.285" stop-color="#00e0ff"/><stop offset="0.302" stop-color="#02f58b"/><stop offset="0.313" stop-color="#12f124"/><stop offset="0.318" stop-color="#3ef20e"/><stop offset="0.330" stop-color="#99f501"/><stop offset="0.346" stop-color="#d4f800"/><stop offset="0.380" stop-color="#f9fa00"/><stop offset="0.419" stop-color="#ffdc00"/><stop offset="0.458" stop-color="#ff9500"/><stop offset="0.469" stop-color="#ff9d00"/><stop offset="0.486" stop-color="#ffd700"/><stop offset="0.492" stop-color="#fff100"/><stop offset="0.508" stop-color="#aff600"/><stop offset="0.536" stop-color="#26f111"/><stop offset="0.542" stop-color="#13f018"/><stop offset="0.564" stop-color="#05f472"/><stop offset="0.587" stop-color="#00e6e6"/><stop offset="0.592" stop-color="#00e2fc"/><stop offset="0.631" stop-color="#00a1ff"/><stop offset="0.693" stop-color="#007aff"/><stop offset="0.894" stop-color="#0053ff"/><stop offset="1.000" stop-color="#024eff"/></linearGradient><linearGradient id="f51"><stop offset="0.000" stop-color="#0050ff"/><stop offset="0.190" stop-color="#006eff"/><stop offset="0.251" stop-color="#0094ff"/><stop offset="0.279" stop-color="#00d4ff"/><stop offset="0.285" stop-color="#00e3f3"/><stop offset="0.302" stop-color="#05f476"/><stop offset="0.313" stop-color="#1cf013"/><stop offset="0.318" stop-color="#57f20a"/><stop offset="0.330" stop-color="#a4f500"/><stop offset="0.346" stop-color="#d5f800"/><stop offset="0.413" stop-color="#fff400"/><stop offset="0.447" stop-color="#ffb500"/><stop offset="0.464" stop-color="#ff9a00"/><stop offset="0.480" stop-color="#ffb500"/><stop offset="0.497" stop-color="#fdfa00"/><stop offset="0.536" stop-color="#33f110"/><stop offset="0.547" stop-color="#12f020"/><stop offset="0.564" stop-color="#08f35f"/><stop offset="0.592" stop-color="#00e4ef"/><stop offset="0.598" stop-color="#00deff"/><stop offset="0.637" stop-color="#009eff"/><stop offset="0.704" stop-color="#0077ff"/><stop offset="0.905" stop-color="#0052ff"/><stop offset="1.000" stop-color="#024eff"/></linearGradient><linearGradient id="f52"><stop offset="0.000" stop-color="#0050ff"/><stop offset="0.184" stop-color="#006dff"/><stop offset="0.246" stop-color="#0090ff"/><stop offset="0.274" stop-color="#00caff"/><stop offset="0.279" stop-color="#00ddff"/><stop offset="0.291" stop-color="#00edbe"/><stop offset="0.307" stop-color="#10f12c"/><stop offset="0.313" stop-color="#35f10f"/><stop offset="0.318" stop-color="#6df307"/><stop offset="0.330" stop-color="#adf600"/><stop offset="0.346" stop-color="#d5f800"/><stop offset="0.413" stop-color="#f5f900"/><stop offset="0.430" stop-color="#ffed00"/><stop offset="0.464" stop-color="#ffa200"/><stop offset="0.475" stop-color="#ffa200"/><stop offset="0.492" stop-color="#ffd300"/><stop offset="0.503" stop-color="#f1f900"/><stop offset="0.536" stop-color="#42f20d"/><stop offset="0.547" stop-color="#14f014"/><stop offset="0.570" stop-color="#07f36b"/><stop offset="0.592" stop-color="#00e7e0"/><stop offset="0.598" stop-color="#00e2f7"/><stop offset="0.642" stop-color="#009cff"/><stop offset="0.721" stop-color="#0072ff"/><stop offset="0.944" stop-color="#0050ff"/><stop offset="1.000" stop-color="#024eff"/></linearGradient><linearGradient id="f53"><stop offset="0.000" stop-color="#0050ff"/><stop offset="0.190" stop-color="#006fff"/><stop offset="0.246" stop-color="#0093ff"/><stop offset="0.274" stop-color="#00d1ff"/><stop offset="0.279" stop-color="#00e2f8"/><stop offset="0.296" stop-color="#04f47d"/><stop offset="0.307" stop-color="#14f014"/><stop offset="0.318" stop-color="#7ef405"/><stop offset="0.324" stop-color="#a1f500"/><stop offset="0.341" stop-color="#cff700"/><stop offset="0.374" stop-color="#d5f800"/><stop offset="0.425" stop-color="#f1f900"/><stop offset="0.441" stop-color="#ffe700"/><stop offset="0.469" stop-color="#ffa400"/><stop offset="0.480" stop-color="#ffa800"/><stop offset="0.497" stop-color="#ffdd00"/><stop offset="0.503" stop-color="#fff600"/><stop offset="0.542" stop-color="#39f10f"/><stop offset="0.553" stop-color="#13f01c"/><stop offset="0.575" stop-color="#05f478"/><stop offset="0.598" stop-color="#00e5ea"/><stop offset="0.603" stop-color="#00e0ff"/><stop offset="0.642" stop-color="#009fff"/><stop offset="0.709" stop-color="#0077ff"/><stop offset="0.911" stop-color="#0052ff"/><stop offset="1.000" stop-color="#024eff"/></linearGradient><linearGradient id="f54"><stop offset="0.000" stop-color="#0050ff"/><stop offset="0.184" stop-color="#006eff"/><stop offset="0.240" stop-color="#008eff"/><stop offset="0.268" stop-color="#00c7ff"/><stop offset="0.274" stop-color="#00daff"/><stop offset="0.279" stop-color="#00e5e9"/><stop offset="0.296" stop-color="#07f368"/><stop offset="0.302" stop-color="#0ff133"/><stop offset="0.307" stop-color="#2ef110"/><stop offset="0.313" stop-color="#69f308"/><stop offset="0.324" stop-color="#aaf600"/><stop offset="0.341" stop-color="#d1f800"/><stop offset="0.402" stop-color="#d1f800"/><stop offset="0.430" stop-color="#e9f900"/><stop offset="0.441" stop-color="#fff800"/><stop offset="0.469" stop-color="#ffac00"/><stop offset="0.480" stop-color="#ffa500"/><stop offset="0.497" stop-color="#ffcf00"/><stop offset="0.508" stop-color="#f8fa00"/><stop offset="0.542" stop-color="#47f20d"/><stop offset="0.553" stop-color="#19f013"/><stop offset="0.575" stop-color="#08f364"/><stop offset="0.598" stop-color="#00e8db"/><stop offset="0.609" stop-color="#00dbff"/><stop offset="0.648" stop-color="#009dff"/><stop offset="0.726" stop-color="#0072ff"/><stop offset="0.950" stop-color="#0050ff"/><stop offset="1.000" stop-color="#014eff"/></linearGradient><linearGradient id="f55"><stop offset="0.000" stop-color="#0050ff"/><stop offset="0.184" stop-color="#006fff"/><stop offset="0.240" stop-color="#0091ff"/><stop offset="0.268" stop-color="#00ceff"/><stop offset="0.274" stop-color="#00e1fd"/><stop offset="0.291" stop-color="#03f484"/><stop offset="0.302" stop-color="#13f01b"/><stop offset="0.313" stop-color="#7bf405"/><stop offset="0.318" stop-color="#9ff500"/><stop offset="0.335" stop-color="#ccf700"/><stop offset="0.358" stop-color="#ccf700"/><stop offset="0.391" stop-color="#c2f700"/><stop offset="0.430" stop-color="#d9f800"/><stop offset="0.447" stop-color="#fffa00"/><stop offset="0.475" stop-color="#ffac00"/><stop offset="0.486" stop-color="#ffa800"/><stop offset="0.503" stop-color="#ffd700"/><stop offset="0.508" stop-color="#fff000"/><stop offset="0.525" stop-color="#b2f600"/><stop offset="0.547" stop-color="#3ef10e"/><stop offset="0.559" stop-color="#13f017"/><stop offset="0.581" stop-color="#06f471"/><stop offset="0.603" stop-color="#00e6e5"/><stop offset="0.609" stop-color="#00e2fb"/><stop offset="0.648" stop-color="#00a0ff"/><stop offset="0.709" stop-color="#0079ff"/><stop offset="0.905" stop-color="#0053ff"/><stop offset="1.000" stop-color="#014eff"/></linearGradient><linearGradient id="f56"><stop offset="0.000" stop-color="#0050ff"/><stop offset="0.190" stop-color="#0072ff"/><stop offset="0.240" stop-color="#0094ff"/><stop offset="0.268" stop-color="#00d6ff"/><stop offset="0.274" stop-color="#00e4ef"/><stop offset="0.291" stop-color="#06f36e"/><stop offset="0.296" stop-color="#0ef13a"/><stop offset="0.302" stop-color="#27f111"/><stop offset="0.307" stop-color="#62f309"/><stop offset="0.318" stop-color="#a9f500"/><stop offset="0.335" stop-color="#cff700"/><stop offset="0.363" stop-color="#c1f700"/><stop offset="0.397" stop-color="#baf600"/><stop offset="0.436" stop-color="#d2f800"/><stop offset="0.453" stop-color="#fffa00"/><stop offset="0.480" stop-color="#ffaa00"/><stop offset="0.492" stop-color="#ffac00"/><stop offset="0.508" stop-color="#ffe000"/><stop offset="0.514" stop-color="#fffa00"/><stop offset="0.553" stop-color="#35f10f"/><stop offset="0.564" stop-color="#12f020"/><stop offset="0.581" stop-color="#09f35f"/><stop offset="0.609" stop-color="#00e4ee"/><stop offset="0.615" stop-color="#00deff"/><stop offset="0.654" stop-color="#009eff"/><stop offset="0.721" stop-color="#0076ff"/><stop offset="0.939" stop-color="#0050ff"/><stop offset="1.000" stop-color="#014eff"/></linearGradient></defs>
<g shape-rendering="crispEdges">
<rect x="374.30" y="61.90" width="71.60" height="1.31" fill="url(#f0)"/>
<rect x="374.30" y="62.91" width="71.60" height="1.31" fill="url(#f1)"/>
<rect x="374.30" y="63.91" width="71.60" height="1.31" fill="url(#f2)"/>
<rect x="374.30" y="64.92" width="71.60" height="1.31" fill="url(#f3)"/>
<rect x="374.30" y="65.93" width="71.60" height="1.31" fill="url(#f4)"/>
<rect x="374.30" y="66.94" width="71.60" height="1.31" fill="url(#f5)"/>
<rect x="374.30" y="67.94" width="71.60" height="1.31" fill="url(#f6)"/>
<rect x="374.30" y="68.95" width="71.60" height="1.31" fill="url(#f7)"/>
<rect x="374.30" y="69.96" width="71.60" height="1.31" fill="url(#f8)"/>
<rect x="374.30" y="70.96" width="71.60" height="1.31" fill="url(#f9)"/>
<rect x="374.30" y="71.97" width="71.60" height="1.31" fill="url(#f10)"/>
<rect x="374.30" y="72.98" width="71.60" height="1.31" fill="url(#f11)"/>
<rect x="374.30" y="73.98" width="71.60" height="1.31" fill="url(#f12)"/>
<rect x="374.30" y="74.99" width="71.60" height="1.31" fill="url(#f13)"/>
<rect x="374.30" y="76.00" width="71.60" height="1.31" fill="url(#f14)"/>
<rect x="374.30" y="77.01" width="71.60" height="1.31" fill="url(#f15)"/>
<rect x="374.30" y="78.01" width="71.60" height="1.31" fill="url(#f16)"/>
<rect x="374.30" y="79.02" width="71.60" height="1.31" fill="url(#f17)"/>
<rect x="374.30" y="80.03" width="71.60" height="1.31" fill="url(#f18)"/>
<rect x="374.30" y="81.03" width="71.60" height="1.31" fill="url(#f19)"/>
<rect x="374.30" y="82.04" width="71.60" height="1.31" fill="url(#f20)"/>
<rect x="374.30" y="83.05" width="71.60" height="1.31" fill="url(#f21)"/>
<rect x="374.30" y="84.05" width="71.60" height="1.31" fill="url(#f22)"/>
<rect x="374.30" y="85.06" width="71.60" height="1.31" fill="url(#f23)"/>
<rect x="374.30" y="86.07" width="71.60" height="1.31" fill="url(#f24)"/>
<rect x="374.30" y="87.08" width="71.60" height="1.31" fill="url(#f25)"/>
<rect x="374.30" y="88.08" width="71.60" height="1.31" fill="url(#f26)"/>
<rect x="374.30" y="89.09" width="71.60" height="1.31" fill="url(#f27)"/>
<rect x="374.30" y="90.10" width="71.60" height="1.31" fill="url(#f28)"/>
<rect x="374.30" y="91.10" width="71.60" height="1.31" fill="url(#f29)"/>
<rect x="374.30" y="92.11" width="71.60" height="1.31" fill="url(#f30)"/>
<rect x="374.30" y="93.12" width="71.60" height="1.31" fill="url(#f31)"/>
<rect x="374.30" y="94.12" width="71.60" height="1.31" fill="url(#f32)"/>
<rect x="374.30" y="95.13" width="71.60" height="1.31" fill="url(#f33)"/>
<rect x="374.30" y="96.14" width="71.60" height="1.31" fill="url(#f34)"/>
<rect x="374.30" y="97.15" width="71.60" height="1.31" fill="url(#f35)"/>
<rect x="374.30" y="98.15" width="71.60" height="1.31" fill="url(#f36)"/>
<rect x="374.30" y="99.16" width="71.60" height="1.31" fill="url(#f37)"/>
<rect x="374.30" y="100.17" width="71.60" height="1.31" fill="url(#f38)"/>
<rect x="374.30" y="101.17" width="71.60" height="1.31" fill="url(#f39)"/>
<rect x="374.30" y="102.18" width="71.60" height="1.31" fill="url(#f40)"/>
<rect x="374.30" y="103.19" width="71.60" height="1.31" fill="url(#f41)"/>
<rect x="374.30" y="104.19" width="71.60" height="1.31" fill="url(#f42)"/>
<rect x="374.30" y="105.20" width="71.60" height="1.31" fill="url(#f43)"/>
<rect x="374.30" y="106.21" width="71.60" height="1.31" fill="url(#f44)"/>
<rect x="374.30" y="107.22" width="71.60" height="1.31" fill="url(#f45)"/>
<rect x="374.30" y="108.22" width="71.60" height="1.31" fill="url(#f46)"/>
<rect x="374.30" y="109.23" width="71.60" height="1.31" fill="url(#f47)"/>
<rect x="374.30" y="110.24" width="71.60" height="1.31" fill="url(#f48)"/>
<rect x="374.30" y="111.24" width="71.60" height="1.31" fill="url(#f49)"/>
<rect x="374.30" y="112.25" width="71.60" height="1.31" fill="url(#f50)"/>
<rect x="374.30" y="113.26" width="71.60" height="1.31" fill="url(#f51)"/>
<rect x="374.30" y="114.26" width="71.60" height="1.31" fill="url(#f52)"/>
<rect x="374.30" y="115.27" width="71.60" height="1.31" fill="url(#f53)"/>
<rect x="374.30" y="116.28" width="71.60" height="1.31" fill="url(#f54)"/>
<rect x="374.30" y="117.29" width="71.60" height="1.31" fill="url(#f55)"/>
<rect x="374.30" y="118.29" width="71.60" height="1.31" fill="url(#f56)"/>
</g>
<line x1="312.00" y1="62.199999999999996" x2="326.00" y2="119.00" stroke="#fff" stroke-width="0.7" stroke-dasharray="1.3 1.2"/>
<line x1="323.70" y1="62.199999999999996" x2="314.30" y2="119.00" stroke="#fff" stroke-width="0.7" stroke-dasharray="1.3 1.2"/>
<line x1="318.40" y1="62.199999999999996" x2="332.40" y2="119.00" stroke="#000" stroke-width="1.15" stroke-dasharray="2.3 1.1"/>
<line x1="331.00" y1="62.199999999999996" x2="318.80" y2="119.00" stroke="#000" stroke-width="1.15" stroke-dasharray="2.3 1.1"/>
<line x1="395.30" y1="62.199999999999996" x2="409.30" y2="119.00" stroke="#fff" stroke-width="0.7" stroke-dasharray="1.3 1.2"/>
<line x1="407.00" y1="62.199999999999996" x2="397.60" y2="119.00" stroke="#fff" stroke-width="0.7" stroke-dasharray="1.3 1.2"/>
<line x1="401.70" y1="62.199999999999996" x2="415.70" y2="119.00" stroke="#000" stroke-width="1.15" stroke-dasharray="2.3 1.1"/>
<line x1="414.30" y1="62.199999999999996" x2="402.10" y2="119.00" stroke="#000" stroke-width="1.15" stroke-dasharray="2.3 1.1"/>
<rect x="291.0" y="61.9" width="71.6" height="57.4" fill="none" stroke="#000" stroke-width="0.8"/>
<line x1="291.0" y1="70.65" x2="292.8" y2="70.65" stroke="#000" stroke-width="0.6"/>
<line x1="291.0" y1="90.80" x2="292.8" y2="90.80" stroke="#000" stroke-width="0.6"/>
<line x1="291.0" y1="110.95" x2="292.8" y2="110.95" stroke="#000" stroke-width="0.6"/>
<line x1="291.0" y1="80.72" x2="292.0" y2="80.72" stroke="#000" stroke-width="0.5"/>
<line x1="291.0" y1="100.88" x2="292.0" y2="100.88" stroke="#000" stroke-width="0.5"/>
<line x1="291.30" y1="61.9" x2="291.30" y2="63.5" stroke="#000" stroke-width="0.6"/>
<line x1="291.30" y1="119.3" x2="291.30" y2="117.7" stroke="#000" stroke-width="0.6"/>
<line x1="309.10" y1="61.9" x2="309.10" y2="63.5" stroke="#000" stroke-width="0.6"/>
<line x1="309.10" y1="119.3" x2="309.10" y2="117.7" stroke="#000" stroke-width="0.6"/>
<line x1="326.90" y1="61.9" x2="326.90" y2="63.5" stroke="#000" stroke-width="0.6"/>
<line x1="326.90" y1="119.3" x2="326.90" y2="117.7" stroke="#000" stroke-width="0.6"/>
<line x1="344.70" y1="61.9" x2="344.70" y2="63.5" stroke="#000" stroke-width="0.6"/>
<line x1="344.70" y1="119.3" x2="344.70" y2="117.7" stroke="#000" stroke-width="0.6"/>
<line x1="362.50" y1="61.9" x2="362.50" y2="63.5" stroke="#000" stroke-width="0.6"/>
<line x1="362.50" y1="119.3" x2="362.50" y2="117.7" stroke="#000" stroke-width="0.6"/>
<rect x="374.3" y="61.9" width="71.6" height="57.4" fill="none" stroke="#000" stroke-width="0.8"/>
<line x1="374.3" y1="70.65" x2="376.1" y2="70.65" stroke="#000" stroke-width="0.6"/>
<line x1="374.3" y1="90.80" x2="376.1" y2="90.80" stroke="#000" stroke-width="0.6"/>
<line x1="374.3" y1="110.95" x2="376.1" y2="110.95" stroke="#000" stroke-width="0.6"/>
<line x1="374.3" y1="80.72" x2="375.3" y2="80.72" stroke="#000" stroke-width="0.5"/>
<line x1="374.3" y1="100.88" x2="375.3" y2="100.88" stroke="#000" stroke-width="0.5"/>
<line x1="374.60" y1="61.9" x2="374.60" y2="63.5" stroke="#000" stroke-width="0.6"/>
<line x1="374.60" y1="119.3" x2="374.60" y2="117.7" stroke="#000" stroke-width="0.6"/>
<line x1="392.40" y1="61.9" x2="392.40" y2="63.5" stroke="#000" stroke-width="0.6"/>
<line x1="392.40" y1="119.3" x2="392.40" y2="117.7" stroke="#000" stroke-width="0.6"/>
<line x1="410.20" y1="61.9" x2="410.20" y2="63.5" stroke="#000" stroke-width="0.6"/>
<line x1="410.20" y1="119.3" x2="410.20" y2="117.7" stroke="#000" stroke-width="0.6"/>
<line x1="428.00" y1="61.9" x2="428.00" y2="63.5" stroke="#000" stroke-width="0.6"/>
<line x1="428.00" y1="119.3" x2="428.00" y2="117.7" stroke="#000" stroke-width="0.6"/>
<line x1="445.80" y1="61.9" x2="445.80" y2="63.5" stroke="#000" stroke-width="0.6"/>
<line x1="445.80" y1="119.3" x2="445.80" y2="117.7" stroke="#000" stroke-width="0.6"/>
<text x="289.2" y="73.15" font-size="7.3" text-anchor="end">10</text>
<text x="289.2" y="93.30" font-size="7.3" text-anchor="end">0</text>
<text x="289.2" y="113.45" font-size="7.3" text-anchor="end">-10</text>
<text transform="translate(275,90.6) rotate(-90)" font-size="9.6" text-anchor="middle"><tspan font-style="italic">V</tspan><tspan font-size="6.4" dy="1.8">sd</tspan><tspan dy="-1.8">(mV)</tspan></text>
<rect x="291.2" y="130.4" width="71.3" height="60.30" fill="#fff"/>
<rect x="374.3" y="130.4" width="71.3" height="60.30" fill="#fff"/>
<line x1="318.7" y1="119" x2="318.7" y2="190.7" stroke="#3557a2" stroke-width="0.9" stroke-dasharray="2.3 1.7"/>
<line x1="325.8" y1="119" x2="325.8" y2="190.7" stroke="#a32d3a" stroke-width="0.9" stroke-dasharray="2.3 1.7"/>
<line x1="401.8" y1="119" x2="401.8" y2="190.7" stroke="#3557a2" stroke-width="0.9" stroke-dasharray="2.3 1.7"/>
<line x1="408.90000000000003" y1="119" x2="408.90000000000003" y2="190.7" stroke="#a32d3a" stroke-width="0.9" stroke-dasharray="2.3 1.7"/>
<clipPath id="cp1"><rect x="291.2" y="130.4" width="71.3" height="60.30"/></clipPath>
<g clip-path="url(#cp1)" fill="#fff" fill-opacity="0.5" stroke="#4f2f92" stroke-width="0.5">
<circle cx="291.20" cy="183.60" r="1.05"/>
<circle cx="291.62" cy="183.62" r="1.05"/>
<circle cx="292.04" cy="183.63" r="1.05"/>
<circle cx="292.46" cy="183.65" r="1.05"/>
<circle cx="292.88" cy="183.67" r="1.05"/>
<circle cx="293.30" cy="183.69" r="1.05"/>
<circle cx="293.72" cy="183.71" r="1.05"/>
<circle cx="294.14" cy="183.72" r="1.05"/>
<circle cx="294.56" cy="183.74" r="1.05"/>
<circle cx="294.98" cy="183.76" r="1.05"/>
<circle cx="295.40" cy="183.78" r="1.05"/>
<circle cx="295.82" cy="183.79" r="1.05"/>
<circle cx="296.24" cy="183.77" r="1.05"/>
<circle cx="296.66" cy="183.71" r="1.05"/>
<circle cx="297.08" cy="183.66" r="1.05"/>
<circle cx="297.50" cy="183.60" r="1.05"/>
<circle cx="297.92" cy="183.54" r="1.05"/>
<circle cx="298.34" cy="183.49" r="1.05"/>
<circle cx="298.76" cy="183.43" r="1.05"/>
<circle cx="299.18" cy="183.32" r="1.05"/>
<circle cx="299.60" cy="183.12" r="1.05"/>
<circle cx="300.02" cy="182.92" r="1.05"/>
<circle cx="300.44" cy="182.73" r="1.05"/>
<circle cx="300.86" cy="182.53" r="1.05"/>
<circle cx="301.28" cy="182.34" r="1.05"/>
<circle cx="301.70" cy="182.14" r="1.05"/>
<circle cx="302.12" cy="181.88" r="1.05"/>
<circle cx="302.54" cy="181.46" r="1.05"/>
<circle cx="302.96" cy="181.04" r="1.05"/>
<circle cx="303.38" cy="180.62" r="1.05"/>
<circle cx="303.80" cy="180.20" r="1.05"/>
<circle cx="304.22" cy="179.78" r="1.05"/>
<circle cx="304.64" cy="179.38" r="1.05"/>
<circle cx="305.06" cy="179.03" r="1.05"/>
<circle cx="305.48" cy="178.67" r="1.05"/>
<circle cx="305.90" cy="178.32" r="1.05"/>
<circle cx="306.32" cy="177.97" r="1.05"/>
<circle cx="306.74" cy="178.04" r="1.05"/>
<circle cx="307.16" cy="178.22" r="1.05"/>
<circle cx="307.58" cy="178.39" r="1.05"/>
<circle cx="308.00" cy="178.32" r="1.05"/>
<circle cx="308.42" cy="178.24" r="1.05"/>
<circle cx="308.84" cy="177.65" r="1.05"/>
<circle cx="309.26" cy="176.69" r="1.05"/>
<circle cx="309.68" cy="175.73" r="1.05"/>
<circle cx="310.10" cy="174.72" r="1.05"/>
<circle cx="310.52" cy="173.57" r="1.05"/>
<circle cx="310.94" cy="172.41" r="1.05"/>
<circle cx="311.36" cy="171.26" r="1.05"/>
<circle cx="311.78" cy="170.10" r="1.05"/>
<circle cx="312.20" cy="168.80" r="1.05"/>
<circle cx="312.62" cy="167.32" r="1.05"/>
<circle cx="313.04" cy="165.84" r="1.05"/>
<circle cx="313.46" cy="164.36" r="1.05"/>
<circle cx="313.88" cy="162.88" r="1.05"/>
<circle cx="314.30" cy="161.40" r="1.05"/>
<circle cx="314.72" cy="157.98" r="1.05"/>
<circle cx="315.14" cy="154.56" r="1.05"/>
<circle cx="315.56" cy="151.14" r="1.05"/>
<circle cx="315.98" cy="148.09" r="1.05"/>
<circle cx="316.40" cy="145.23" r="1.05"/>
<circle cx="316.82" cy="142.41" r="1.05"/>
<circle cx="317.24" cy="140.61" r="1.05"/>
<circle cx="317.66" cy="138.80" r="1.05"/>
<circle cx="318.08" cy="137.81" r="1.05"/>
<circle cx="318.50" cy="137.24" r="1.05"/>
<circle cx="318.92" cy="137.49" r="1.05"/>
<circle cx="319.34" cy="138.00" r="1.05"/>
<circle cx="319.76" cy="139.22" r="1.05"/>
<circle cx="320.18" cy="140.86" r="1.05"/>
<circle cx="320.60" cy="142.50" r="1.05"/>
<circle cx="321.02" cy="144.81" r="1.05"/>
<circle cx="321.44" cy="147.12" r="1.05"/>
<circle cx="321.86" cy="149.43" r="1.05"/>
<circle cx="322.28" cy="151.74" r="1.05"/>
<circle cx="322.70" cy="154.04" r="1.05"/>
<circle cx="323.12" cy="156.29" r="1.05"/>
<circle cx="323.54" cy="158.54" r="1.05"/>
<circle cx="323.96" cy="160.79" r="1.05"/>
<circle cx="324.38" cy="162.74" r="1.05"/>
<circle cx="324.80" cy="164.67" r="1.05"/>
<circle cx="325.22" cy="166.53" r="1.05"/>
<circle cx="325.64" cy="167.08" r="1.05"/>
<circle cx="326.06" cy="167.62" r="1.05"/>
<circle cx="326.48" cy="168.17" r="1.05"/>
<circle cx="326.90" cy="168.08" r="1.05"/>
<circle cx="327.32" cy="167.95" r="1.05"/>
<circle cx="327.74" cy="167.83" r="1.05"/>
<circle cx="328.16" cy="167.70" r="1.05"/>
<circle cx="328.58" cy="167.59" r="1.05"/>
<circle cx="329.00" cy="167.55" r="1.05"/>
<circle cx="329.42" cy="167.52" r="1.05"/>
<circle cx="329.84" cy="167.48" r="1.05"/>
<circle cx="330.26" cy="167.44" r="1.05"/>
<circle cx="330.68" cy="167.40" r="1.05"/>
<circle cx="331.10" cy="167.87" r="1.05"/>
<circle cx="331.52" cy="168.36" r="1.05"/>
<circle cx="331.94" cy="168.85" r="1.05"/>
<circle cx="332.36" cy="169.34" r="1.05"/>
<circle cx="332.78" cy="170.00" r="1.05"/>
<circle cx="333.20" cy="170.76" r="1.05"/>
<circle cx="333.62" cy="171.52" r="1.05"/>
<circle cx="334.04" cy="172.27" r="1.05"/>
<circle cx="334.46" cy="173.03" r="1.05"/>
<circle cx="334.88" cy="173.78" r="1.05"/>
<circle cx="335.30" cy="174.55" r="1.05"/>
<circle cx="335.72" cy="175.32" r="1.05"/>
<circle cx="336.14" cy="176.09" r="1.05"/>
<circle cx="336.56" cy="176.86" r="1.05"/>
<circle cx="336.98" cy="177.63" r="1.05"/>
<circle cx="337.40" cy="178.40" r="1.05"/>
<circle cx="337.82" cy="179.17" r="1.05"/>
<circle cx="338.24" cy="179.80" r="1.05"/>
<circle cx="338.66" cy="180.33" r="1.05"/>
<circle cx="339.08" cy="180.87" r="1.05"/>
<circle cx="339.50" cy="181.40" r="1.05"/>
<circle cx="339.92" cy="181.93" r="1.05"/>
<circle cx="340.34" cy="182.46" r="1.05"/>
<circle cx="340.76" cy="182.99" r="1.05"/>
<circle cx="341.18" cy="183.52" r="1.05"/>
<circle cx="341.60" cy="183.83" r="1.05"/>
<circle cx="342.02" cy="183.90" r="1.05"/>
<circle cx="342.44" cy="183.97" r="1.05"/>
<circle cx="342.86" cy="184.04" r="1.05"/>
<circle cx="343.28" cy="184.11" r="1.05"/>
<circle cx="343.70" cy="184.18" r="1.05"/>
<circle cx="344.12" cy="184.25" r="1.05"/>
<circle cx="344.54" cy="184.32" r="1.05"/>
<circle cx="344.96" cy="184.39" r="1.05"/>
<circle cx="345.38" cy="184.39" r="1.05"/>
<circle cx="345.80" cy="184.38" r="1.05"/>
<circle cx="346.22" cy="184.37" r="1.05"/>
<circle cx="346.64" cy="184.35" r="1.05"/>
<circle cx="347.06" cy="184.34" r="1.05"/>
<circle cx="347.48" cy="184.33" r="1.05"/>
<circle cx="347.90" cy="184.32" r="1.05"/>
<circle cx="348.32" cy="184.31" r="1.05"/>
<circle cx="348.74" cy="184.29" r="1.05"/>
<circle cx="349.16" cy="184.28" r="1.05"/>
<circle cx="349.58" cy="184.27" r="1.05"/>
<circle cx="350.00" cy="184.26" r="1.05"/>
<circle cx="350.42" cy="184.25" r="1.05"/>
<circle cx="350.84" cy="184.23" r="1.05"/>
<circle cx="351.26" cy="184.22" r="1.05"/>
<circle cx="351.68" cy="184.21" r="1.05"/>
<circle cx="352.10" cy="184.20" r="1.05"/>
<circle cx="352.52" cy="184.19" r="1.05"/>
<circle cx="352.94" cy="184.18" r="1.05"/>
<circle cx="353.36" cy="184.17" r="1.05"/>
<circle cx="353.78" cy="184.17" r="1.05"/>
<circle cx="354.20" cy="184.16" r="1.05"/>
<circle cx="354.62" cy="184.15" r="1.05"/>
<circle cx="355.04" cy="184.14" r="1.05"/>
<circle cx="355.46" cy="184.13" r="1.05"/>
<circle cx="355.88" cy="184.13" r="1.05"/>
<circle cx="356.30" cy="184.12" r="1.05"/>
<circle cx="356.72" cy="184.11" r="1.05"/>
<circle cx="357.14" cy="184.10" r="1.05"/>
<circle cx="357.56" cy="184.09" r="1.05"/>
<circle cx="357.98" cy="184.08" r="1.05"/>
<circle cx="358.40" cy="184.08" r="1.05"/>
<circle cx="358.82" cy="184.07" r="1.05"/>
<circle cx="359.24" cy="184.06" r="1.05"/>
<circle cx="359.66" cy="184.05" r="1.05"/>
<circle cx="360.08" cy="184.04" r="1.05"/>
<circle cx="360.50" cy="184.04" r="1.05"/>
<circle cx="360.92" cy="184.03" r="1.05"/>
<circle cx="361.34" cy="184.02" r="1.05"/>
<circle cx="361.76" cy="184.01" r="1.05"/>
<circle cx="362.18" cy="184.00" r="1.05"/>
</g>
<clipPath id="cp2"><rect x="374.3" y="130.4" width="71.3" height="60.30"/></clipPath>
<g clip-path="url(#cp2)" fill="none" stroke-linejoin="round">
<path d="M374.50,185.65 L374.72,185.63 L374.94,185.61 L375.17,185.58 L375.39,185.56 L375.61,185.53 L375.83,185.51 L376.06,185.48 L376.28,185.45 L376.50,185.42 L376.73,185.40 L376.95,185.37 L377.17,185.34 L377.39,185.31 L377.62,185.27 L377.84,185.24 L378.06,185.21 L378.28,185.17 L378.50,185.14 L378.73,185.10 L378.95,185.07 L379.17,185.03 L379.39,184.99 L379.62,184.95 L379.84,184.91 L380.06,184.87 L380.29,184.82 L380.51,184.78 L380.73,184.73 L380.95,184.68 L381.18,184.63 L381.40,184.58 L381.62,184.53 L381.84,184.48 L382.06,184.42 L382.29,184.36 L382.51,184.30 L382.73,184.24 L382.95,184.18 L383.18,184.12 L383.40,184.05 L383.62,183.98 L383.85,183.91 L384.07,183.83 L384.29,183.76 L384.51,183.68 L384.74,183.60 L384.96,183.51 L385.18,183.42 L385.40,183.33 L385.62,183.24 L385.85,183.14 L386.07,183.04 L386.29,182.93 L386.51,182.82 L386.74,182.71 L386.96,182.59 L387.18,182.47 L387.41,182.34 L387.63,182.21 L387.85,182.08 L388.07,181.93 L388.30,181.78 L388.52,181.63 L388.74,181.47 L388.96,181.30 L389.19,181.12 L389.41,180.94 L389.63,180.75 L389.85,180.55 L390.07,180.34 L390.30,180.13 L390.52,179.90 L390.74,179.66 L390.96,179.41 L391.19,179.16 L391.41,178.88 L391.63,178.60 L391.86,178.30 L392.08,177.99 L392.30,177.66 L392.52,177.32 L392.75,176.96 L392.97,176.59 L393.19,176.19 L393.41,175.78 L393.63,175.35 L393.86,174.89 L394.08,174.41 L394.30,173.91 L394.52,173.39 L394.75,172.84 L394.97,172.27 L395.19,171.66 L395.42,171.03 L395.64,170.38 L395.86,169.69 L396.08,168.97 L396.31,168.23 L396.53,167.45 L396.75,166.65 L396.97,165.82 L397.19,164.97 L397.42,164.09 L397.64,163.19 L397.86,162.27 L398.08,161.34 L398.31,160.40 L398.53,159.46 L398.75,158.52 L398.98,157.60 L399.20,156.70 L399.42,155.83 L399.64,155.01 L399.87,154.24 L400.09,153.53 L400.31,152.89 L400.53,152.35 L400.75,151.89 L400.98,151.54 L401.20,151.30 L401.42,151.17 L401.64,151.16 L401.87,151.26 L402.09,151.48 L402.31,151.81 L402.54,152.25 L402.76,152.78 L402.98,153.39 L403.20,154.09 L403.43,154.85 L403.65,155.66 L403.87,156.52 L404.09,157.42 L404.31,158.34 L404.54,159.27 L404.76,160.21 L404.98,161.15 L405.20,162.08 L405.43,163.00 L405.65,163.91 L405.87,164.79 L406.10,165.65 L406.32,166.49 L406.54,167.30 L406.76,168.08 L406.99,168.83 L407.21,169.55 L407.43,170.24 L407.65,170.90 L407.88,171.54 L408.10,172.15 L408.32,172.73 L408.54,173.28 L408.76,173.81 L408.99,174.32 L409.21,174.80 L409.43,175.26 L409.65,175.69 L409.88,176.11 L410.10,176.51 L410.32,176.89 L410.55,177.25 L410.77,177.60 L410.99,177.93 L411.21,178.24 L411.44,178.54 L411.66,178.83 L411.88,179.10 L412.10,179.36 L412.32,179.61 L412.55,179.85 L412.77,180.08 L412.99,180.30 L413.22,180.51 L413.44,180.71 L413.66,180.90 L413.88,181.09 L414.11,181.26 L414.33,181.43 L414.55,181.60 L414.77,181.75 L415.00,181.90 L415.22,182.05 L415.44,182.19 L415.66,182.32 L415.88,182.45 L416.11,182.57 L416.33,182.69 L416.55,182.80 L416.77,182.91 L417.00,183.02 L417.22,183.12 L417.44,183.22 L417.67,183.31 L417.89,183.41 L418.11,183.49 L418.33,183.58 L418.56,183.66 L418.78,183.74 L419.00,183.82 L419.22,183.89 L419.44,183.97 L419.67,184.04 L419.89,184.10 L420.11,184.17 L420.34,184.23 L420.56,184.29 L420.78,184.35 L421.00,184.41 L421.23,184.47 L421.45,184.52 L421.67,184.57 L421.89,184.62 L422.12,184.67 L422.34,184.72 L422.56,184.77 L422.78,184.81 L423.00,184.86 L423.23,184.90 L423.45,184.94 L423.67,184.98 L423.89,185.02 L424.12,185.06 L424.34,185.10 L424.56,185.13 L424.79,185.17 L425.01,185.20 L425.23,185.24 L425.45,185.27 L425.68,185.30 L425.90,185.33 L426.12,185.36 L426.34,185.39 L426.56,185.42 L426.79,185.45 L427.01,185.47 L427.23,185.50 L427.45,185.53 L427.68,185.55 L427.90,185.58 L428.12,185.60 L428.35,185.62 L428.57,185.65 L428.79,185.67 L429.01,185.69 L429.24,185.71 L429.46,185.73 L429.68,185.76 L429.90,185.78 L430.12,185.80 L430.35,185.81 L430.57,185.83 L430.79,185.85 L431.01,185.87 L431.24,185.89 L431.46,185.90 L431.68,185.92 L431.90,185.94 L432.13,185.95 L432.35,185.97 L432.57,185.98 L432.80,186.00 L433.02,186.02 L433.24,186.03 L433.46,186.04 L433.69,186.06 L433.91,186.07 L434.13,186.09 L434.35,186.10 L434.57,186.11 L434.80,186.12 L435.02,186.14 L435.24,186.15 L435.47,186.16 L435.69,186.17 L435.91,186.18 L436.13,186.19 L436.36,186.21 L436.58,186.22 L436.80,186.23 L437.02,186.24 L437.25,186.25 L437.47,186.26 L437.69,186.27 L437.91,186.28 L438.13,186.29 L438.36,186.30 L438.58,186.31 L438.80,186.32 L439.02,186.32 L439.25,186.33 L439.47,186.34 L439.69,186.35 L439.92,186.36 L440.14,186.37 L440.36,186.38 L440.58,186.38 L440.81,186.39 L441.03,186.40 L441.25,186.41 L441.47,186.41 L441.69,186.42 L441.92,186.43 L442.14,186.44 L442.36,186.44 L442.59,186.45 L442.81,186.46 L443.03,186.46 L443.25,186.47 L443.48,186.48 L443.70,186.48 L443.92,186.49 L444.14,186.49 L444.37,186.50 L444.59,186.51 L444.81,186.51 L445.03,186.52 L445.25,186.52 L445.48,186.53 L445.70,186.53" stroke="#3f6ea2" stroke-width="0.9"/>
<path d="M374.50,173.97 L374.72,173.95 L374.94,173.93 L375.17,173.91 L375.39,173.89 L375.61,173.87 L375.83,173.85 L376.06,173.83 L376.28,173.81 L376.50,173.79 L376.73,173.77 L376.95,173.74 L377.17,173.72 L377.39,173.70 L377.62,173.67 L377.84,173.65 L378.06,173.62 L378.28,173.59 L378.50,173.56 L378.73,173.54 L378.95,173.51 L379.17,173.47 L379.39,173.44 L379.62,173.41 L379.84,173.38 L380.06,173.34 L380.29,173.31 L380.51,173.27 L380.73,173.23 L380.95,173.19 L381.18,173.15 L381.40,173.11 L381.62,173.06 L381.84,173.02 L382.06,172.97 L382.29,172.93 L382.51,172.88 L382.73,172.82 L382.95,172.77 L383.18,172.72 L383.40,172.66 L383.62,172.60 L383.85,172.54 L384.07,172.47 L384.29,172.41 L384.51,172.34 L384.74,172.27 L384.96,172.20 L385.18,172.12 L385.40,172.04 L385.62,171.96 L385.85,171.87 L386.07,171.78 L386.29,171.69 L386.51,171.60 L386.74,171.50 L386.96,171.39 L387.18,171.28 L387.41,171.17 L387.63,171.05 L387.85,170.93 L388.07,170.80 L388.30,170.67 L388.52,170.53 L388.74,170.39 L388.96,170.23 L389.19,170.08 L389.41,169.91 L389.63,169.74 L389.85,169.56 L390.07,169.37 L390.30,169.17 L390.52,168.96 L390.74,168.74 L390.96,168.52 L391.19,168.28 L391.41,168.03 L391.63,167.77 L391.86,167.49 L392.08,167.20 L392.30,166.90 L392.52,166.58 L392.75,166.25 L392.97,165.90 L393.19,165.53 L393.41,165.14 L393.63,164.74 L393.86,164.31 L394.08,163.87 L394.30,163.40 L394.52,162.91 L394.75,162.39 L394.97,161.85 L395.19,161.28 L395.42,160.69 L395.64,160.07 L395.86,159.42 L396.08,158.74 L396.31,158.04 L396.53,157.31 L396.75,156.55 L396.97,155.77 L397.19,154.96 L397.42,154.13 L397.64,153.28 L397.86,152.41 L398.08,151.54 L398.31,150.66 L398.53,149.78 L398.75,148.90 L398.98,148.04 L399.20,147.21 L399.42,146.42 L399.64,145.66 L399.87,144.97 L400.09,144.34 L400.31,143.79 L400.53,143.33 L400.75,142.97 L400.98,142.72 L401.20,142.58 L401.42,142.56 L401.64,142.66 L401.87,142.89 L402.09,143.23 L402.31,143.70 L402.54,144.27 L402.76,144.95 L402.98,145.72 L403.20,146.59 L403.43,147.52 L403.65,148.53 L403.87,149.59 L404.09,150.70 L404.31,151.84 L404.54,153.02 L404.76,154.22 L404.98,155.43 L405.20,156.65 L405.43,157.88 L405.65,159.12 L405.87,160.35 L406.10,161.58 L406.32,162.80 L406.54,164.02 L406.76,165.22 L406.99,166.40 L407.21,167.56 L407.43,168.69 L407.65,169.77 L407.88,170.78 L408.10,171.72 L408.32,172.55 L408.54,173.26 L408.76,173.80 L408.99,174.16 L409.21,174.32 L409.43,174.27 L409.65,174.02 L409.88,173.59 L410.10,173.02 L410.32,172.35 L410.55,171.63 L410.77,170.91 L410.99,170.22 L411.21,169.58 L411.44,169.02 L411.66,168.53 L411.88,168.13 L412.10,167.80 L412.32,167.54 L412.55,167.35 L412.77,167.22 L412.99,167.13 L413.22,167.08 L413.44,167.07 L413.66,167.08 L413.88,167.12 L414.11,167.17 L414.33,167.25 L414.55,167.33 L414.77,167.42 L415.00,167.52 L415.22,167.62 L415.44,167.73 L415.66,167.85 L415.88,167.96 L416.11,168.07 L416.33,168.19 L416.55,168.30 L416.77,168.42 L417.00,168.53 L417.22,168.64 L417.44,168.75 L417.67,168.86 L417.89,168.96 L418.11,169.07 L418.33,169.17 L418.56,169.27 L418.78,169.37 L419.00,169.46 L419.22,169.56 L419.44,169.65 L419.67,169.73 L419.89,169.82 L420.11,169.91 L420.34,169.99 L420.56,170.07 L420.78,170.15 L421.00,170.22 L421.23,170.30 L421.45,170.37 L421.67,170.44 L421.89,170.51 L422.12,170.58 L422.34,170.64 L422.56,170.71 L422.78,170.77 L423.00,170.83 L423.23,170.89 L423.45,170.95 L423.67,171.00 L423.89,171.06 L424.12,171.11 L424.34,171.17 L424.56,171.22 L424.79,171.27 L425.01,171.32 L425.23,171.36 L425.45,171.41 L425.68,171.46 L425.90,171.50 L426.12,171.54 L426.34,171.59 L426.56,171.63 L426.79,171.67 L427.01,171.71 L427.23,171.75 L427.45,171.79 L427.68,171.82 L427.90,171.86 L428.12,171.90 L428.35,171.93 L428.57,171.96 L428.79,172.00 L429.01,172.03 L429.24,172.06 L429.46,172.09 L429.68,172.12 L429.90,172.15 L430.12,172.18 L430.35,172.21 L430.57,172.24 L430.79,172.27 L431.01,172.30 L431.24,172.32 L431.46,172.35 L431.68,172.37 L431.90,172.40 L432.13,172.42 L432.35,172.45 L432.57,172.47 L432.80,172.50 L433.02,172.52 L433.24,172.54 L433.46,172.56 L433.69,172.59 L433.91,172.61 L434.13,172.63 L434.35,172.65 L434.57,172.67 L434.80,172.69 L435.02,172.71 L435.24,172.73 L435.47,172.75 L435.69,172.76 L435.91,172.78 L436.13,172.80 L436.36,172.82 L436.58,172.83 L436.80,172.85 L437.02,172.87 L437.25,172.88 L437.47,172.90 L437.69,172.92 L437.91,172.93 L438.13,172.95 L438.36,172.96 L438.58,172.98 L438.80,172.99 L439.02,173.01 L439.25,173.02 L439.47,173.04 L439.69,173.05 L439.92,173.06 L440.14,173.08 L440.36,173.09 L440.58,173.10 L440.81,173.11 L441.03,173.13 L441.25,173.14 L441.47,173.15 L441.69,173.16 L441.92,173.18 L442.14,173.19 L442.36,173.20 L442.59,173.21 L442.81,173.22 L443.03,173.23 L443.25,173.24 L443.48,173.25 L443.70,173.26 L443.92,173.28 L444.14,173.29 L444.37,173.30 L444.59,173.31 L444.81,173.32 L445.03,173.33 L445.25,173.33 L445.48,173.34 L445.70,173.35" stroke="#7048ad" stroke-width="0.9"/>
<path d="M374.50,175.71 L374.72,175.72 L374.94,175.72 L375.17,175.73 L375.39,175.74 L375.61,175.74 L375.83,175.75 L376.06,175.75 L376.28,175.76 L376.50,175.77 L376.73,175.77 L376.95,175.78 L377.17,175.78 L377.39,175.79 L377.62,175.80 L377.84,175.80 L378.06,175.81 L378.28,175.82 L378.50,175.82 L378.73,175.83 L378.95,175.84 L379.17,175.85 L379.39,175.85 L379.62,175.86 L379.84,175.87 L380.06,175.88 L380.29,175.88 L380.51,175.89 L380.73,175.90 L380.95,175.91 L381.18,175.92 L381.40,175.93 L381.62,175.93 L381.84,175.94 L382.06,175.95 L382.29,175.96 L382.51,175.97 L382.73,175.98 L382.95,175.99 L383.18,176.00 L383.40,176.01 L383.62,176.02 L383.85,176.03 L384.07,176.04 L384.29,176.05 L384.51,176.06 L384.74,176.07 L384.96,176.09 L385.18,176.10 L385.40,176.11 L385.62,176.12 L385.85,176.13 L386.07,176.15 L386.29,176.16 L386.51,176.17 L386.74,176.18 L386.96,176.20 L387.18,176.21 L387.41,176.23 L387.63,176.24 L387.85,176.26 L388.07,176.27 L388.30,176.29 L388.52,176.30 L388.74,176.32 L388.96,176.33 L389.19,176.35 L389.41,176.37 L389.63,176.39 L389.85,176.40 L390.07,176.42 L390.30,176.44 L390.52,176.46 L390.74,176.48 L390.96,176.50 L391.19,176.52 L391.41,176.54 L391.63,176.57 L391.86,176.59 L392.08,176.61 L392.30,176.64 L392.52,176.66 L392.75,176.69 L392.97,176.71 L393.19,176.74 L393.41,176.77 L393.63,176.79 L393.86,176.82 L394.08,176.85 L394.30,176.88 L394.52,176.92 L394.75,176.95 L394.97,176.98 L395.19,177.02 L395.42,177.05 L395.64,177.09 L395.86,177.13 L396.08,177.17 L396.31,177.21 L396.53,177.25 L396.75,177.30 L396.97,177.34 L397.19,177.39 L397.42,177.44 L397.64,177.49 L397.86,177.54 L398.08,177.60 L398.31,177.66 L398.53,177.72 L398.75,177.78 L398.98,177.84 L399.20,177.91 L399.42,177.98 L399.64,178.06 L399.87,178.13 L400.09,178.21 L400.31,178.30 L400.53,178.39 L400.75,178.48 L400.98,178.58 L401.20,178.68 L401.42,178.79 L401.64,178.90 L401.87,179.02 L402.09,179.15 L402.31,179.28 L402.54,179.42 L402.76,179.57 L402.98,179.73 L403.20,179.90 L403.43,180.08 L403.65,180.26 L403.87,180.47 L404.09,180.68 L404.31,180.91 L404.54,181.15 L404.76,181.40 L404.98,181.68 L405.20,181.97 L405.43,182.28 L405.65,182.61 L405.87,182.96 L406.10,183.33 L406.32,183.72 L406.54,184.12 L406.76,184.54 L406.99,184.98 L407.21,185.41 L407.43,185.85 L407.65,186.26 L407.88,186.64 L408.10,186.97 L408.32,187.23 L408.54,187.37 L408.76,187.39 L408.99,187.24 L409.21,186.92 L409.43,186.41 L409.65,185.72 L409.88,184.88 L410.10,183.91 L410.32,182.86 L410.55,181.78 L410.77,180.71 L410.99,179.69 L411.21,178.74 L411.44,177.87 L411.66,177.10 L411.88,176.42 L412.10,175.84 L412.32,175.33 L412.55,174.90 L412.77,174.54 L412.99,174.23 L413.22,173.97 L413.44,173.76 L413.66,173.58 L413.88,173.43 L414.11,173.31 L414.33,173.21 L414.55,173.13 L414.77,173.07 L415.00,173.02 L415.22,172.98 L415.44,172.95 L415.66,172.93 L415.88,172.91 L416.11,172.90 L416.33,172.90 L416.55,172.90 L416.77,172.90 L417.00,172.91 L417.22,172.92 L417.44,172.93 L417.67,172.94 L417.89,172.96 L418.11,172.97 L418.33,172.99 L418.56,173.01 L418.78,173.03 L419.00,173.04 L419.22,173.06 L419.44,173.08 L419.67,173.10 L419.89,173.12 L420.11,173.14 L420.34,173.16 L420.56,173.18 L420.78,173.20 L421.00,173.21 L421.23,173.23 L421.45,173.25 L421.67,173.27 L421.89,173.29 L422.12,173.31 L422.34,173.32 L422.56,173.34 L422.78,173.36 L423.00,173.37 L423.23,173.39 L423.45,173.41 L423.67,173.42 L423.89,173.44 L424.12,173.45 L424.34,173.47 L424.56,173.49 L424.79,173.50 L425.01,173.51 L425.23,173.53 L425.45,173.54 L425.68,173.56 L425.90,173.57 L426.12,173.58 L426.34,173.60 L426.56,173.61 L426.79,173.62 L427.01,173.63 L427.23,173.65 L427.45,173.66 L427.68,173.67 L427.90,173.68 L428.12,173.69 L428.35,173.71 L428.57,173.72 L428.79,173.73 L429.01,173.74 L429.24,173.75 L429.46,173.76 L429.68,173.77 L429.90,173.78 L430.12,173.79 L430.35,173.80 L430.57,173.81 L430.79,173.82 L431.01,173.83 L431.24,173.84 L431.46,173.85 L431.68,173.85 L431.90,173.86 L432.13,173.87 L432.35,173.88 L432.57,173.89 L432.80,173.90 L433.02,173.90 L433.24,173.91 L433.46,173.92 L433.69,173.93 L433.91,173.94 L434.13,173.94 L434.35,173.95 L434.57,173.96 L434.80,173.96 L435.02,173.97 L435.24,173.98 L435.47,173.98 L435.69,173.99 L435.91,174.00 L436.13,174.00 L436.36,174.01 L436.58,174.02 L436.80,174.02 L437.02,174.03 L437.25,174.04 L437.47,174.04 L437.69,174.05 L437.91,174.05 L438.13,174.06 L438.36,174.07 L438.58,174.07 L438.80,174.08 L439.02,174.08 L439.25,174.09 L439.47,174.09 L439.69,174.10 L439.92,174.10 L440.14,174.11 L440.36,174.11 L440.58,174.12 L440.81,174.12 L441.03,174.13 L441.25,174.13 L441.47,174.14 L441.69,174.14 L441.92,174.15 L442.14,174.15 L442.36,174.16 L442.59,174.16 L442.81,174.17 L443.03,174.17 L443.25,174.17 L443.48,174.18 L443.70,174.18 L443.92,174.19 L444.14,174.19 L444.37,174.20 L444.59,174.20 L444.81,174.20 L445.03,174.21 L445.25,174.21 L445.48,174.22 L445.70,174.22" stroke="#6b0a1e" stroke-width="2"/>
</g>
<line x1="414.5" y1="135.4" x2="426.4" y2="135.4" stroke="#7048ad" stroke-width="0.9"/>
<text x="428.2" y="137.4" font-size="6" style="stroke-width:.08px">Total</text>
<line x1="414.5" y1="142.1" x2="426.4" y2="142.1" stroke="#3f6ea2" stroke-width="0.9"/>
<text x="428.2" y="144.1" font-size="6" style="stroke-width:.08px">BW</text>
<line x1="414.5" y1="148.8" x2="426.4" y2="148.8" stroke="#6b0a1e" stroke-width="2"/>
<text x="428.2" y="150.8" font-size="6" style="stroke-width:.08px">Fano</text>
<rect x="291.2" y="130.4" width="71.3" height="60.29999999999998" fill="none" stroke="#000" stroke-width="0.8"/>
<line x1="291.40" y1="130.4" x2="291.40" y2="132.20000000000002" stroke="#000" stroke-width="0.6"/>
<line x1="291.40" y1="190.7" x2="291.40" y2="188.89999999999998" stroke="#000" stroke-width="0.6"/>
<text x="291.40" y="200.1" font-size="7.3" text-anchor="middle">-6</text>
<line x1="309.20" y1="130.4" x2="309.20" y2="132.20000000000002" stroke="#000" stroke-width="0.6"/>
<line x1="309.20" y1="190.7" x2="309.20" y2="188.89999999999998" stroke="#000" stroke-width="0.6"/>
<text x="309.20" y="200.1" font-size="7.3" text-anchor="middle">-4</text>
<line x1="327.00" y1="130.4" x2="327.00" y2="132.20000000000002" stroke="#000" stroke-width="0.6"/>
<line x1="327.00" y1="190.7" x2="327.00" y2="188.89999999999998" stroke="#000" stroke-width="0.6"/>
<text x="327.00" y="200.1" font-size="7.3" text-anchor="middle">-2</text>
<line x1="344.80" y1="130.4" x2="344.80" y2="132.20000000000002" stroke="#000" stroke-width="0.6"/>
<line x1="344.80" y1="190.7" x2="344.80" y2="188.89999999999998" stroke="#000" stroke-width="0.6"/>
<text x="344.80" y="200.1" font-size="7.3" text-anchor="middle">0</text>
<line x1="362.60" y1="130.4" x2="362.60" y2="132.20000000000002" stroke="#000" stroke-width="0.6"/>
<line x1="362.60" y1="190.7" x2="362.60" y2="188.89999999999998" stroke="#000" stroke-width="0.6"/>
<text x="362.60" y="200.1" font-size="7.3" text-anchor="middle">2</text>
<line x1="300.30" y1="130.4" x2="300.30" y2="131.4" stroke="#000" stroke-width="0.5"/>
<line x1="300.30" y1="190.7" x2="300.30" y2="189.7" stroke="#000" stroke-width="0.5"/>
<line x1="318.10" y1="130.4" x2="318.10" y2="131.4" stroke="#000" stroke-width="0.5"/>
<line x1="318.10" y1="190.7" x2="318.10" y2="189.7" stroke="#000" stroke-width="0.5"/>
<line x1="335.90" y1="130.4" x2="335.90" y2="131.4" stroke="#000" stroke-width="0.5"/>
<line x1="335.90" y1="190.7" x2="335.90" y2="189.7" stroke="#000" stroke-width="0.5"/>
<line x1="353.70" y1="130.4" x2="353.70" y2="131.4" stroke="#000" stroke-width="0.5"/>
<line x1="353.70" y1="190.7" x2="353.70" y2="189.7" stroke="#000" stroke-width="0.5"/>
<line x1="291.2" y1="187.40" x2="293.0" y2="187.40" stroke="#000" stroke-width="0.6"/>
<line x1="362.5" y1="187.40" x2="360.7" y2="187.40" stroke="#000" stroke-width="0.6"/>
<line x1="291.2" y1="174.90" x2="293.0" y2="174.90" stroke="#000" stroke-width="0.6"/>
<line x1="362.5" y1="174.90" x2="360.7" y2="174.90" stroke="#000" stroke-width="0.6"/>
<line x1="291.2" y1="162.40" x2="293.0" y2="162.40" stroke="#000" stroke-width="0.6"/>
<line x1="362.5" y1="162.40" x2="360.7" y2="162.40" stroke="#000" stroke-width="0.6"/>
<line x1="291.2" y1="149.90" x2="293.0" y2="149.90" stroke="#000" stroke-width="0.6"/>
<line x1="362.5" y1="149.90" x2="360.7" y2="149.90" stroke="#000" stroke-width="0.6"/>
<line x1="291.2" y1="137.40" x2="293.0" y2="137.40" stroke="#000" stroke-width="0.6"/>
<line x1="362.5" y1="137.40" x2="360.7" y2="137.40" stroke="#000" stroke-width="0.6"/>
<text x="314.3" y="215" font-size="9.6"><tspan font-style="italic">V</tspan><tspan font-size="6.5" dy="2.4">g</tspan><tspan dy="-2.4"> (V)</tspan></text>
<rect x="374.3" y="130.4" width="71.3" height="60.29999999999998" fill="none" stroke="#000" stroke-width="0.8"/>
<line x1="374.50" y1="130.4" x2="374.50" y2="132.20000000000002" stroke="#000" stroke-width="0.6"/>
<line x1="374.50" y1="190.7" x2="374.50" y2="188.89999999999998" stroke="#000" stroke-width="0.6"/>
<text x="374.50" y="200.1" font-size="7.3" text-anchor="middle">-6</text>
<line x1="392.30" y1="130.4" x2="392.30" y2="132.20000000000002" stroke="#000" stroke-width="0.6"/>
<line x1="392.30" y1="190.7" x2="392.30" y2="188.89999999999998" stroke="#000" stroke-width="0.6"/>
<text x="392.30" y="200.1" font-size="7.3" text-anchor="middle">-4</text>
<line x1="410.10" y1="130.4" x2="410.10" y2="132.20000000000002" stroke="#000" stroke-width="0.6"/>
<line x1="410.10" y1="190.7" x2="410.10" y2="188.89999999999998" stroke="#000" stroke-width="0.6"/>
<text x="410.10" y="200.1" font-size="7.3" text-anchor="middle">-2</text>
<line x1="427.90" y1="130.4" x2="427.90" y2="132.20000000000002" stroke="#000" stroke-width="0.6"/>
<line x1="427.90" y1="190.7" x2="427.90" y2="188.89999999999998" stroke="#000" stroke-width="0.6"/>
<text x="427.90" y="200.1" font-size="7.3" text-anchor="middle">0</text>
<line x1="445.70" y1="130.4" x2="445.70" y2="132.20000000000002" stroke="#000" stroke-width="0.6"/>
<line x1="445.70" y1="190.7" x2="445.70" y2="188.89999999999998" stroke="#000" stroke-width="0.6"/>
<text x="445.70" y="200.1" font-size="7.3" text-anchor="middle">2</text>
<line x1="383.40" y1="130.4" x2="383.40" y2="131.4" stroke="#000" stroke-width="0.5"/>
<line x1="383.40" y1="190.7" x2="383.40" y2="189.7" stroke="#000" stroke-width="0.5"/>
<line x1="401.20" y1="130.4" x2="401.20" y2="131.4" stroke="#000" stroke-width="0.5"/>
<line x1="401.20" y1="190.7" x2="401.20" y2="189.7" stroke="#000" stroke-width="0.5"/>
<line x1="419.00" y1="130.4" x2="419.00" y2="131.4" stroke="#000" stroke-width="0.5"/>
<line x1="419.00" y1="190.7" x2="419.00" y2="189.7" stroke="#000" stroke-width="0.5"/>
<line x1="436.80" y1="130.4" x2="436.80" y2="131.4" stroke="#000" stroke-width="0.5"/>
<line x1="436.80" y1="190.7" x2="436.80" y2="189.7" stroke="#000" stroke-width="0.5"/>
<line x1="374.3" y1="187.40" x2="376.1" y2="187.40" stroke="#000" stroke-width="0.6"/>
<line x1="445.6" y1="187.40" x2="443.8" y2="187.40" stroke="#000" stroke-width="0.6"/>
<line x1="374.3" y1="174.90" x2="376.1" y2="174.90" stroke="#000" stroke-width="0.6"/>
<line x1="445.6" y1="174.90" x2="443.8" y2="174.90" stroke="#000" stroke-width="0.6"/>
<line x1="374.3" y1="162.40" x2="376.1" y2="162.40" stroke="#000" stroke-width="0.6"/>
<line x1="445.6" y1="162.40" x2="443.8" y2="162.40" stroke="#000" stroke-width="0.6"/>
<line x1="374.3" y1="149.90" x2="376.1" y2="149.90" stroke="#000" stroke-width="0.6"/>
<line x1="445.6" y1="149.90" x2="443.8" y2="149.90" stroke="#000" stroke-width="0.6"/>
<line x1="374.3" y1="137.40" x2="376.1" y2="137.40" stroke="#000" stroke-width="0.6"/>
<line x1="445.6" y1="137.40" x2="443.8" y2="137.40" stroke="#000" stroke-width="0.6"/>
<text x="397.4" y="215" font-size="9.6"><tspan font-style="italic">V</tspan><tspan font-size="6.5" dy="2.4">g</tspan><tspan dy="-2.4"> (V)</tspan></text>
<text x="289.2" y="189.90" font-size="7.3" text-anchor="end">0.0</text>
<text x="289.2" y="177.40" font-size="7.3" text-anchor="end">0.2</text>
<text x="289.2" y="164.90" font-size="7.3" text-anchor="end">0.4</text>
<text x="289.2" y="152.40" font-size="7.3" text-anchor="end">0.6</text>
<text x="289.2" y="139.90" font-size="7.3" text-anchor="end">0.8</text>
<text transform="translate(272.4,161.2) rotate(-90)" font-size="9.4" text-anchor="middle">Zero-bias <tspan font-style="italic">G</tspan> (<tspan font-style="italic">e</tspan><tspan font-size="5.6" dy="-3.4">2</tspan><tspan dy="3.4">/</tspan><tspan font-style="italic">h</tspan>)</text>
</g>
</svg>
</body></html>
